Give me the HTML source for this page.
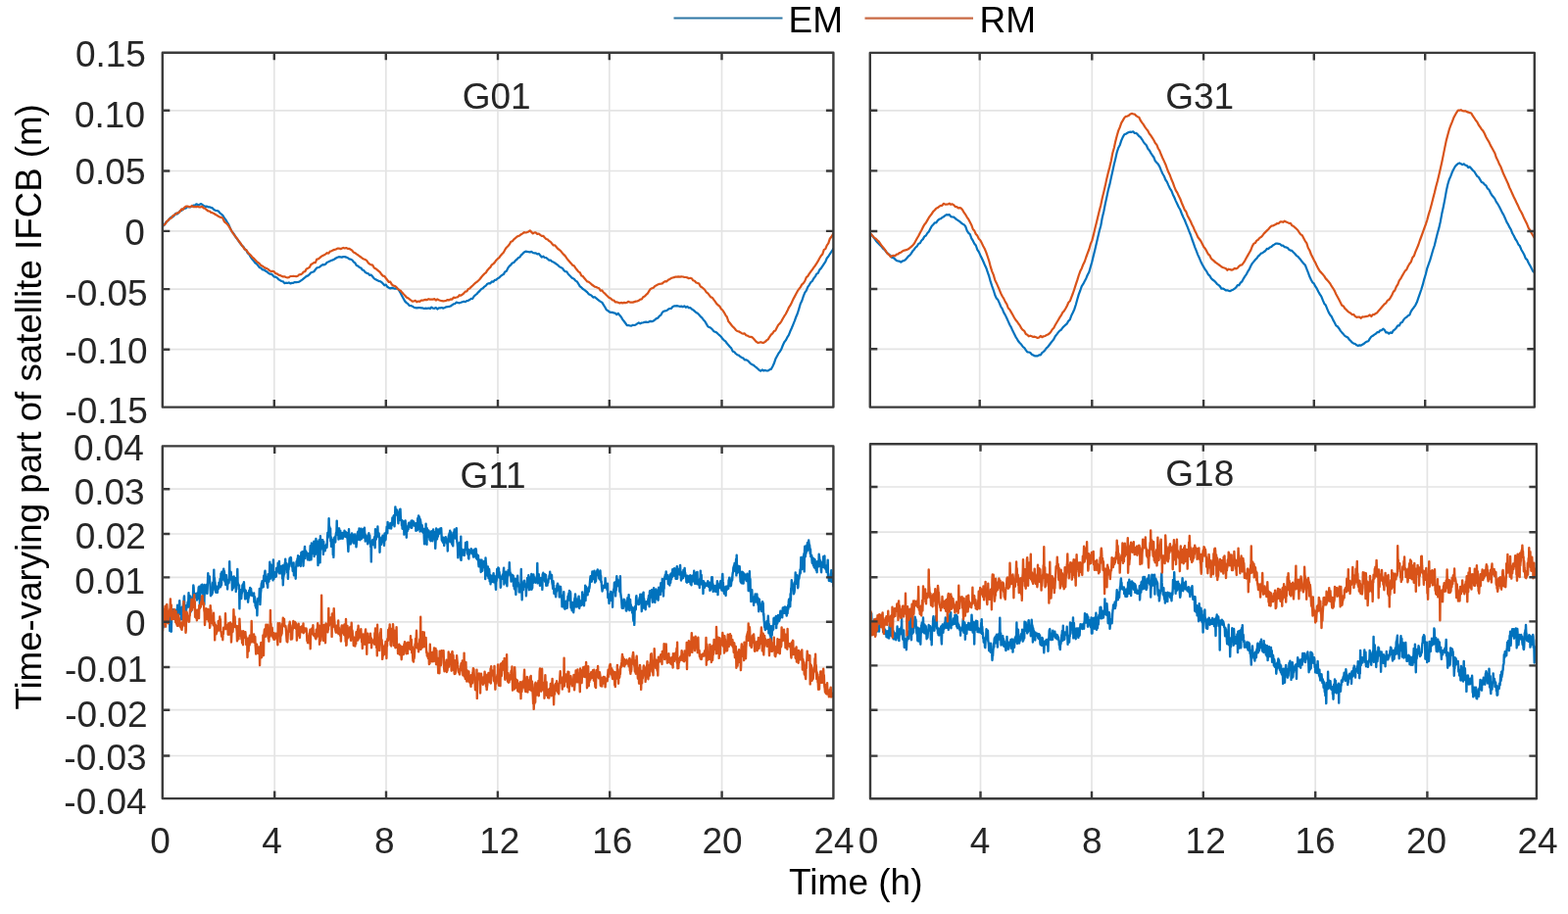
<!DOCTYPE html>
<html><head><meta charset="utf-8"><title>IFCB</title><style>
html,body{margin:0;padding:0;background:#fff;overflow:hidden;}
svg{display:block;}
text{font-family:"Liberation Sans",Arial,Helvetica,sans-serif;}
</style></head><body>
<svg width="1600" height="933" viewBox="0 0 1600 933">
<rect width="1600" height="933" fill="#fff"/>
<g stroke="#e4e4e4" stroke-width="1.7" fill="none">
<line x1="279.8" y1="53.8" x2="279.8" y2="415.6"/>
<line x1="393.8" y1="53.8" x2="393.8" y2="415.6"/>
<line x1="508" y1="53.8" x2="508" y2="415.6"/>
<line x1="621.8" y1="53.8" x2="621.8" y2="415.6"/>
<line x1="736.5" y1="53.8" x2="736.5" y2="415.6"/>
<line x1="165.8" y1="112.8" x2="850.4" y2="112.8"/>
<line x1="165.8" y1="174.5" x2="850.4" y2="174.5"/>
<line x1="165.8" y1="235.9" x2="850.4" y2="235.9"/>
<line x1="165.8" y1="295.1" x2="850.4" y2="295.1"/>
<line x1="165.8" y1="356.7" x2="850.4" y2="356.7"/>
</g>
<clipPath id="c1"><rect x="165.8" y="53.8" width="684.6" height="361.8"/></clipPath>
<g stroke="#e4e4e4" stroke-width="1.7" fill="none">
<line x1="999.7" y1="53.9" x2="999.7" y2="415.6"/>
<line x1="1114.3" y1="53.9" x2="1114.3" y2="415.6"/>
<line x1="1228.1" y1="53.9" x2="1228.1" y2="415.6"/>
<line x1="1340.8" y1="53.9" x2="1340.8" y2="415.6"/>
<line x1="1454.2" y1="53.9" x2="1454.2" y2="415.6"/>
<line x1="887.8" y1="112.8" x2="1565.8" y2="112.8"/>
<line x1="887.8" y1="174.4" x2="1565.8" y2="174.4"/>
<line x1="887.8" y1="236" x2="1565.8" y2="236"/>
<line x1="887.8" y1="295" x2="1565.8" y2="295"/>
<line x1="887.8" y1="356.3" x2="1565.8" y2="356.3"/>
</g>
<clipPath id="c2"><rect x="887.8" y="53.9" width="678" height="361.7"/></clipPath>
<g stroke="#e4e4e4" stroke-width="1.7" fill="none">
<line x1="280.2" y1="455.4" x2="280.2" y2="815.1"/>
<line x1="394" y1="455.4" x2="394" y2="815.1"/>
<line x1="507.9" y1="455.4" x2="507.9" y2="815.1"/>
<line x1="622.2" y1="455.4" x2="622.2" y2="815.1"/>
<line x1="736.6" y1="455.4" x2="736.6" y2="815.1"/>
<line x1="165.8" y1="499.2" x2="850.4" y2="499.2"/>
<line x1="165.8" y1="545" x2="850.4" y2="545"/>
<line x1="165.8" y1="589.4" x2="850.4" y2="589.4"/>
<line x1="165.8" y1="634.8" x2="850.4" y2="634.8"/>
<line x1="165.8" y1="681" x2="850.4" y2="681"/>
<line x1="165.8" y1="724.7" x2="850.4" y2="724.7"/>
<line x1="165.8" y1="771.5" x2="850.4" y2="771.5"/>
</g>
<clipPath id="c3"><rect x="165.8" y="455.4" width="684.6" height="359.7"/></clipPath>
<g stroke="#e4e4e4" stroke-width="1.7" fill="none">
<line x1="1000.5" y1="453.3" x2="1000.5" y2="815.2"/>
<line x1="1114" y1="453.3" x2="1114" y2="815.2"/>
<line x1="1227.8" y1="453.3" x2="1227.8" y2="815.2"/>
<line x1="1342.2" y1="453.3" x2="1342.2" y2="815.2"/>
<line x1="1456.4" y1="453.3" x2="1456.4" y2="815.2"/>
<line x1="888" y1="497" x2="1567.9" y2="497"/>
<line x1="888" y1="543.2" x2="1567.9" y2="543.2"/>
<line x1="888" y1="589.2" x2="1567.9" y2="589.2"/>
<line x1="888" y1="634.4" x2="1567.9" y2="634.4"/>
<line x1="888" y1="679.4" x2="1567.9" y2="679.4"/>
<line x1="888" y1="724.7" x2="1567.9" y2="724.7"/>
<line x1="888" y1="771.6" x2="1567.9" y2="771.6"/>
</g>
<clipPath id="c4"><rect x="888" y="453.3" width="679.9" height="361.9"/></clipPath>
<polyline clip-path="url(#c1)" fill="none" stroke="#0072bd" stroke-width="2.2" stroke-linejoin="round" points="165.8,230.6 167.3,230.1 168.8,227.5 170.3,226.2 171.8,224.8 173.3,223.1 174.8,221.5 176.3,221.3 177.8,220 179.3,217.8 180.8,218.6 182.3,217 183.8,215.2 185.3,215 186.8,213.5 188.3,212.8 189.8,212.5 191.3,211 192.8,211.3 194.3,211.3 195.8,210.8 197.3,209.7 198.8,209.9 200.3,208.4 201.8,208.9 203.3,209 204.8,208.1 206.3,208.8 207.8,209.9 209.3,210.8 210.8,210.6 212.3,211.3 213.8,211.3 215.3,211.9 216.8,212.4 218.3,214 219.8,214.8 221.3,215 222.8,215.6 224.3,217.3 225.8,218.5 227.3,219.8 228.8,222.4 230.3,224.2 231.8,226.9 233.3,229.2 234.8,232.6 236.3,235.9 237.8,237.7 239.3,239.9 240.8,242.3 242.3,244.3 243.8,246.5 245.3,248.5 246.8,250.6 248.3,251.9 249.8,254.4 251.3,255.5 252.8,258.4 254.3,259.8 255.8,262.4 257.3,264.6 258.8,266.2 260.3,268.3 261.8,269.2 263.3,271.1 264.8,273.1 266.3,273.5 267.8,275.4 269.3,275.4 270.8,276.5 272.3,277.3 273.8,278.6 275.3,279.6 276.8,279.7 278.3,280.9 279.8,282.6 281.3,282.7 282.8,283.6 284.3,285.3 285.8,286.1 287.3,287 288.8,287.3 290.3,289.1 291.8,288.7 293.3,289 294.8,288.4 296.3,289.4 297.8,288.9 299.3,288.8 300.8,288.1 302.3,288.1 303.8,287.9 305.3,287.6 306.8,286.6 308.3,285.6 309.8,284.4 311.3,283.2 312.8,281.9 314.3,281.4 315.8,280 317.3,278.2 318.8,277.8 320.3,277.2 321.8,275.3 323.3,273.4 324.8,273 326.3,272.4 327.8,271.2 329.3,270.1 330.8,270.3 332.3,269.5 333.8,267.7 335.3,267.3 336.8,266.4 338.3,265.8 339.8,265.4 341.3,264.5 342.8,263.5 344.3,262.7 345.8,262.2 347.3,262.3 348.8,262.6 350.3,262.1 351.8,262.1 353.3,262.6 354.8,263.2 356.3,264.3 357.8,264.6 359.3,265.4 360.8,267.3 362.3,268.4 363.8,271 365.3,271.6 366.8,272.9 368.3,273.5 369.8,275.5 371.3,276.1 372.8,278 374.3,278.9 375.8,279.3 377.3,280.9 378.8,280.6 380.3,282.5 381.8,284.4 383.3,285.2 384.8,286 386.3,286.8 387.8,287.1 389.3,288 390.8,289.6 392.3,291.3 393.8,290.6 395.3,292.8 396.8,293.7 398.3,294.4 399.8,293.9 401.3,294.2 402.8,294.6 404.3,294.4 405.8,294.8 407.3,296.6 408.8,299.3 410.3,302.3 411.8,305 413.3,307.6 414.8,309.1 416.3,310.2 417.8,311.9 419.3,312.1 420.8,312.7 422.3,313.7 423.8,314.2 425.3,314.4 426.8,314.1 428.3,314 429.8,314.3 431.3,314.4 432.8,315 434.3,314.6 435.8,314.8 437.3,314.5 438.8,315.1 440.3,313.6 441.8,314.7 443.3,314.8 444.8,314 446.3,315.5 447.8,314.4 449.3,314.4 450.8,314 452.3,314.7 453.8,314.1 455.3,313.3 456.8,313.2 458.3,312.8 459.8,312.5 461.3,311.4 462.8,310.3 464.3,310 465.8,308.7 467.3,309 468.8,309.3 470.3,308.8 471.8,308.2 473.3,307.7 474.8,308.1 476.3,307.1 477.8,306.8 479.3,306 480.8,304.8 482.3,304.8 483.8,302.3 485.3,301 486.8,299.8 488.3,298.1 489.8,296.6 491.3,295 492.8,294.3 494.3,292.6 495.8,291.6 497.3,289.8 498.8,289.2 500.3,289.3 501.8,287.4 503.3,287.7 504.8,285.9 506.3,285.6 507.8,284.2 509.3,283.6 510.8,281.9 512.3,280.8 513.8,280.1 515.3,277.4 516.8,276.7 518.3,273.7 519.8,271.6 521.3,270.3 522.8,268.5 524.3,267.9 525.8,266.2 527.3,264.9 528.8,263.2 530.3,262.6 531.8,260.4 533.3,259.1 534.8,257.5 536.3,256.7 537.8,256.8 539.3,257.2 540.8,257.4 542.3,256.8 543.8,258 545.3,258.3 546.8,258.3 548.3,259.5 549.8,258.9 551.3,260.7 552.8,262.5 554.3,261.7 555.8,263 557.3,263 558.8,264.3 560.3,265.7 561.8,265.7 563.3,267 564.8,267.6 566.3,268.5 567.8,269.6 569.3,270.7 570.8,272.1 572.3,273.1 573.8,273.7 575.3,275.9 576.8,277.2 578.3,277.3 579.8,279.8 581.3,281.3 582.8,282.8 584.3,284.1 585.8,284.7 587.3,286.6 588.8,287.4 590.3,289.8 591.8,292.4 593.3,293.4 594.8,295 596.3,295.9 597.8,297.1 599.3,298.4 600.8,300.2 602.3,300.9 603.8,301.9 605.3,303.6 606.8,303.2 608.3,304.3 609.8,305.6 611.3,306.8 612.8,307.9 614.3,308.7 615.8,311.1 617.3,313.5 618.8,316.3 620.3,317.1 621.8,318.4 623.3,318.9 624.8,318.9 626.3,319.4 627.8,319.7 629.3,321.1 630.8,319.8 632.3,321.8 633.8,323.5 635.3,326.1 636.8,328 638.3,330 639.8,332.1 641.3,332 642.8,332.5 644.3,332.6 645.8,331.8 647.3,332 648.8,331.4 650.3,330.3 651.8,329.3 653.3,330.3 654.8,329.5 656.3,329.3 657.8,328.9 659.3,328.7 660.8,329 662.3,328.4 663.8,327.9 665.3,328.2 666.8,327.6 668.3,326.4 669.8,325.1 671.3,324.6 672.8,322.7 674.3,321.7 675.8,319 677.3,317.7 678.8,317.3 680.3,317 681.8,315.8 683.3,315 684.8,315 686.3,313.2 687.8,312.4 689.3,312.3 690.8,312.2 692.3,312.5 693.8,312.8 695.3,312.6 696.8,313.3 698.3,312.4 699.8,313.8 701.3,312.9 702.8,314.3 704.3,314 705.8,315.5 707.3,316.4 708.8,317.7 710.3,319 711.8,319.8 713.3,321.3 714.8,323.1 716.3,324.3 717.8,326.5 719.3,328 720.8,330.6 722.3,333.3 723.8,334.1 725.3,334.8 726.8,336.2 728.3,338.2 729.8,338.7 731.3,339.5 732.8,341 734.3,342.3 735.8,343.7 737.3,345.9 738.8,347.3 740.3,348.3 741.8,350.6 743.3,352.2 744.8,354 746.3,355.6 747.8,358.8 749.3,359.3 750.8,361 752.3,362.2 753.8,362.6 755.3,364 756.8,364.9 758.3,365.6 759.8,367.3 761.3,367.3 762.8,368 764.3,369.4 765.8,371.1 767.3,372 768.8,372.7 770.3,374 771.8,375.2 773.3,376.5 774.8,377.9 776.3,378.7 777.8,377.5 779.3,378.5 780.8,377.9 782.3,378.5 783.8,378.4 785.3,377.3 786.8,376.9 788.3,374.2 789.8,371.1 791.3,366.6 792.8,363.8 794.3,360.9 795.8,358.8 797.3,356.4 798.8,352.5 800.3,349.3 801.8,347.4 803.3,344.4 804.8,342.2 806.3,338.3 807.8,335 809.3,331.3 810.8,327.6 812.3,323.5 813.8,320 815.3,315.2 816.8,310 818.3,307 819.8,302.4 821.3,298.7 822.8,296.6 824.3,292.8 825.8,290.8 827.3,288.2 828.8,287 830.3,284.2 831.8,282.4 833.3,279.6 834.8,278.8 836.3,275.4 837.8,273.9 839.3,271.7 840.8,269.4 842.3,267.2 843.8,263.5 845.3,261.8 846.8,259.3 848.3,257 849.8,254.8 850.4,253.4"/>
<polyline clip-path="url(#c1)" fill="none" stroke="#d95319" stroke-width="2.2" stroke-linejoin="round" points="165.8,230.9 167.3,229.5 168.8,228.6 170.3,225.8 171.8,224.8 173.3,223 174.8,222.7 176.3,220.2 177.8,219.6 179.3,218.4 180.8,217.3 182.3,217.1 183.8,215.6 185.3,213.4 186.8,213.9 188.3,211.6 189.8,210.7 191.3,210.5 192.8,211.1 194.3,211.2 195.8,210 197.3,211.2 198.8,210.9 200.3,211.3 201.8,210.8 203.3,211.4 204.8,211.3 206.3,210.7 207.8,212.4 209.3,212.8 210.8,214.1 212.3,215.4 213.8,215.5 215.3,216.9 216.8,217.3 218.3,217.9 219.8,219 221.3,219.7 222.8,220.8 224.3,221.6 225.8,221.9 227.3,222.7 228.8,226.1 230.3,227.5 231.8,228.7 233.3,230.6 234.8,233.1 236.3,235.7 237.8,238.2 239.3,240.2 240.8,242.1 242.3,244 243.8,246.3 245.3,248.2 246.8,250.5 248.3,252.4 249.8,254.5 251.3,255.2 252.8,257.6 254.3,259.2 255.8,260.5 257.3,262.5 258.8,263.6 260.3,265.2 261.8,266.8 263.3,268 264.8,269.1 266.3,271 267.8,271.6 269.3,272.7 270.8,273.6 272.3,274.1 273.8,274.9 275.3,276.5 276.8,276.8 278.3,276.9 279.8,277.4 281.3,279.2 282.8,279.5 284.3,280.6 285.8,281.1 287.3,281.8 288.8,282.4 290.3,282.3 291.8,283 293.3,283.4 294.8,283.2 296.3,282 297.8,282 299.3,281.8 300.8,282 302.3,282.2 303.8,281.7 305.3,280.3 306.8,280.2 308.3,279.4 309.8,277.5 311.3,277.1 312.8,274.4 314.3,273.7 315.8,272.9 317.3,270 318.8,269.2 320.3,268.2 321.8,268.1 323.3,264.5 324.8,264.4 326.3,263.2 327.8,261.9 329.3,260.9 330.8,260.2 332.3,259.4 333.8,258.2 335.3,258.6 336.8,256.6 338.3,256.2 339.8,255.4 341.3,254.9 342.8,254.5 344.3,253.6 345.8,253.5 347.3,254.1 348.8,253.6 350.3,252.9 351.8,253.5 353.3,253 354.8,253.9 356.3,253.8 357.8,254.7 359.3,255.7 360.8,257.6 362.3,258.2 363.8,259.4 365.3,260.3 366.8,261.5 368.3,262.5 369.8,263.7 371.3,264.4 372.8,265 374.3,266.2 375.8,268.3 377.3,269.6 378.8,270.4 380.3,270.7 381.8,273.5 383.3,274.2 384.8,275.3 386.3,276.6 387.8,277.8 389.3,280.1 390.8,281.6 392.3,281.9 393.8,284 395.3,286 396.8,288 398.3,287.7 399.8,290.4 401.3,291.7 402.8,291.8 404.3,292.9 405.8,294.8 407.3,295.9 408.8,296.8 410.3,298.6 411.8,300.3 413.3,301.7 414.8,303.5 416.3,304.2 417.8,305.3 419.3,306.5 420.8,307.7 422.3,307.5 423.8,306.8 425.3,308.3 426.8,307.5 428.3,307.8 429.8,306.7 431.3,306.7 432.8,306.2 434.3,305.9 435.8,306.2 437.3,305.2 438.8,305.6 440.3,305.7 441.8,305.7 443.3,305.1 444.8,306.5 446.3,305.4 447.8,306.2 449.3,306.8 450.8,307.2 452.3,307.3 453.8,307.1 455.3,306.8 456.8,306.1 458.3,306.4 459.8,305.4 461.3,305.6 462.8,303.7 464.3,303.8 465.8,303.5 467.3,303.1 468.8,301.2 470.3,301.7 471.8,300.7 473.3,299.4 474.8,297.6 476.3,297.3 477.8,295.1 479.3,294.5 480.8,292.8 482.3,291.5 483.8,290 485.3,288.6 486.8,287.6 488.3,286.2 489.8,284.7 491.3,282.8 492.8,281.1 494.3,279.4 495.8,278.4 497.3,275.9 498.8,274.2 500.3,272.9 501.8,270.4 503.3,269.4 504.8,267.9 506.3,265.7 507.8,264.2 509.3,263.1 510.8,260.9 512.3,259.2 513.8,257.7 515.3,254.9 516.8,252.7 518.3,251.2 519.8,249.5 521.3,246.7 522.8,246.2 524.3,244.4 525.8,243.2 527.3,241.8 528.8,241 530.3,240.4 531.8,239.2 533.3,238.4 534.8,237.2 536.3,237.5 537.8,237.1 539.3,236.5 540.8,235.4 542.3,236.9 543.8,238.4 545.3,237.4 546.8,237.4 548.3,239 549.8,238.5 551.3,239.8 552.8,240.8 554.3,240.8 555.8,242.5 557.3,244 558.8,244.4 560.3,246 561.8,246.9 563.3,248.7 564.8,250.4 566.3,250.4 567.8,252.2 569.3,254 570.8,255 572.3,256.4 573.8,258.2 575.3,259.9 576.8,261.4 578.3,263.6 579.8,265.5 581.3,267.2 582.8,268.9 584.3,270.8 585.8,271.3 587.3,273.6 588.8,275.5 590.3,277.4 591.8,278.2 593.3,281.5 594.8,282 596.3,284.1 597.8,285.8 599.3,287.4 600.8,287.8 602.3,289 603.8,290.5 605.3,291.5 606.8,292.6 608.3,293 609.8,293.7 611.3,294.3 612.8,296.7 614.3,296.3 615.8,298.5 617.3,299.7 618.8,301.3 620.3,302.7 621.8,304.1 623.3,304.8 624.8,306.3 626.3,306.5 627.8,308.3 629.3,308.4 630.8,308.8 632.3,309.5 633.8,308.9 635.3,309.4 636.8,308.8 638.3,309.1 639.8,308.7 641.3,307.8 642.8,308.6 644.3,308.6 645.8,308.6 647.3,308.1 648.8,307.6 650.3,307.5 651.8,306.8 653.3,305.7 654.8,305.5 656.3,303.2 657.8,302.5 659.3,300.9 660.8,299.7 662.3,297.1 663.8,294.9 665.3,294.2 666.8,293.8 668.3,292.1 669.8,291.3 671.3,290.4 672.8,289.8 674.3,289.7 675.8,289.4 677.3,288 678.8,287.1 680.3,287.3 681.8,285.8 683.3,285 684.8,284.1 686.3,283.5 687.8,283.2 689.3,282.5 690.8,282.6 692.3,282.3 693.8,282.6 695.3,282.3 696.8,282.5 698.3,282.9 699.8,283 701.3,283.3 702.8,284.2 704.3,283.8 705.8,284.2 707.3,286.3 708.8,286.8 710.3,288.5 711.8,288.9 713.3,289.6 714.8,292.6 716.3,293.3 717.8,294.5 719.3,296 720.8,298.3 722.3,299.4 723.8,301.4 725.3,303.4 726.8,303.8 728.3,305.9 729.8,307.9 731.3,310.1 732.8,311.5 734.3,312.6 735.8,315.3 737.3,316.5 738.8,318.8 740.3,321.6 741.8,323.5 743.3,328.1 744.8,329.8 746.3,331.7 747.8,333.5 749.3,334.9 750.8,336.8 752.3,338 753.8,338.3 755.3,339.2 756.8,340.2 758.3,340.6 759.8,340.4 761.3,342.2 762.8,342.6 764.3,343.6 765.8,343.8 767.3,344.1 768.8,345.5 770.3,347.2 771.8,348.9 773.3,349.9 774.8,349.6 776.3,349.2 777.8,349.8 779.3,349.8 780.8,348.9 782.3,347.4 783.8,346.4 785.3,343.8 786.8,341.6 788.3,340.3 789.8,338.1 791.3,337.4 792.8,334.2 794.3,331.5 795.8,330.2 797.3,328.1 798.8,325.2 800.3,322.7 801.8,320.5 803.3,317.6 804.8,314.2 806.3,311.9 807.8,309 809.3,305.6 810.8,302.9 812.3,300.1 813.8,297.2 815.3,295 816.8,293.1 818.3,290.4 819.8,289.1 821.3,286.9 822.8,283.2 824.3,281.9 825.8,279.4 827.3,277.3 828.8,275.4 830.3,273.1 831.8,271.2 833.3,268.8 834.8,266.4 836.3,263.5 837.8,261.1 839.3,259.4 840.8,254.9 842.3,254.1 843.8,250.3 845.3,248.3 846.8,243.7 848.3,241.8 849.8,239.4 850.4,237.9"/>
<polyline clip-path="url(#c2)" fill="none" stroke="#0072bd" stroke-width="2.2" stroke-linejoin="round" points="887.8,238.7 889.3,239.7 890.8,241.7 892.3,243.4 893.8,245.7 895.3,247.4 896.8,248.9 898.3,250.5 899.8,252.1 901.3,254 902.8,255.2 904.3,257.2 905.8,258.7 907.3,259.9 908.8,261.1 910.3,263 911.8,263.1 913.3,264.6 914.8,266 916.3,266.5 917.8,266.7 919.3,267.6 920.8,266.5 922.3,266.1 923.8,265.2 925.3,263.6 926.8,261.7 928.3,260.6 929.8,258.7 931.3,256.3 932.8,254.7 934.3,252.5 935.8,251.3 937.3,248.7 938.8,248.2 940.3,245.5 941.8,244.1 943.3,241.4 944.8,240.5 946.3,238 947.8,236.4 949.3,233.5 950.8,230.7 952.3,229.2 953.8,227.4 955.3,227.3 956.8,225.1 958.3,223.8 959.8,223.3 961.3,222.1 962.8,221.3 964.3,220.1 965.8,219.1 967.3,219.3 968.8,219.1 970.3,221.1 971.8,221.5 973.3,221.7 974.8,223 976.3,224.1 977.8,225.1 979.3,226.2 980.8,227.5 982.3,228.6 983.8,229.4 985.3,231.3 986.8,235.6 988.3,237.9 989.8,239.2 991.3,243.3 992.8,245.7 994.3,248.7 995.8,250.5 997.3,254.8 998.8,257.1 1000.3,260.4 1001.8,263.5 1003.3,266.8 1004.8,270.3 1006.3,273.4 1007.8,277.8 1009.3,282.2 1010.8,287.7 1012.3,292.2 1013.8,296.3 1015.3,301.3 1016.8,304.5 1018.3,306.1 1019.8,309.4 1021.3,313 1022.8,315.3 1024.3,319.2 1025.8,321.6 1027.3,324.8 1028.8,328.1 1030.3,331.5 1031.8,334.1 1033.3,337.6 1034.8,340.5 1036.3,343.6 1037.8,346 1039.3,348.6 1040.8,350.3 1042.3,351.8 1043.8,354 1045.3,355.2 1046.8,357.4 1048.3,359.4 1049.8,359.5 1051.3,360.1 1052.8,361.8 1054.3,362.5 1055.8,363.3 1057.3,363.3 1058.8,363.4 1060.3,362.3 1061.8,362.4 1063.3,360.2 1064.8,359 1066.3,357.4 1067.8,355.3 1069.3,354 1070.8,352 1072.3,350 1073.8,348.1 1075.3,346.3 1076.8,343.3 1078.3,341.4 1079.8,339.4 1081.3,337.6 1082.8,336.7 1084.3,334.6 1085.8,333 1087.3,331.6 1088.8,330.3 1090.3,327.6 1091.8,326.2 1093.3,322 1094.8,319 1096.3,315.7 1097.8,311 1099.3,305.5 1100.8,300.4 1102.3,296.5 1103.8,292.1 1105.3,289.9 1106.8,287 1108.3,284.2 1109.8,280.5 1111.3,277.7 1112.8,272.5 1114.3,267.2 1115.8,261.1 1117.3,254.9 1118.8,248.5 1120.3,242.1 1121.8,235.7 1123.3,230.3 1124.8,221.9 1126.3,215.7 1127.8,208 1129.3,201.3 1130.8,194 1132.3,188.4 1133.8,181.6 1135.3,174.7 1136.8,167.8 1138.3,161.7 1139.8,155.1 1141.3,150.7 1142.8,147.9 1144.3,143.2 1145.8,139.9 1147.3,137.3 1148.8,136.7 1150.3,135.8 1151.8,135 1153.3,134.7 1154.8,134.8 1156.3,134.3 1157.8,136 1159.3,135.9 1160.8,137.2 1162.3,139 1163.8,140.1 1165.3,142.3 1166.8,144.8 1168.3,146.8 1169.8,148.2 1171.3,151.7 1172.8,153.4 1174.3,156.1 1175.8,158.5 1177.3,160.5 1178.8,164.3 1180.3,165.9 1181.8,167.6 1183.3,170.1 1184.8,173.9 1186.3,177.2 1187.8,179.7 1189.3,183.5 1190.8,185.6 1192.3,189.1 1193.8,192.3 1195.3,194.6 1196.8,198.4 1198.3,201.5 1199.8,205.1 1201.3,208.3 1202.8,211.5 1204.3,214 1205.8,218 1207.3,221.5 1208.8,224.5 1210.3,228.3 1211.8,231.9 1213.3,235.9 1214.8,239.5 1216.3,244 1217.8,248.1 1219.3,252.3 1220.8,256.1 1222.3,260.1 1223.8,263.3 1225.3,266.9 1226.8,270 1228.3,272.6 1229.8,275.2 1231.3,277.2 1232.8,280.1 1234.3,281.4 1235.8,283.9 1237.3,285.5 1238.8,286.5 1240.3,287.9 1241.8,289.8 1243.3,290.8 1244.8,292.1 1246.3,294.6 1247.8,294.5 1249.3,295.3 1250.8,296.3 1252.3,296.3 1253.8,296.8 1255.3,297.1 1256.8,296.2 1258.3,295.7 1259.8,294.6 1261.3,293.4 1262.8,291.1 1264.3,291.1 1265.8,288.7 1267.3,287.4 1268.8,284.6 1270.3,282.1 1271.8,280.1 1273.3,277.2 1274.8,274.9 1276.3,271.5 1277.8,268.9 1279.3,267.1 1280.8,265.3 1282.3,263.8 1283.8,261.7 1285.3,260.4 1286.8,258.6 1288.3,258.2 1289.8,257 1291.3,256 1292.8,253.8 1294.3,254.1 1295.8,252.5 1297.3,251.9 1298.8,250.5 1300.3,249.6 1301.8,248.6 1303.3,248.7 1304.8,248.8 1306.3,249.3 1307.8,250.7 1309.3,250.7 1310.8,252.1 1312.3,252.4 1313.8,253.1 1315.3,254.7 1316.8,255.6 1318.3,255.9 1319.8,257.5 1321.3,259 1322.8,260.8 1324.3,261.8 1325.8,263.6 1327.3,265.3 1328.8,267.3 1330.3,269.1 1331.8,270.5 1333.3,274.4 1334.8,278.2 1336.3,282.3 1337.8,285.5 1339.3,288.3 1340.8,289.4 1342.3,292.4 1343.8,294.7 1345.3,297.7 1346.8,300.4 1348.3,302.6 1349.8,306.4 1351.3,309.9 1352.8,311.6 1354.3,315.3 1355.8,318.9 1357.3,321.5 1358.8,323.3 1360.3,326.6 1361.8,329.2 1363.3,332.4 1364.8,333.3 1366.3,335.2 1367.8,337.6 1369.3,339.4 1370.8,341.1 1372.3,342.9 1373.8,343.7 1375.3,344.5 1376.8,346.6 1378.3,348 1379.8,349.7 1381.3,350.7 1382.8,351 1384.3,352.3 1385.8,352.9 1387.3,352.4 1388.8,352.7 1390.3,351.7 1391.8,350.8 1393.3,349.5 1394.8,348.6 1396.3,348.2 1397.8,345.6 1399.3,343.6 1400.8,342.8 1402.3,341.6 1403.8,340.8 1405.3,339.2 1406.8,339.2 1408.3,337.3 1409.8,337.1 1411.3,335.7 1412.8,336.9 1414.3,339.5 1415.8,339.3 1417.3,340.6 1418.8,339.4 1420.3,339.9 1421.8,337.4 1423.3,336.3 1424.8,334.7 1426.3,332.3 1427.8,332.4 1429.3,329.6 1430.8,329 1432.3,326.4 1433.8,324.6 1435.3,323.8 1436.8,322.2 1438.3,321.6 1439.8,317.9 1441.3,315.6 1442.8,313.7 1444.3,311.6 1445.8,308.6 1447.3,304.1 1448.8,299.9 1450.3,295.5 1451.8,290.7 1453.3,284.8 1454.8,280 1456.3,273.8 1457.8,269.7 1459.3,265.4 1460.8,260.2 1462.3,255 1463.8,250.5 1465.3,244.2 1466.8,238.2 1468.3,232.9 1469.8,226.2 1471.3,218.1 1472.8,211.2 1474.3,203.6 1475.8,195.1 1477.3,188.3 1478.8,183.2 1480.3,179.9 1481.8,175.8 1483.3,172.7 1484.8,170 1486.3,168.3 1487.8,167 1489.3,166.4 1490.8,167.2 1492.3,168.1 1493.8,167.3 1495.3,168.7 1496.8,169 1498.3,171 1499.8,170.3 1501.3,172 1502.8,173.8 1504.3,175 1505.8,177.5 1507.3,179.9 1508.8,180.9 1510.3,183.4 1511.8,185.9 1513.3,186.6 1514.8,188.3 1516.3,189.3 1517.8,192.3 1519.3,193.5 1520.8,196.6 1522.3,199.2 1523.8,201 1525.3,202.9 1526.8,206.1 1528.3,208.2 1529.8,210.7 1531.3,213.7 1532.8,216.9 1534.3,219.4 1535.8,222.7 1537.3,226.4 1538.8,228.8 1540.3,231.9 1541.8,234.3 1543.3,238.3 1544.8,240.8 1546.3,244 1547.8,246.1 1549.3,249.4 1550.8,251 1552.3,254.7 1553.8,257.3 1555.3,260 1556.8,263.9 1558.3,265.2 1559.8,268.5 1561.3,271.1 1562.8,274.1 1564.3,276.9 1565.8,278.3"/>
<polyline clip-path="url(#c2)" fill="none" stroke="#d95319" stroke-width="2.2" stroke-linejoin="round" points="887.8,238 889.3,239.3 890.8,241.3 892.3,242.9 893.8,243.8 895.3,245.3 896.8,246.6 898.3,248.9 899.8,251.1 901.3,252.7 902.8,254.6 904.3,256.9 905.8,259 907.3,260.1 908.8,262.2 910.3,261.3 911.8,260.8 913.3,261.3 914.8,259.7 916.3,259.5 917.8,258.1 919.3,257.7 920.8,256.5 922.3,255.7 923.8,255.4 925.3,254.9 926.8,254.3 928.3,253.1 929.8,251.9 931.3,250.5 932.8,248.8 934.3,246 935.8,243.3 937.3,240.8 938.8,237.8 940.3,235 941.8,231.9 943.3,229.2 944.8,227.5 946.3,224.9 947.8,222.2 949.3,220.1 950.8,218.2 952.3,215.8 953.8,214.5 955.3,212.7 956.8,212.1 958.3,210.9 959.8,209.8 961.3,209.9 962.8,207.8 964.3,208.6 965.8,208.7 967.3,208.5 968.8,207.7 970.3,208.8 971.8,208.3 973.3,209.3 974.8,210.9 976.3,211.1 977.8,212.3 979.3,212.1 980.8,212.6 982.3,214.5 983.8,217.2 985.3,219.2 986.8,221.8 988.3,223.9 989.8,226.8 991.3,229.7 992.8,234 994.3,235.6 995.8,239 997.3,240.6 998.8,243.8 1000.3,245.2 1001.8,248.1 1003.3,251.3 1004.8,254 1006.3,257.6 1007.8,262 1009.3,266.5 1010.8,272.4 1012.3,277.1 1013.8,280.6 1015.3,286 1016.8,288.9 1018.3,292.4 1019.8,295.8 1021.3,299.5 1022.8,302.5 1024.3,304.9 1025.8,308.1 1027.3,310.3 1028.8,314.5 1030.3,316 1031.8,318.6 1033.3,321.2 1034.8,324 1036.3,326.5 1037.8,328.2 1039.3,330.5 1040.8,332.4 1042.3,335.3 1043.8,336.9 1045.3,337.9 1046.8,341 1048.3,341.7 1049.8,343.3 1051.3,342.7 1052.8,343.3 1054.3,343.9 1055.8,343.7 1057.3,344.2 1058.8,344.9 1060.3,344.5 1061.8,342.9 1063.3,344.2 1064.8,343.3 1066.3,343 1067.8,342.1 1069.3,341.5 1070.8,340.4 1072.3,338.8 1073.8,336.2 1075.3,334.7 1076.8,331.8 1078.3,329.3 1079.8,326.7 1081.3,324.1 1082.8,321.9 1084.3,319 1085.8,317.4 1087.3,315 1088.8,312.2 1090.3,308.8 1091.8,307.3 1093.3,303.3 1094.8,299.5 1096.3,295.1 1097.8,290.4 1099.3,285.9 1100.8,281 1102.3,276.8 1103.8,273.9 1105.3,269.9 1106.8,267 1108.3,262.5 1109.8,258.4 1111.3,254.5 1112.8,249.2 1114.3,245.6 1115.8,239.9 1117.3,233.4 1118.8,227.4 1120.3,221.3 1121.8,215 1123.3,209.2 1124.8,202.1 1126.3,196 1127.8,189.6 1129.3,182.4 1130.8,176.3 1132.3,170.6 1133.8,164.2 1135.3,156.3 1136.8,151 1138.3,144.1 1139.8,138.3 1141.3,133.1 1142.8,129.7 1144.3,125.4 1145.8,122.9 1147.3,120.2 1148.8,118.8 1150.3,118.6 1151.8,117.9 1153.3,116.5 1154.8,115.9 1156.3,116.3 1157.8,116.5 1159.3,118.2 1160.8,119.2 1162.3,119.8 1163.8,123 1165.3,125.1 1166.8,127.1 1168.3,129.6 1169.8,131.6 1171.3,133.5 1172.8,136.5 1174.3,138.3 1175.8,140.7 1177.3,143 1178.8,146.1 1180.3,147.7 1181.8,151.5 1183.3,153.8 1184.8,157.8 1186.3,161.2 1187.8,164.4 1189.3,167.7 1190.8,171.9 1192.3,175.8 1193.8,178.8 1195.3,183 1196.8,186.4 1198.3,190.7 1199.8,194.3 1201.3,196.6 1202.8,200.1 1204.3,203 1205.8,207 1207.3,210.5 1208.8,214.2 1210.3,216 1211.8,220.2 1213.3,222.9 1214.8,225.8 1216.3,229.2 1217.8,232.1 1219.3,235.8 1220.8,238.6 1222.3,242 1223.8,244 1225.3,246 1226.8,248.9 1228.3,252 1229.8,253.7 1231.3,256.4 1232.8,259.3 1234.3,260.6 1235.8,263.7 1237.3,265.2 1238.8,266.4 1240.3,267.9 1241.8,268.8 1243.3,269.9 1244.8,271 1246.3,272.2 1247.8,273 1249.3,273.5 1250.8,274 1252.3,275.8 1253.8,274.7 1255.3,275.1 1256.8,275.6 1258.3,275.1 1259.8,273.9 1261.3,274.4 1262.8,273.6 1264.3,271.8 1265.8,270.6 1267.3,270.3 1268.8,268.3 1270.3,266.1 1271.8,263.3 1273.3,260.6 1274.8,258 1276.3,255.4 1277.8,251.4 1279.3,248.7 1280.8,248.1 1282.3,245.6 1283.8,244.7 1285.3,242.9 1286.8,242 1288.3,240.4 1289.8,238.4 1291.3,236.9 1292.8,235.4 1294.3,234 1295.8,232.1 1297.3,230.7 1298.8,230.5 1300.3,229.7 1301.8,229 1303.3,228 1304.8,228.1 1306.3,226.4 1307.8,226.4 1309.3,226.8 1310.8,225.6 1312.3,226.5 1313.8,227.1 1315.3,227.9 1316.8,227.9 1318.3,230.2 1319.8,230.8 1321.3,232.2 1322.8,233.5 1324.3,235 1325.8,237.3 1327.3,239.4 1328.8,240.2 1330.3,243.2 1331.8,246.1 1333.3,248.1 1334.8,253 1336.3,255.5 1337.8,259.5 1339.3,262.6 1340.8,265.6 1342.3,268.3 1343.8,271.6 1345.3,274.4 1346.8,276.9 1348.3,278.4 1349.8,280.1 1351.3,281.9 1352.8,284.4 1354.3,285.9 1355.8,287.6 1357.3,289.5 1358.8,292.2 1360.3,294.3 1361.8,296.9 1363.3,300.3 1364.8,303 1366.3,305.8 1367.8,308.7 1369.3,311.7 1370.8,312.4 1372.3,314.9 1373.8,316.2 1375.3,317.8 1376.8,318.9 1378.3,319.8 1379.8,321.2 1381.3,321 1382.8,322.9 1384.3,323.8 1385.8,323.5 1387.3,323.6 1388.8,324.8 1390.3,323.4 1391.8,323.5 1393.3,323.1 1394.8,322.8 1396.3,322.5 1397.8,321.4 1399.3,323 1400.8,321.1 1402.3,321.1 1403.8,319.9 1405.3,319.2 1406.8,317.2 1408.3,315.6 1409.8,313.8 1411.3,312.1 1412.8,310.3 1414.3,309.3 1415.8,306.7 1417.3,306 1418.8,303.9 1420.3,301.3 1421.8,297.9 1423.3,296.4 1424.8,292.6 1426.3,290.3 1427.8,286.4 1429.3,284.4 1430.8,281.6 1432.3,279 1433.8,276.5 1435.3,275.1 1436.8,271.8 1438.3,269.3 1439.8,267.4 1441.3,263 1442.8,261.3 1444.3,257.2 1445.8,253.6 1447.3,250 1448.8,245.5 1450.3,241.5 1451.8,237.3 1453.3,233.1 1454.8,229.1 1456.3,224.5 1457.8,218.9 1459.3,214 1460.8,208.5 1462.3,202.5 1463.8,196.8 1465.3,190.5 1466.8,185 1468.3,178.7 1469.8,172.3 1471.3,165.4 1472.8,158.1 1474.3,150.6 1475.8,143.4 1477.3,137.8 1478.8,132.2 1480.3,128 1481.8,124.4 1483.3,120.3 1484.8,117.5 1486.3,114.8 1487.8,112.6 1489.3,112.7 1490.8,112.2 1492.3,113.1 1493.8,113.3 1495.3,113.3 1496.8,114.1 1498.3,114.6 1499.8,115.2 1501.3,115.5 1502.8,118.2 1504.3,120.3 1505.8,122.8 1507.3,124.4 1508.8,127.5 1510.3,129.6 1511.8,131.9 1513.3,133.6 1514.8,136.3 1516.3,139.8 1517.8,142.4 1519.3,144.8 1520.8,148.1 1522.3,150.7 1523.8,153.5 1525.3,156.2 1526.8,160.8 1528.3,163.7 1529.8,167.4 1531.3,170 1532.8,174 1534.3,177.8 1535.8,181 1537.3,184.2 1538.8,187.5 1540.3,191.5 1541.8,194.6 1543.3,198 1544.8,201.3 1546.3,204.3 1547.8,207.6 1549.3,210.6 1550.8,214 1552.3,216.5 1553.8,219.6 1555.3,223.1 1556.8,226 1558.3,229.1 1559.8,232.8 1561.3,235 1562.8,238 1564.3,240.5 1565.8,242.9"/>
<polyline clip-path="url(#c3)" fill="none" stroke="#0072bd" stroke-width="2.4" stroke-linejoin="round" points="165.8,635 166.1,631.1 166.4,630.9 166.7,640.5 167,628.8 167.3,630.2 167.6,633.4 167.9,631.5 168.2,628.9 168.5,627.3 168.8,628.7 169.1,627.9 169.4,624.7 169.7,627.3 170,626.8 170.3,632.8 170.6,627.8 170.9,632.5 171.2,635.8 171.5,632.6 171.8,631.1 172.1,634.5 172.4,632.8 172.7,632.7 173,627.1 173.3,644 173.6,628.7 173.9,633.3 174.2,641.3 174.5,629.4 174.8,644.8 175.1,628.5 175.4,628.8 175.7,628 176,626.1 176.3,624.4 176.6,622.2 176.9,627.9 177.2,623.7 177.5,625.3 177.8,625.7 178.1,627.8 178.4,623.8 178.7,630.6 179,624 179.3,628.4 179.6,630.8 179.9,624 180.2,622.4 180.5,625.4 180.8,622.8 181.1,617.8 181.4,618.6 181.7,628 182,627.1 182.3,624.5 182.6,627.2 182.9,624.1 183.2,613.2 183.5,622.2 183.8,621.6 184.1,626.8 184.4,621.1 184.7,623.6 185,632.4 185.3,620.1 185.6,620.9 185.9,619.8 186.2,622.4 186.5,623.7 186.8,621.5 187.1,616.1 187.4,623.8 187.7,610.5 188,608.5 188.3,618.8 188.6,618.4 188.9,617.8 189.2,620.5 189.5,622.9 189.8,631.9 190.1,620.8 190.4,620.9 190.7,619.8 191,618 191.3,617.4 191.6,614.5 191.9,617.1 192.2,614.6 192.5,605.3 192.8,619.6 193.1,613.1 193.4,612.1 193.7,612.3 194,608.5 194.3,610.3 194.6,624.6 194.9,612.8 195.2,616 195.5,623.1 195.8,616.1 196.1,613.1 196.4,611.6 196.7,609.3 197,607.6 197.3,597.5 197.6,599.2 197.9,606.9 198.2,607.2 198.5,607.4 198.8,605.9 199.1,606 199.4,609.2 199.7,607.5 200,608.6 200.3,610.6 200.6,606.1 200.9,612.6 201.2,605.5 201.5,608.5 201.8,605.6 202.1,611.1 202.4,603.9 202.7,599.5 203,602.2 203.3,598.8 203.6,604.1 203.9,616.5 204.2,604.3 204.5,601.5 204.8,601.3 205.1,605.2 205.4,597.2 205.7,602.4 206,598.5 206.3,596.8 206.6,605.7 206.9,598.4 207.2,602.6 207.5,605.2 207.8,604.4 208.1,609.9 208.4,617.1 208.7,596.9 209,606.9 209.3,600 209.6,599.9 209.9,598.2 210.2,598.2 210.5,598.8 210.8,601.5 211.1,596.8 211.4,605.9 211.7,600.2 212,592.9 212.3,585.2 212.6,592.6 212.9,590.4 213.2,588.1 213.5,594.4 213.8,588.4 214.1,593.7 214.4,595.5 214.7,602.2 215,608.3 215.3,604.9 215.6,605.7 215.9,605.8 216.2,606.8 216.5,604.2 216.8,605.4 217.1,594.7 217.4,602.7 217.7,598.8 218,591.8 218.3,581.6 218.6,593.8 218.9,589.9 219.2,593.5 219.5,594.5 219.8,598.1 220.1,604.6 220.4,600.8 220.7,604.7 221,603.7 221.3,598.8 221.6,604.3 221.9,604.8 222.2,600.8 222.5,599.4 222.8,601.1 223.1,599.3 223.4,594.7 223.7,599.5 224,598.7 224.3,595.6 224.6,590.9 224.9,599.3 225.2,594.9 225.5,585.4 225.8,597.5 226.1,594.8 226.4,583.6 226.7,591.2 227,590.6 227.3,591.7 227.6,584.2 227.9,584.1 228.2,580.6 228.5,585.1 228.8,583 229.1,585.3 229.4,593.6 229.7,593.4 230,589.3 230.3,597 230.6,589.9 230.9,587.3 231.2,592.1 231.5,592.3 231.8,592.7 232.1,601.5 232.4,592.9 232.7,594.9 233,591.6 233.3,595.3 233.6,594.3 233.9,590.8 234.2,573.3 234.5,586.7 234.8,583.1 235.1,586 235.4,583.6 235.7,584 236,589.2 236.3,592.7 236.6,588.8 236.9,602.2 237.2,593.9 237.5,595 237.8,593 238.1,600.3 238.4,595.9 238.7,588.5 239,595.5 239.3,591.8 239.6,589.9 239.9,598.4 240.2,593.8 240.5,590.3 240.8,603.9 241.1,595.1 241.4,595 241.7,593.3 242,592.4 242.3,580.9 242.6,595.7 242.9,595.2 243.2,597.6 243.5,596.9 243.8,601.6 244.1,597.7 244.4,621.3 244.7,606 245,603.7 245.3,606.3 245.6,602.3 245.9,606.8 246.2,611.1 246.5,606.8 246.8,605.4 247.1,604 247.4,597.3 247.7,598.2 248,601.4 248.3,595.9 248.6,599.3 248.9,594.1 249.2,599.3 249.5,603.6 249.8,604.9 250.1,611.5 250.4,604.8 250.7,602.7 251,604.9 251.3,606.5 251.6,605.2 251.9,606.2 252.2,609.6 252.5,611.7 252.8,605.5 253.1,614.7 253.4,610.9 253.7,610.3 254,608 254.3,602.8 254.6,608.2 254.9,603.7 255.2,599.9 255.5,601.1 255.8,602.7 256.1,600.9 256.4,604.9 256.7,604.6 257,607.5 257.3,608.1 257.6,607.8 257.9,606.7 258.2,608.2 258.5,607.6 258.8,608.7 259.1,605.5 259.4,614.6 259.7,608.9 260,609.5 260.3,610.9 260.6,618.8 260.9,616.7 261.2,620.6 261.5,616.3 261.8,616.9 262.1,614.9 262.4,628.2 262.7,616 263,612.5 263.3,611 263.6,610.9 263.9,612.1 264.2,610.2 264.5,611.6 264.8,600.9 265.1,606.3 265.4,617.1 265.7,611.3 266,605.4 266.3,603.1 266.6,598.1 266.9,595.4 267.2,597.9 267.5,593.2 267.8,599.5 268.1,597.1 268.4,595.2 268.7,599.2 269,591 269.3,587.7 269.6,587.4 269.9,593.3 270.2,584.5 270.5,582.6 270.8,589.5 271.1,590.6 271.4,588.8 271.7,591.6 272,592.4 272.3,595.9 272.6,593.6 272.9,597 273.2,599.8 273.5,586.3 273.8,587.6 274.1,588.7 274.4,593.8 274.7,586 275,587 275.3,573.8 275.6,590.8 275.9,590.7 276.2,577.2 276.5,576.4 276.8,587.7 277.1,585.7 277.4,583.7 277.7,586.4 278,585.6 278.3,589.4 278.6,592.4 278.9,571.5 279.2,590.5 279.5,590.8 279.8,586.6 280.1,589.1 280.4,586 280.7,584.2 281,585.2 281.3,586.1 281.6,588.7 281.9,588.2 282.2,579.9 282.5,584.7 282.8,582.7 283.1,583.4 283.4,583.1 283.7,574.6 284,579.7 284.3,575.8 284.6,577.7 284.9,572.9 285.2,585.4 285.5,579.8 285.8,580.4 286.1,578.9 286.4,578.5 286.7,578.1 287,579 287.3,581.3 287.6,586.2 287.9,580.5 288.2,590.7 288.5,577.2 288.8,597.2 289.1,589.2 289.4,588.3 289.7,586.6 290,584.2 290.3,585.6 290.6,575.1 290.9,579.3 291.2,570.7 291.5,576.5 291.8,579.9 292.1,579.8 292.4,580.8 292.7,575.5 293,584.2 293.3,580.2 293.6,582.7 293.9,590.9 294.2,581.3 294.5,581.4 294.8,577.8 295.1,578 295.4,571.3 295.7,569.8 296,569.5 296.3,573.5 296.6,568.9 296.9,569.4 297.2,574.4 297.5,574.3 297.8,578.5 298.1,576.7 298.4,577.8 298.7,583 299,581 299.3,579.3 299.6,574.5 299.9,587.2 300.2,580.8 300.5,581.4 300.8,584.9 301.1,587.4 301.4,581.7 301.7,590.7 302,579.8 302.3,577.8 302.6,573.2 302.9,573.6 303.2,573.1 303.5,570.3 303.8,577.4 304.1,567.1 304.4,577.5 304.7,574 305,573.8 305.3,573.2 305.6,571.6 305.9,571.2 306.2,567.9 306.5,572.8 306.8,578 307.1,569.2 307.4,564 307.7,571.5 308,569.9 308.3,570 308.6,563.3 308.9,569.5 309.2,567.9 309.5,577.7 309.8,572.1 310.1,562.6 310.4,567.3 310.7,561.7 311,557.9 311.3,570.1 311.6,561.9 311.9,563.7 312.2,566.2 312.5,563.2 312.8,565.9 313.1,564.3 313.4,564.6 313.7,565.7 314,571.5 314.3,567.4 314.6,565.9 314.9,566.2 315.2,567.6 315.5,564.9 315.8,571.8 316.1,565.3 316.4,564 316.7,557.1 317,564.5 317.3,558.4 317.6,571.4 317.9,554.5 318.2,558.6 318.5,562.7 318.8,561.9 319.1,565 319.4,562.2 319.7,564.9 320,563.7 320.3,552.7 320.6,568.1 320.9,559.2 321.2,562.1 321.5,563.2 321.8,566 322.1,558.6 322.4,550 322.7,552.2 323,558.2 323.3,552.8 323.6,556.8 323.9,557.1 324.2,562.8 324.5,577 324.8,552.8 325.1,557.4 325.4,552.8 325.7,551.2 326,553.2 326.3,553 326.6,574.3 326.9,547.3 327.2,561.2 327.5,558.1 327.8,555.5 328.1,551.4 328.4,551.3 328.7,558.8 329,556.1 329.3,551.2 329.6,557.2 329.9,566 330.2,552.9 330.5,561.1 330.8,562 331.1,557.4 331.4,557.4 331.7,562.4 332,556.9 332.3,559.9 332.6,558.9 332.9,556.3 333.2,555.6 333.5,559 333.8,555.2 334.1,547.9 334.4,543.7 334.7,548.9 335,544.5 335.3,544.1 335.6,529.3 335.9,540.4 336.2,537.4 336.5,546.8 336.8,545.4 337.1,539.4 337.4,552.5 337.7,548.2 338,557.9 338.3,550.9 338.6,554.6 338.9,552.3 339.2,552.2 339.5,551.3 339.8,566.2 340.1,558.1 340.4,568.9 340.7,549.1 341,553.8 341.3,551.5 341.6,548.2 341.9,548.6 342.2,553.5 342.5,547.2 342.8,545.6 343.1,543.5 343.4,545 343.7,531.6 344,543.1 344.3,545.7 344.6,545 344.9,539.5 345.2,542 345.5,550.6 345.8,540 346.1,539.3 346.4,543.5 346.7,543.9 347,546.4 347.3,541.8 347.6,549.8 347.9,548.6 348.2,544.8 348.5,549.6 348.8,549 349.1,545.7 349.4,543.9 349.7,549.8 350,546.3 350.3,543.9 350.6,547.7 350.9,544.7 351.2,545.1 351.5,541.6 351.8,543.5 352.1,543.8 352.4,547.9 352.7,543 353,545.8 353.3,544 353.6,548.5 353.9,544 354.2,548.5 354.5,548.2 354.8,553.1 355.1,557 355.4,563 355.7,555.1 356,540.2 356.3,554.3 356.6,553.2 356.9,553.6 357.2,552.1 357.5,546.5 357.8,555.5 358.1,547.8 358.4,552.4 358.7,545.8 359,544.5 359.3,548.1 359.6,545.2 359.9,548.7 360.2,546.9 360.5,554.3 360.8,552.9 361.1,554.6 361.4,551.6 361.7,549.5 362,545.4 362.3,548.7 362.6,552.9 362.9,553.9 363.2,554.2 363.5,558.3 363.8,555.2 364.1,551.6 364.4,548.2 364.7,544.4 365,545.7 365.3,542.7 365.6,547.5 365.9,550.7 366.2,546.5 366.5,539.5 366.8,548 367.1,544.9 367.4,551.2 367.7,540.2 368,547.2 368.3,548 368.6,539.6 368.9,550.1 369.2,544.5 369.5,548.3 369.8,547.9 370.1,544.3 370.4,543.9 370.7,548.6 371,540 371.3,544.8 371.6,545.4 371.9,538.6 372.2,544.2 372.5,548.1 372.8,552.6 373.1,551.9 373.4,546.3 373.7,548.6 374,547.3 374.3,550.5 374.6,551.1 374.9,549.1 375.2,555.4 375.5,553.1 375.8,547.4 376.1,545.7 376.4,544.2 376.7,552.5 377,550.3 377.3,546.5 377.6,553.4 377.9,554.7 378.2,558.3 378.5,555 378.8,573.4 379.1,553.7 379.4,553.1 379.7,556.3 380,551.5 380.3,551 380.6,554.5 380.9,556 381.2,554.2 381.5,550.8 381.8,553.7 382.1,548.2 382.4,556.1 382.7,559.2 383,540.2 383.3,547.4 383.6,550.8 383.9,550.1 384.2,545.8 384.5,544.9 384.8,547.8 385.1,546.8 385.4,537.5 385.7,547.3 386,546.1 386.3,546.1 386.6,544.4 386.9,549 387.2,547.7 387.5,563.7 387.8,552.3 388.1,554.4 388.4,554.9 388.7,549.5 389,555.7 389.3,553.9 389.6,551 389.9,553.1 390.2,548.3 390.5,546.6 390.8,547.6 391.1,552.3 391.4,551.7 391.7,552.5 392,556.9 392.3,549.1 392.6,544.4 392.9,551.8 393.2,550.7 393.5,550.9 393.8,545.6 394.1,545.4 394.4,541.9 394.7,537.7 395,542.8 395.3,544.1 395.6,532.9 395.9,536.6 396.2,536.8 396.5,537.8 396.8,537.2 397.1,537.5 397.4,538.7 397.7,537.8 398,539.4 398.3,534 398.6,536.7 398.9,536.2 399.2,539.5 399.5,535.4 399.8,534.2 400.1,536 400.4,528.5 400.7,532.4 401,532.4 401.3,531.3 401.6,526.6 401.9,530.6 402.2,525.9 402.5,537.3 402.8,533.6 403.1,525.6 403.4,517.4 403.7,524.3 404,525.7 404.3,520.9 404.6,524.3 404.9,520.4 405.2,522.8 405.5,524.5 405.8,522.6 406.1,527.1 406.4,534.3 406.7,530.3 407,531.3 407.3,530.2 407.6,524.9 407.9,520.2 408.2,524 408.5,519.6 408.8,527.4 409.1,531.4 409.4,531.4 409.7,530.8 410,536.5 410.3,532.9 410.6,539.8 410.9,531.8 411.2,533.1 411.5,533.5 411.8,533.6 412.1,533 412.4,545.6 412.7,532.3 413,541.3 413.3,534.1 413.6,531.4 413.9,535.5 414.2,537.5 414.5,539.9 414.8,548.7 415.1,541 415.4,541.8 415.7,542.1 416,537.3 416.3,538.8 416.6,540.4 416.9,534.5 417.2,533.7 417.5,537.6 417.8,536.6 418.1,534 418.4,535.6 418.7,534.5 419,534.7 419.3,538.7 419.6,531.7 419.9,535.5 420.2,538.8 420.5,537.3 420.8,531.5 421.1,531.9 421.4,532.1 421.7,533.8 422,532.5 422.3,534.7 422.6,533.4 422.9,536.7 423.2,536.5 423.5,536.8 423.8,534.6 424.1,534.4 424.4,541.9 424.7,537.2 425,534 425.3,535.4 425.6,534.9 425.9,541.3 426.2,529.1 426.5,540 426.8,530 427.1,526.4 427.4,538 427.7,527.4 428,528.3 428.3,531.6 428.6,542.5 428.9,530.3 429.2,532.4 429.5,534.4 429.8,540.7 430.1,542 430.4,538.8 430.7,536.3 431,539.4 431.3,543.1 431.6,540.4 431.9,544 432.2,542.7 432.5,540 432.8,549.4 433.1,555.4 433.4,549.5 433.7,547.9 434,550.1 434.3,547.5 434.6,534.7 434.9,550 435.2,549.2 435.5,555.9 435.8,539.3 436.1,543.7 436.4,546.5 436.7,548 437,543.8 437.3,541.4 437.6,541.9 437.9,545.5 438.2,545.3 438.5,551 438.8,545.2 439.1,545.1 439.4,552.2 439.7,547.4 440,542.8 440.3,542.2 440.6,550.9 440.9,549.4 441.2,552.2 441.5,550.7 441.8,547.6 442.1,540.5 442.4,546.4 442.7,549.4 443,548.6 443.3,544.8 443.6,543.2 443.9,550.2 444.2,559.9 444.5,553.6 444.8,550.4 445.1,539.5 445.4,548.1 445.7,544 446,550.4 446.3,544.7 446.6,545.2 446.9,547.7 447.2,540.5 447.5,545.4 447.8,541.9 448.1,544.9 448.4,540.7 448.7,540.5 449,543.6 449.3,539.4 449.6,542 449.9,541.9 450.2,539.2 450.5,545.2 450.8,551.5 451.1,550.7 451.4,552.6 451.7,549.4 452,553.7 452.3,548.8 452.6,554.4 452.9,549.2 453.2,557 453.5,552.5 453.8,551.1 454.1,552.5 454.4,550.5 454.7,548.2 455,551.1 455.3,550.6 455.6,550.4 455.9,554.6 456.2,553.2 456.5,552 456.8,562.5 457.1,551.3 457.4,550.1 457.7,547.9 458,546.3 458.3,546 458.6,544.3 458.9,550.4 459.2,541.6 459.5,553.3 459.8,548.4 460.1,544.5 460.4,543.5 460.7,546.8 461,548.2 461.3,555.7 461.6,550.7 461.9,551 462.2,557.4 462.5,550.5 462.8,549.6 463.1,543.4 463.4,544.5 463.7,540.5 464,542.5 464.3,547.4 464.6,545.2 464.9,549.6 465.2,549.4 465.5,548 465.8,539.1 466.1,550.6 466.4,553.1 466.7,554.7 467,558.4 467.3,569.2 467.6,563.2 467.9,558.6 468.2,559.9 468.5,554.6 468.8,560.4 469.1,553.6 469.4,556.7 469.7,562.9 470,570.9 470.3,547.6 470.6,571.9 470.9,560.3 471.2,567.5 471.5,563.7 471.8,561.3 472.1,563.4 472.4,564.8 472.7,562.7 473,562.4 473.3,561.3 473.6,567 473.9,566.8 474.2,562.5 474.5,561.4 474.8,560.5 475.1,554 475.4,557.6 475.7,560.6 476,560 476.3,558 476.6,553.3 476.9,564.6 477.2,565.5 477.5,564.8 477.8,560.6 478.1,570 478.4,570.5 478.7,561.4 479,566.1 479.3,563.5 479.6,564.5 479.9,563.4 480.2,561.9 480.5,562.2 480.8,560.2 481.1,561.6 481.4,561.4 481.7,565.2 482,563.2 482.3,563.8 482.6,561.8 482.9,567.6 483.2,568.5 483.5,563.7 483.8,564.1 484.1,562.6 484.4,560.8 484.7,561.6 485,562.4 485.3,568.6 485.6,560.3 485.9,561.8 486.2,570.3 486.5,565.7 486.8,570.1 487.1,571.2 487.4,570.1 487.7,567.7 488,567.1 488.3,575.8 488.6,578.4 488.9,571.4 489.2,574.4 489.5,572.7 489.8,573.8 490.1,571.6 490.4,573.9 490.7,584 491,571.8 491.3,575.2 491.6,571.8 491.9,575.8 492.2,582.8 492.5,577 492.8,574.9 493.1,577.6 493.4,576.8 493.7,579 494,573 494.3,573.5 494.6,577.7 494.9,575.2 495.2,591 495.5,569.5 495.8,574.3 496.1,576.3 496.4,582.3 496.7,580.9 497,585.9 497.3,582.7 497.6,588 497.9,578.5 498.2,585.6 498.5,590.2 498.8,583 499.1,581 499.4,583.3 499.7,593.4 500,593.3 500.3,587.8 500.6,596.4 500.9,587.5 501.2,592.1 501.5,592.5 501.8,591 502.1,590.1 502.4,593.8 502.7,591 503,589 503.3,587.1 503.6,585.2 503.9,594.4 504.2,590.4 504.5,587.8 504.8,593.4 505.1,593.4 505.4,594.5 505.7,597.4 506,601.9 506.3,592.5 506.6,588.4 506.9,592.7 507.2,581 507.5,589.9 507.8,587.5 508.1,585.7 508.4,579.5 508.7,584.1 509,580.2 509.3,587.6 509.6,584 509.9,589.9 510.2,587.8 510.5,588.7 510.8,599.7 511.1,598.5 511.4,590 511.7,589.9 512,590.3 512.3,591 512.6,589.2 512.9,586.4 513.2,586.9 513.5,590.2 513.8,583.1 514.1,579.6 514.4,596.5 514.7,589.4 515,589.9 515.3,589.6 515.6,591.1 515.9,592.1 516.2,583.8 516.5,594.5 516.8,590.6 517.1,595.3 517.4,598.2 517.7,589.8 518,586.8 518.3,588.3 518.6,582 518.9,585.5 519.2,583.6 519.5,584.3 519.8,574.3 520.1,580.9 520.4,586.6 520.7,584.4 521,586.8 521.3,587.8 521.6,593.6 521.9,591.6 522.2,589.4 522.5,586.7 522.8,589.7 523.1,588.2 523.4,587.3 523.7,587.8 524,598.2 524.3,595.5 524.6,596.1 524.9,600.8 525.2,601.4 525.5,599.2 525.8,590.8 526.1,599.7 526.4,607 526.7,595.4 527,591.2 527.3,598.6 527.6,591.8 527.9,592.6 528.2,587.8 528.5,596.1 528.8,594.6 529.1,596.4 529.4,597.1 529.7,604.5 530,603.1 530.3,599.3 530.6,599.8 530.9,602.8 531.2,604.4 531.5,597.3 531.8,580.9 532.1,601 532.4,603.8 532.7,612.4 533,598.5 533.3,598.5 533.6,598.3 533.9,602.3 534.2,597.1 534.5,593.7 534.8,592.8 535.1,592.7 535.4,596 535.7,597.4 536,599 536.3,599.3 536.6,598.2 536.9,608.4 537.2,599.1 537.5,598.3 537.8,599.8 538.1,590 538.4,593.1 538.7,591.8 539,598.6 539.3,587.2 539.6,593.4 539.9,602.3 540.2,592.4 540.5,594.5 540.8,601.6 541.1,593.9 541.4,589.3 541.7,590.9 542,594.6 542.3,585.9 542.6,601.7 542.9,597.2 543.2,600.2 543.5,590 543.8,595.3 544.1,590.6 544.4,586.5 544.7,590.2 545,589.2 545.3,591.3 545.6,590.5 545.9,592.1 546.2,594.7 546.5,593.1 546.8,590.5 547.1,592.9 547.4,592.7 547.7,588.3 548,591.7 548.3,574.9 548.6,595.4 548.9,591.3 549.2,589.1 549.5,594.2 549.8,586.3 550.1,592.9 550.4,591.2 550.7,593.4 551,597.9 551.3,590.3 551.6,590.4 551.9,590.1 552.2,591.5 552.5,590 552.8,591.4 553.1,589.7 553.4,601.9 553.7,586.2 554,590.6 554.3,584.7 554.6,590.6 554.9,591.8 555.2,589.7 555.5,589.8 555.8,586.2 556.1,593.7 556.4,592.6 556.7,590.9 557,587 557.3,597.8 557.6,593.4 557.9,597.4 558.2,596.7 558.5,597.6 558.8,592.8 559.1,594.9 559.4,594.7 559.7,590.9 560,590.8 560.3,589.5 560.6,587.3 560.9,589.9 561.2,583.7 561.5,590.2 561.8,588.8 562.1,589.4 562.4,590.6 562.7,588 563,586.8 563.3,593.7 563.6,596 563.9,597.4 564.2,601 564.5,593.1 564.8,596.4 565.1,597.7 565.4,606 565.7,600.9 566,604.9 566.3,606.1 566.6,606.2 566.9,607.2 567.2,609.3 567.5,603.3 567.8,601.2 568.1,603.6 568.4,597.6 568.7,597.3 569,595.6 569.3,596.6 569.6,601.8 569.9,601.6 570.2,600.6 570.5,599.6 570.8,609.5 571.1,598.7 571.4,602.4 571.7,603.3 572,599 572.3,601.6 572.6,609.6 572.9,608.2 573.2,607.8 573.5,619.2 573.8,612 574.1,608.6 574.4,614.5 574.7,616.3 575,611.9 575.3,604.2 575.6,620.6 575.9,620 576.2,620.5 576.5,621.7 576.8,617.3 577.1,621 577.4,616.1 577.7,613.6 578,614.1 578.3,617.9 578.6,620.8 578.9,620 579.2,614 579.5,608.6 579.8,610.8 580.1,608.1 580.4,605.8 580.7,612.6 581,603 581.3,607.9 581.6,606 581.9,604 582.2,605.5 582.5,620.3 582.8,615.6 583.1,615.6 583.4,621.6 583.7,623.2 584,615 584.3,617 584.6,623.6 584.9,622.7 585.2,625.2 585.5,621.8 585.8,619.1 586.1,613.6 586.4,610.7 586.7,611.5 587,606.4 587.3,610.8 587.6,610.3 587.9,619.5 588.2,612 588.5,619.3 588.8,619.4 589.1,617.5 589.4,617.2 589.7,614.4 590,615.7 590.3,610.9 590.6,608.7 590.9,614.8 591.2,621 591.5,616.6 591.8,616.4 592.1,617.8 592.4,618.2 592.7,614 593,613.9 593.3,612.8 593.6,617.7 593.9,613.8 594.2,604.4 594.5,614.2 594.8,611.6 595.1,609.2 595.4,614.7 595.7,607.4 596,618.2 596.3,608.8 596.6,610.7 596.9,608.2 597.2,597.6 597.5,613.1 597.8,604 598.1,599 598.4,601.4 598.7,600.7 599,601.3 599.3,604.2 599.6,607.4 599.9,601.8 600.2,601.4 600.5,600.5 600.8,603.9 601.1,599.3 601.4,600.7 601.7,597.8 602,594.2 602.3,590.6 602.6,588.1 602.9,588.9 603.2,588.2 603.5,589.4 603.8,593.7 604.1,590.1 604.4,583.4 604.7,588.4 605,587.6 605.3,591.1 605.6,586.2 605.9,584.9 606.2,585.5 606.5,582.6 606.8,584.5 607.1,594.6 607.4,591.9 607.7,590.4 608,593.4 608.3,589.3 608.6,586.2 608.9,587.6 609.2,582.8 609.5,585.8 609.8,581.4 610.1,584.3 610.4,585.3 610.7,583.4 611,584.1 611.3,590.6 611.6,584.2 611.9,585.7 612.2,591.8 612.5,582.5 612.8,587.8 613.1,587.6 613.4,594.5 613.7,593.3 614,598.5 614.3,601.2 614.6,603.5 614.9,600.6 615.2,600.7 615.5,598.1 615.8,598.8 616.1,597.6 616.4,599.5 616.7,600.1 617,598.6 617.3,599.5 617.6,590.2 617.9,594.8 618.2,598.8 618.5,597.7 618.8,598.8 619.1,600.6 619.4,601.1 619.7,602.5 620,595.8 620.3,610 620.6,609.3 620.9,606.7 621.2,608.3 621.5,616 621.8,610.6 622.1,610.1 622.4,607.2 622.7,605.9 623,608.1 623.3,603.9 623.6,613 623.9,610.2 624.2,606.9 624.5,607.2 624.8,604.9 625.1,619.8 625.4,604.4 625.7,604.7 626,603.4 626.3,601.3 626.6,601.9 626.9,594.7 627.2,601.7 627.5,594.5 627.8,599.3 628.1,608.5 628.4,600.2 628.7,602.7 629,593.8 629.3,588.2 629.6,596.1 629.9,598.2 630.2,591.5 630.5,592.4 630.8,593.5 631.1,595.2 631.4,595.7 631.7,596.5 632,598.9 632.3,603.7 632.6,604.3 632.9,588.2 633.2,604.6 633.5,607.2 633.8,610 634.1,610.6 634.4,615.9 634.7,620.7 635,618.9 635.3,617.5 635.6,615.2 635.9,620.9 636.2,615.6 636.5,612.7 636.8,611.8 637.1,614.9 637.4,612.4 637.7,616.8 638,618.8 638.3,618.8 638.6,619.3 638.9,623.4 639.2,623.6 639.5,622.7 639.8,614.5 640.1,616.5 640.4,610.3 640.7,611.2 641,613.7 641.3,616.9 641.6,607.1 641.9,622.3 642.2,611.5 642.5,623.1 642.8,617.8 643.1,612 643.4,619.6 643.7,617.1 644,620.9 644.3,619.7 644.6,619.5 644.9,620.1 645.2,625.7 645.5,621.2 645.8,621.2 646.1,630.6 646.4,633.9 646.7,620.6 647,624.1 647.3,637.9 647.6,625.1 647.9,619.3 648.2,622.4 648.5,622.5 648.8,621.9 649.1,610.3 649.4,608.3 649.7,613.2 650,614 650.3,613.3 650.6,616.1 650.9,613.7 651.2,615.2 651.5,617 651.8,614.8 652.1,616.7 652.4,611.2 652.7,610 653,614.3 653.3,606.8 653.6,607.5 653.9,608.6 654.2,611.2 654.5,612.7 654.8,624.1 655.1,606.6 655.4,613.9 655.7,612.1 656,614 656.3,612.9 656.6,604.6 656.9,620.6 657.2,611.2 657.5,614.1 657.8,616.7 658.1,615.9 658.4,616.3 658.7,622.2 659,616.5 659.3,617.9 659.6,614.3 659.9,616.5 660.2,614.1 660.5,616 660.8,616.2 661.1,615.4 661.4,611.4 661.7,611.1 662,607.9 662.3,611.8 662.6,619.2 662.9,604.4 663.2,603.1 663.5,604.7 663.8,608.6 664.1,608.6 664.4,606.5 664.7,609.7 665,602.2 665.3,609.6 665.6,612.5 665.9,614.8 666.2,609.9 666.5,612.8 666.8,602.6 667.1,600.3 667.4,608.1 667.7,610.9 668,610 668.3,615 668.6,609.1 668.9,609.3 669.2,609.1 669.5,601.5 669.8,603 670.1,605.1 670.4,611.4 670.7,607 671,608.6 671.3,606.3 671.6,612.8 671.9,608 672.2,599.6 672.5,605.9 672.8,605 673.1,604.1 673.4,604.8 673.7,606.3 674,607 674.3,595.2 674.6,600.8 674.9,599.8 675.2,600.1 675.5,603.4 675.8,591 676.1,597.6 676.4,601.9 676.7,598.2 677,608.5 677.3,596 677.6,601 677.9,591.5 678.2,589.1 678.5,589.5 678.8,586.8 679.1,591 679.4,587.9 679.7,583.4 680,587.3 680.3,588.1 680.6,589.3 680.9,586.9 681.2,591.3 681.5,589.6 681.8,596 682.1,594.6 682.4,591.4 682.7,588.7 683,594.4 683.3,597.5 683.6,586.7 683.9,590.6 684.2,595 684.5,590.5 684.8,585.5 685.1,591.3 685.4,587.6 685.7,585.2 686,589 686.3,581.2 686.6,587.9 686.9,581.5 687.2,587.7 687.5,582.2 687.8,584.3 688.1,580.1 688.4,586.1 688.7,586.5 689,588.1 689.3,584.4 689.6,590.9 689.9,585.6 690.2,582.5 690.5,580 690.8,578.1 691.1,590.7 691.4,584.8 691.7,584.4 692,580.9 692.3,585.7 692.6,581.9 692.9,584.8 693.2,584.7 693.5,586.5 693.8,579.2 694.1,577 694.4,585.4 694.7,583.4 695,592.5 695.3,590.2 695.6,586.7 695.9,590.9 696.2,587.2 696.5,585.9 696.8,584.3 697.1,590.1 697.4,581.9 697.7,583.5 698,581.7 698.3,582.2 698.6,579.9 698.9,585.1 699.2,584.8 699.5,588.4 699.8,587.5 700.1,587.4 700.4,594.1 700.7,590.7 701,594.7 701.3,591.2 701.6,587.7 701.9,588.3 702.2,590.2 702.5,593.8 702.8,589.3 703.1,588.1 703.4,589 703.7,588.2 704,587.6 704.3,587.2 704.6,596.1 704.9,594.8 705.2,595.9 705.5,597.3 705.8,588.5 706.1,590.1 706.4,587.6 706.7,593.6 707,590.6 707.3,587.8 707.6,588.8 707.9,590.2 708.2,582.7 708.5,589.5 708.8,593.1 709.1,595.8 709.4,593.2 709.7,593.7 710,591.8 710.3,584.6 710.6,592.1 710.9,588.5 711.2,596.3 711.5,583.9 711.8,595.7 712.1,592.4 712.4,593.7 712.7,592.1 713,596.8 713.3,593.4 713.6,597.5 713.9,600 714.2,590.7 714.5,597.1 714.8,582.6 715.1,592.3 715.4,592.6 715.7,586.9 716,594.6 716.3,593.1 716.6,596.6 716.9,595.6 717.2,593.3 717.5,606 717.8,594.3 718.1,593.3 718.4,594.4 718.7,594.9 719,599.7 719.3,598.2 719.6,595.4 719.9,596.7 720.2,596.1 720.5,597.2 720.8,597.1 721.1,597.9 721.4,597.8 721.7,595 722,595 722.3,593.2 722.6,594.5 722.9,597 723.2,599 723.5,598.2 723.8,596.2 724.1,594.7 724.4,602.9 724.7,600.1 725,602 725.3,600.6 725.6,596.6 725.9,597.6 726.2,589.3 726.5,592.1 726.8,589.2 727.1,596.4 727.4,595.9 727.7,604 728,597.6 728.3,598.9 728.6,597.8 728.9,600.3 729.2,601.2 729.5,600.5 729.8,599.8 730.1,603.8 730.4,597.9 730.7,603.9 731,603.8 731.3,598 731.6,597.5 731.9,593.3 732.2,594.6 732.5,607.1 732.8,600.3 733.1,598.7 733.4,596.6 733.7,599.7 734,598.2 734.3,599 734.6,596.3 734.9,597 735.2,593.1 735.5,600.7 735.8,600.6 736.1,600.4 736.4,602.6 736.7,598 737,589.1 737.3,585.9 737.6,593.4 737.9,594.7 738.2,603.5 738.5,598.6 738.8,604.5 739.1,606.1 739.4,605.3 739.7,602 740,601.3 740.3,603.2 740.6,608 740.9,598.8 741.2,600.5 741.5,602.3 741.8,601.7 742.1,599.7 742.4,598.3 742.7,600.4 743,599 743.3,600.8 743.6,592.2 743.9,594 744.2,589.6 744.5,594.4 744.8,597.6 745.1,597.3 745.4,595.9 745.7,598.3 746,597.2 746.3,593.6 746.6,593.5 746.9,589.3 747.2,592.2 747.5,586.8 747.8,584.5 748.1,583.5 748.4,579.1 748.7,580.1 749,577.1 749.3,582.4 749.6,574.9 749.9,579.6 750.2,581.3 750.5,583.2 750.8,580.7 751.1,570.7 751.4,587.4 751.7,566.8 752,582.2 752.3,585 752.6,577.8 752.9,577.7 753.2,583.7 753.5,583.1 753.8,577.9 754.1,579.1 754.4,582.4 754.7,578.2 755,585.5 755.3,588.5 755.6,593.7 755.9,589.4 756.2,594.8 756.5,586 756.8,595.4 757.1,583.6 757.4,592.7 757.7,590.2 758,585.2 758.3,584.3 758.6,595.6 758.9,587 759.2,590.1 759.5,585.8 759.8,590.8 760.1,591.3 760.4,587.1 760.7,590.1 761,590.5 761.3,586.8 761.6,593 761.9,590.2 762.2,591.1 762.5,585.8 762.8,590.7 763.1,590.9 763.4,592.2 763.7,603 764,591.4 764.3,591.7 764.6,593.6 764.9,583.3 765.2,600 765.5,591 765.8,604.7 766.1,604 766.4,614.1 766.7,612.4 767,613.4 767.3,602.1 767.6,610.5 767.9,610.3 768.2,610.3 768.5,613 768.8,611.8 769.1,617.9 769.4,612.8 769.7,611.5 770,608.7 770.3,611.3 770.6,606.5 770.9,614.5 771.2,608.7 771.5,609 771.8,612 772.1,611.9 772.4,606.5 772.7,613.4 773,615.7 773.3,610.2 773.6,617.7 773.9,614.5 774.2,624.3 774.5,614.4 774.8,611.6 775.1,617.9 775.4,621.1 775.7,617.2 776,619.6 776.3,620.6 776.6,622.6 776.9,621.2 777.2,624 777.5,616.2 777.8,614.3 778.1,614.2 778.4,616.1 778.7,615.7 779,627.6 779.3,626.2 779.6,633.4 779.9,635.1 780.2,640.5 780.5,639.3 780.8,643 781.1,641 781.4,638.3 781.7,639.1 782,635.6 782.3,635 782.6,633.9 782.9,634.9 783.2,642.1 783.5,635 783.8,628.8 784.1,634.1 784.4,646.3 784.7,637 785,639.7 785.3,639.1 785.6,641.8 785.9,648.9 786.2,639.2 786.5,650.1 786.8,657.6 787.1,649.6 787.4,646.6 787.7,648.4 788,639.7 788.3,638.7 788.6,643.5 788.9,640.3 789.2,642.2 789.5,631.1 789.8,635.5 790.1,630.6 790.4,636.9 790.7,636.4 791,634.6 791.3,635.2 791.6,637.1 791.9,628.9 792.2,641.1 792.5,629.3 792.8,635.5 793.1,636.7 793.4,635.3 793.7,634.7 794,627.9 794.3,628.6 794.6,632.1 794.9,633 795.2,633.9 795.5,631.9 795.8,631.9 796.1,626.4 796.4,623.6 796.7,628.6 797,629.8 797.3,627 797.6,626.3 797.9,626.2 798.2,630.4 798.5,624.5 798.8,620.5 799.1,626.1 799.4,620.1 799.7,620.8 800,623.5 800.3,625.9 800.6,620.1 800.9,619.4 801.2,626 801.5,619.7 801.8,625 802.1,625.4 802.4,625.7 802.7,628.6 803,625.8 803.3,620 803.6,626.1 803.9,620.5 804.2,618 804.5,621.7 804.8,613.9 805.1,611.7 805.4,615 805.7,612.1 806,612.9 806.3,619.3 806.6,606.1 806.9,613 807.2,601.1 807.5,599.7 807.8,592.2 808.1,596.9 808.4,595 808.7,596.8 809,597.4 809.3,597.7 809.6,602.1 809.9,606.4 810.2,605.4 810.5,604.7 810.8,602.1 811.1,593.9 811.4,595.9 811.7,584.5 812,594.9 812.3,589.2 812.6,595.9 812.9,592.9 813.2,587.1 813.5,593.6 813.8,590.7 814.1,600.2 814.4,599.2 814.7,592.4 815,591.3 815.3,590.9 815.6,588.3 815.9,586 816.2,584.9 816.5,581.4 816.8,585.4 817.1,577.9 817.4,568.9 817.7,579.3 818,576.7 818.3,581.1 818.6,577.2 818.9,575.6 819.2,577.8 819.5,572.4 819.8,567.6 820.1,573.1 820.4,565.2 820.7,583.4 821,562.2 821.3,557.6 821.6,568.4 821.9,567.8 822.2,561.8 822.5,565.2 822.8,557.1 823.1,560.4 823.4,562.8 823.7,556 824,554 824.3,561.6 824.6,560.3 824.9,555 825.2,551.5 825.5,554.5 825.8,557.4 826.1,556.3 826.4,559.5 826.7,565.1 827,560.6 827.3,568.2 827.6,567.2 827.9,567.5 828.2,566.9 828.5,571.8 828.8,574.9 829.1,569.1 829.4,574.7 829.7,573.9 830,577.2 830.3,570.1 830.6,577.8 830.9,579.2 831.2,574.5 831.5,571.3 831.8,574.6 832.1,580.1 832.4,578 832.7,582 833,574.5 833.3,577.2 833.6,584.2 833.9,573.1 834.2,575.1 834.5,577.1 834.8,572.7 835.1,576.6 835.4,578.2 835.7,565.8 836,568.5 836.3,571.2 836.6,573.8 836.9,572.1 837.2,574 837.5,574.2 837.8,582.1 838.1,584.2 838.4,576.1 838.7,578.6 839,574.8 839.3,574.2 839.6,573.3 839.9,574 840.2,568.2 840.5,579 840.8,576.8 841.1,569 841.4,567.4 841.7,579.7 842,580.1 842.3,580.2 842.6,581.3 842.9,581.6 843.2,580.6 843.5,584.1 843.8,577.3 844.1,577.7 844.4,576.8 844.7,571.6 845,588.1 845.3,585.5 845.6,588.9 845.9,592.9 846.2,590.5 846.5,591.1 846.8,592.7 847.1,593.1 847.4,592.4 847.7,589.5 848,590.1 848.3,582.1 848.6,593.7 848.9,590.3 849.2,585.5 849.5,592.4 849.8,590.6 850.1,591.7 850.4,599.2"/>
<polyline clip-path="url(#c3)" fill="none" stroke="#d95319" stroke-width="2.4" stroke-linejoin="round" points="165.8,635.2 166.1,644.1 166.4,627.3 166.7,629.3 167,630.2 167.3,630.6 167.6,637.4 167.9,621.4 168.2,632.9 168.5,618.7 168.8,625.6 169.1,639.8 169.4,622.3 169.7,622.4 170,620.3 170.3,617 170.6,621.8 170.9,630 171.2,623.6 171.5,630.6 171.8,636.4 172.1,631.1 172.4,629.3 172.7,628 173,628.3 173.3,621.8 173.6,620.8 173.9,611.4 174.2,624.6 174.5,619 174.8,617.5 175.1,632.4 175.4,625.8 175.7,627 176,629.5 176.3,625.9 176.6,629.4 176.9,630.1 177.2,632 177.5,622.9 177.8,621.9 178.1,626.4 178.4,625.1 178.7,625.4 179,629.9 179.3,635.4 179.6,624 179.9,633.5 180.2,637 180.5,634.5 180.8,638.5 181.1,638.8 181.4,633.4 181.7,638.9 182,627.4 182.3,636.2 182.6,630.2 182.9,634.6 183.2,631.9 183.5,635.7 183.8,638.7 184.1,640 184.4,635.7 184.7,641.1 185,641.3 185.3,642.5 185.6,642.8 185.9,636.2 186.2,639.7 186.5,634.3 186.8,635.1 187.1,637.8 187.4,613.9 187.7,620.3 188,636.2 188.3,635.7 188.6,635.9 188.9,639.1 189.2,635.6 189.5,645.8 189.8,642.9 190.1,624.4 190.4,625.6 190.7,625.2 191,627 191.3,631.8 191.6,632.3 191.9,632.2 192.2,629.6 192.5,634.7 192.8,628.7 193.1,634.6 193.4,628.8 193.7,628.5 194,621.6 194.3,622.5 194.6,620.2 194.9,623.4 195.2,617 195.5,611.6 195.8,616.9 196.1,622.4 196.4,615.9 196.7,613.6 197,612.5 197.3,615.6 197.6,612.6 197.9,612.5 198.2,607.3 198.5,620.3 198.8,613.9 199.1,629.8 199.4,622.3 199.7,627.5 200,627.2 200.3,631.1 200.6,629.4 200.9,633.3 201.2,623.9 201.5,622.7 201.8,623.3 202.1,623 202.4,623 202.7,622 203,631.1 203.3,617.9 203.6,620.1 203.9,621 204.2,618.8 204.5,618.5 204.8,619.7 205.1,616.3 205.4,613.9 205.7,616.9 206,608.5 206.3,612.1 206.6,608.3 206.9,613 207.2,616.2 207.5,615.2 207.8,615.3 208.1,619.5 208.4,623.4 208.7,625.1 209,638 209.3,633.4 209.6,629.5 209.9,622.9 210.2,632.2 210.5,621.2 210.8,627.7 211.1,625.5 211.4,632.1 211.7,625.3 212,627.4 212.3,621.9 212.6,629.8 212.9,634.3 213.2,629.6 213.5,634.3 213.8,629.6 214.1,640.9 214.4,639.1 214.7,618.1 215,625.2 215.3,622.8 215.6,629.8 215.9,633.9 216.2,635.8 216.5,634.1 216.8,633.7 217.1,636.9 217.4,630.2 217.7,638.4 218,625.8 218.3,636.6 218.6,636.8 218.9,635.4 219.2,653.4 219.5,637.7 219.8,637.6 220.1,639.5 220.4,641.7 220.7,647.2 221,639.4 221.3,645.5 221.6,641.3 221.9,640.4 222.2,638.7 222.5,643.2 222.8,633.9 223.1,643.6 223.4,642.7 223.7,641.6 224,643.3 224.3,629.5 224.6,641.3 224.9,632.1 225.2,643.4 225.5,644.9 225.8,646.2 226.1,649.7 226.4,647.6 226.7,646 227,646 227.3,653.3 227.6,645.1 227.9,647.1 228.2,640.7 228.5,642.2 228.8,642 229.1,642 229.4,641.9 229.7,641.5 230,626.2 230.3,637.6 230.6,642.1 230.9,641.9 231.2,641 231.5,638.6 231.8,641.4 232.1,638 232.4,640.5 232.7,647.8 233,640.5 233.3,636.3 233.6,644.3 233.9,647.7 234.2,646.8 234.5,642.9 234.8,647.4 235.1,635.5 235.4,636.4 235.7,641 236,655.5 236.3,648.7 236.6,637.1 236.9,644.9 237.2,644.3 237.5,644.9 237.8,639.6 238.1,638.6 238.4,622.2 238.7,629.4 239,639.7 239.3,637.4 239.6,629.5 239.9,640.1 240.2,638.8 240.5,640 240.8,638.7 241.1,638.8 241.4,641.9 241.7,644.3 242,654.4 242.3,639.3 242.6,648 242.9,649.6 243.2,642.4 243.5,652.4 243.8,640.3 244.1,646.4 244.4,631.6 244.7,637.7 245,644.2 245.3,648.8 245.6,645.3 245.9,648.8 246.2,649.9 246.5,652.5 246.8,644.5 247.1,656.2 247.4,654.2 247.7,651.5 248,658.3 248.3,644.2 248.6,651.7 248.9,650.8 249.2,646.9 249.5,645.4 249.8,649.5 250.1,647 250.4,645.3 250.7,649.3 251,649.6 251.3,658.1 251.6,655.1 251.9,651.4 252.2,654.3 252.5,671 252.8,656.4 253.1,662.8 253.4,653 253.7,664.7 254,653.2 254.3,650.8 254.6,658.6 254.9,648.7 255.2,653 255.5,656.4 255.8,654.4 256.1,652.1 256.4,650.9 256.7,634 257,652.3 257.3,651.9 257.6,650.2 257.9,655.4 258.2,653.1 258.5,651 258.8,650.5 259.1,647.5 259.4,655.7 259.7,652.6 260,650.9 260.3,649.8 260.6,658.5 260.9,662 261.2,667.6 261.5,658.6 261.8,660.6 262.1,657.6 262.4,660.2 262.7,664.9 263,662.6 263.3,664 263.6,667.1 263.9,665.5 264.2,667.2 264.5,660.4 264.8,666.1 265.1,679.1 265.4,665.8 265.7,661.7 266,662.6 266.3,656 266.6,660.2 266.9,671.3 267.2,661.5 267.5,661.7 267.8,659.8 268.1,669.4 268.4,648.4 268.7,663.5 269,669 269.3,648.9 269.6,645.7 269.9,642.5 270.2,647.9 270.5,650 270.8,648.8 271.1,649.7 271.4,637.7 271.7,644 272,643.8 272.3,647.3 272.6,645.3 272.9,644.6 273.2,637.7 273.5,646.7 273.8,651.9 274.1,646.6 274.4,654.8 274.7,648.7 275,644.6 275.3,650 275.6,649.5 275.9,622.9 276.2,646.3 276.5,636.6 276.8,646.4 277.1,648.4 277.4,645.9 277.7,640.7 278,647.6 278.3,649.9 278.6,650.9 278.9,645.9 279.2,650.1 279.5,652.9 279.8,648.5 280.1,651.5 280.4,652.6 280.7,646.8 281,650.1 281.3,647.7 281.6,646.7 281.9,648.3 282.2,647.9 282.5,651.3 282.8,647.5 283.1,654.1 283.4,658.3 283.7,636.3 284,641.9 284.3,641.2 284.6,639.3 284.9,638.4 285.2,646.4 285.5,636.3 285.8,644.9 286.1,655.3 286.4,645.5 286.7,645.3 287,648.6 287.3,643.2 287.6,646.9 287.9,639.7 288.2,636.6 288.5,638.2 288.8,630.7 289.1,633.9 289.4,636.6 289.7,634.3 290,631.9 290.3,639.5 290.6,638.5 290.9,638.8 291.2,638.7 291.5,639.1 291.8,642.3 292.1,646.1 292.4,651.1 292.7,654.8 293,645.9 293.3,655.5 293.6,651 293.9,645 294.2,645.3 294.5,641.8 294.8,638.1 295.1,644.4 295.4,637.7 295.7,634.8 296,639 296.3,638.1 296.6,643 296.9,652.7 297.2,648.2 297.5,651.4 297.8,648.1 298.1,652.4 298.4,643.9 298.7,642.6 299,637.4 299.3,634 299.6,639 299.9,638.1 300.2,640.8 300.5,636.2 300.8,636.8 301.1,635 301.4,639.8 301.7,641.3 302,636.3 302.3,642.4 302.6,641.1 302.9,653.6 303.2,639.8 303.5,638.8 303.8,641.8 304.1,642.4 304.4,644 304.7,636.6 305,648.6 305.3,641 305.6,640.1 305.9,651 306.2,644.8 306.5,645.6 306.8,640.4 307.1,640.2 307.4,639.6 307.7,639.5 308,644.6 308.3,645.2 308.6,643.5 308.9,641.8 309.2,640.4 309.5,636.5 309.8,646.2 310.1,643.2 310.4,643.8 310.7,641.3 311,643.9 311.3,642.6 311.6,644.1 311.9,644.5 312.2,641.6 312.5,641.4 312.8,643.1 313.1,648.8 313.4,654.4 313.7,649.3 314,656.3 314.3,649.4 314.6,651.3 314.9,652.3 315.2,656.2 315.5,650.1 315.8,646.4 316.1,648.6 316.4,642.8 316.7,662.3 317,648.5 317.3,647.2 317.6,645.6 317.9,644.9 318.2,641.7 318.5,646 318.8,641 319.1,647.1 319.4,638.3 319.7,646.7 320,648.5 320.3,648.5 320.6,648 320.9,649.2 321.2,649.6 321.5,647.3 321.8,651.3 322.1,650.2 322.4,652.2 322.7,642.8 323,650.7 323.3,647 323.6,645.4 323.9,641.8 324.2,636.3 324.5,649.2 324.8,642.2 325.1,639.7 325.4,647.2 325.7,638.8 326,657.7 326.3,644.2 326.6,652.9 326.9,654.4 327.2,653.3 327.5,643 327.8,643.2 328.1,607.6 328.4,636.7 328.7,644.7 329,640.1 329.3,641.3 329.6,647.8 329.9,654 330.2,648.1 330.5,637.9 330.8,647.1 331.1,644.3 331.4,641.2 331.7,644.1 332,656.2 332.3,644.2 332.6,636.4 332.9,640.4 333.2,644.5 333.5,637.5 333.8,641.4 334.1,642.8 334.4,645.3 334.7,641.1 335,642.8 335.3,620.9 335.6,638.8 335.9,638.3 336.2,634.4 336.5,636.8 336.8,632.5 337.1,635.2 337.4,630.4 337.7,636.7 338,632 338.3,633.8 338.6,649.9 338.9,626.5 339.2,629.3 339.5,640.3 339.8,635.2 340.1,630.9 340.4,632.9 340.7,621.1 341,629.3 341.3,634.2 341.6,637.9 341.9,641.3 342.2,643.1 342.5,644.4 342.8,645.6 343.1,639 343.4,641.7 343.7,638.7 344,645.4 344.3,644.2 344.6,645.7 344.9,640.7 345.2,633.5 345.5,647.1 345.8,640.6 346.1,643.3 346.4,645.4 346.7,646.5 347,647.3 347.3,649 347.6,645.2 347.9,654.6 348.2,644.3 348.5,639.9 348.8,638.4 349.1,640.5 349.4,643.6 349.7,640.3 350,641.1 350.3,646.5 350.6,638.4 350.9,645.9 351.2,648 351.5,637.4 351.8,648.5 352.1,647.6 352.4,647.4 352.7,654.9 353,631.9 353.3,658.9 353.6,658.5 353.9,648.2 354.2,651.3 354.5,638.9 354.8,644.7 355.1,651.4 355.4,641.2 355.7,642.2 356,649.5 356.3,648.4 356.6,645.1 356.9,644.4 357.2,640.3 357.5,646.7 357.8,651.4 358.1,653.9 358.4,644.2 358.7,635.8 359,648.4 359.3,643.1 359.6,644.3 359.9,648.2 360.2,652.5 360.5,652.4 360.8,659 361.1,650.5 361.4,657.5 361.7,654.6 362,652.7 362.3,659.6 362.6,655.6 362.9,654 363.2,657.3 363.5,645.2 363.8,650.4 364.1,652 364.4,650.9 364.7,648.9 365,642.5 365.3,653.5 365.6,638.8 365.9,646.2 366.2,651.6 366.5,644.8 366.8,644.1 367.1,648.7 367.4,650.4 367.7,650 368,649.7 368.3,642.2 368.6,646.8 368.9,651.8 369.2,655.6 369.5,650.7 369.8,662 370.1,653.9 370.4,654.9 370.7,647.5 371,657.2 371.3,654.5 371.6,650.6 371.9,656 372.2,657.7 372.5,650.3 372.8,644.4 373.1,642.4 373.4,648.3 373.7,654.8 374,646.7 374.3,667.7 374.6,650.4 374.9,649.6 375.2,646.7 375.5,653.5 375.8,654.1 376.1,656 376.4,655.4 376.7,650 377,652.3 377.3,654.5 377.6,655.8 377.9,646.6 378.2,651.2 378.5,651.7 378.8,651.2 379.1,661.3 379.4,653.5 379.7,654.2 380,656 380.3,655.1 380.6,654.2 380.9,654.3 381.2,656.1 381.5,653 381.8,652.2 382.1,657.8 382.4,646.2 382.7,657.5 383,641.5 383.3,655.6 383.6,656.3 383.9,655 384.2,661.1 384.5,653.5 384.8,669.3 385.1,637.7 385.4,659.9 385.7,656.4 386,655.4 386.3,656 386.6,655.1 386.9,655.1 387.2,664.1 387.5,655.4 387.8,647.2 388.1,645.7 388.4,646.6 388.7,642.1 389,654.1 389.3,656.9 389.6,653.2 389.9,660.1 390.2,672.9 390.5,670.1 390.8,669.4 391.1,663.3 391.4,661.8 391.7,668.4 392,660 392.3,667.5 392.6,658.5 392.9,659.2 393.2,661.4 393.5,655 393.8,656.5 394.1,655.6 394.4,672 394.7,656.6 395,659.8 395.3,652.2 395.6,652.2 395.9,654 396.2,642.9 396.5,645.1 396.8,646.5 397.1,641.2 397.4,645.7 397.7,637.5 398,652.3 398.3,648.1 398.6,658.4 398.9,656.2 399.2,659.5 399.5,650.5 399.8,641.8 400.1,653.1 400.4,652.1 400.7,653 401,637.1 401.3,641.6 401.6,651.9 401.9,659 402.2,651.6 402.5,643.6 402.8,655.8 403.1,651.9 403.4,661.2 403.7,660.6 404,657.9 404.3,660.7 404.6,640.3 404.9,658.6 405.2,659.2 405.5,661.2 405.8,658.9 406.1,667.2 406.4,661.6 406.7,660.7 407,664.2 407.3,657.8 407.6,662.1 407.9,668.2 408.2,666.1 408.5,664.1 408.8,659.5 409.1,668 409.4,667.9 409.7,673.2 410,668.9 410.3,668.4 410.6,660.8 410.9,667.7 411.2,659.9 411.5,666.8 411.8,668 412.1,662.5 412.4,657.5 412.7,662.5 413,655.1 413.3,661.8 413.6,660.7 413.9,663.9 414.2,661.8 414.5,667.2 414.8,666 415.1,665.6 415.4,656.3 415.7,660.5 416,667.1 416.3,655.7 416.6,660.1 416.9,659.2 417.2,659.6 417.5,656.2 417.8,659.2 418.1,660.1 418.4,662.7 418.7,658.7 419,649.3 419.3,659.8 419.6,658 419.9,653 420.2,666.1 420.5,661.7 420.8,660.2 421.1,669.8 421.4,674.8 421.7,669.4 422,675.6 422.3,669.3 422.6,672 422.9,669.5 423.2,663.3 423.5,657.5 423.8,657.6 424.1,651.9 424.4,654.7 424.7,651.9 425,643.7 425.3,655.4 425.6,661.4 425.9,660 426.2,660.7 426.5,662.1 426.8,660.5 427.1,665.4 427.4,661.3 427.7,657 428,657.4 428.3,652.5 428.6,652.7 428.9,652.3 429.2,629.7 429.5,662.9 429.8,655 430.1,658.9 430.4,651.9 430.7,661.2 431,648.6 431.3,645.2 431.6,659.1 431.9,657.8 432.2,660.3 432.5,652.9 432.8,645.5 433.1,660.1 433.4,658.1 433.7,652.4 434,652.7 434.3,654.9 434.6,650.9 434.9,661.3 435.2,666.3 435.5,665.2 435.8,669.3 436.1,668.5 436.4,670.5 436.7,667.9 437,672.1 437.3,669.2 437.6,667.3 437.9,678 438.2,676.6 438.5,677.2 438.8,657.7 439.1,667.7 439.4,669.9 439.7,671.5 440,667.2 440.3,675.2 440.6,667.4 440.9,667.3 441.2,665.9 441.5,670.6 441.8,675.4 442.1,666.4 442.4,666.6 442.7,667.1 443,661.5 443.3,668.1 443.6,672.3 443.9,674.9 444.2,670.4 444.5,661.9 444.8,674.1 445.1,678.2 445.4,664 445.7,674.4 446,674.7 446.3,674.7 446.6,671.6 446.9,676.6 447.2,687 447.5,676.1 447.8,677.4 448.1,681.6 448.4,687.2 448.7,664.8 449,674.7 449.3,675.2 449.6,677 449.9,679.2 450.2,676.5 450.5,664.1 450.8,664.3 451.1,668.4 451.4,664.8 451.7,665.1 452,669.3 452.3,668.7 452.6,664.2 452.9,675.2 453.2,682.6 453.5,685.4 453.8,678.8 454.1,684.1 454.4,682.3 454.7,676.2 455,679.6 455.3,678.8 455.6,673.7 455.9,686 456.2,678.1 456.5,684.6 456.8,681.7 457.1,679.8 457.4,681.3 457.7,665.4 458,680.6 458.3,669.8 458.6,675.1 458.9,667.7 459.2,677.5 459.5,674.9 459.8,678.5 460.1,677.1 460.4,674.7 460.7,684.7 461,679 461.3,665.7 461.6,665 461.9,674.4 462.2,678.8 462.5,668.9 462.8,680.8 463.1,684.3 463.4,682.6 463.7,688 464,674.2 464.3,683.6 464.6,687.7 464.9,685.5 465.2,676.9 465.5,675.9 465.8,678 466.1,669.3 466.4,673 466.7,675.9 467,678.4 467.3,679.9 467.6,684.3 467.9,686 468.2,685.4 468.5,686.9 468.8,687.8 469.1,688.5 469.4,685.7 469.7,682.9 470,684.5 470.3,679.6 470.6,677.1 470.9,678.9 471.2,679.1 471.5,681.5 471.8,674.5 472.1,681.5 472.4,689.4 472.7,687.7 473,678.7 473.3,688 473.6,666.6 473.9,690.5 474.2,686.6 474.5,685.5 474.8,693 475.1,684.7 475.4,675.9 475.7,686.8 476,689.8 476.3,695.6 476.6,684.2 476.9,687.1 477.2,685.5 477.5,693.1 477.8,687.5 478.1,690.5 478.4,685.5 478.7,696.1 479,692 479.3,694 479.6,697.2 479.9,692.7 480.2,698.7 480.5,700.9 480.8,689.2 481.1,698.3 481.4,692.5 481.7,697.5 482,697.1 482.3,686.9 482.6,685.8 482.9,682.1 483.2,683.5 483.5,683 483.8,689.3 484.1,692.6 484.4,692.2 484.7,698.4 485,704.3 485.3,700.7 485.6,702.7 485.9,703.3 486.2,702.5 486.5,683.8 486.8,712.9 487.1,696.5 487.4,687.7 487.7,689.9 488,691.5 488.3,691 488.6,693 488.9,687.5 489.2,690.3 489.5,693 489.8,695.7 490.1,707.5 490.4,688.1 490.7,690.5 491,687.7 491.3,692.4 491.6,692.5 491.9,691.7 492.2,691.5 492.5,695.8 492.8,698.8 493.1,696.5 493.4,697.8 493.7,691.1 494,695.3 494.3,691.8 494.6,685.8 494.9,690.1 495.2,692.2 495.5,688.5 495.8,698.4 496.1,700.8 496.4,699.3 496.7,704.1 497,700.8 497.3,699.1 497.6,689.4 497.9,688.5 498.2,694.3 498.5,686.9 498.8,692.7 499.1,694.7 499.4,696.3 499.7,692.4 500,692 500.3,694.3 500.6,682.5 500.9,697.6 501.2,680.3 501.5,689.9 501.8,687.6 502.1,687.4 502.4,688 502.7,684.6 503,688 503.3,688.5 503.6,689.9 503.9,695 504.2,691.3 504.5,680 504.8,696.4 505.1,691.6 505.4,703.8 505.7,692.2 506,696.3 506.3,697.7 506.6,691.5 506.9,693.3 507.2,690.7 507.5,688.8 507.8,688.9 508.1,678.4 508.4,685.9 508.7,693.2 509,699.8 509.3,686 509.6,688.8 509.9,686.4 510.2,699.9 510.5,700 510.8,677.7 511.1,689.3 511.4,689.2 511.7,690.2 512,687.6 512.3,676.6 512.6,684.3 512.9,681.2 513.2,675.2 513.5,682.1 513.8,679.3 514.1,681.3 514.4,679.6 514.7,672 515,683.9 515.3,693.8 515.6,690 515.9,682.1 516.2,681.9 516.5,689.1 516.8,690.5 517.1,668.2 517.4,690.6 517.7,690 518,695.7 518.3,693.6 518.6,687.2 518.9,696.8 519.2,689.8 519.5,696.5 519.8,689.8 520.1,692 520.4,693.8 520.7,692 521,690 521.3,687.9 521.6,684.8 521.9,684.6 522.2,687.3 522.5,680.5 522.8,691.6 523.1,704.6 523.4,694.2 523.7,690.6 524,700.2 524.3,695.2 524.6,698.4 524.9,703.5 525.2,681.1 525.5,686 525.8,698.2 526.1,693.2 526.4,699.8 526.7,701.9 527,700.9 527.3,694 527.6,702.9 527.9,694.6 528.2,705.3 528.5,702 528.8,703.1 529.1,701.9 529.4,706.2 529.7,704.9 530,701.6 530.3,697.5 530.6,699.2 530.9,696.1 531.2,699.5 531.5,713.1 531.8,702 532.1,701 532.4,706.3 532.7,701.4 533,698.8 533.3,695.7 533.6,696.6 533.9,697.2 534.2,701.6 534.5,701.6 534.8,689.1 535.1,683.8 535.4,694.4 535.7,703.3 536,704.3 536.3,706.1 536.6,697.7 536.9,702.7 537.2,693.3 537.5,700.9 537.8,690.9 538.1,697.6 538.4,706.6 538.7,697.1 539,698.7 539.3,694.7 539.6,703.9 539.9,694.7 540.2,699.2 540.5,700.2 540.8,691.3 541.1,704.1 541.4,699.9 541.7,689.9 542,702.3 542.3,705.1 542.6,703.6 542.9,695.4 543.2,699.5 543.5,705.6 543.8,710.6 544.1,718.2 544.4,704.5 544.7,723.9 545,712 545.3,718.6 545.6,705.9 545.9,698.2 546.2,716.8 546.5,696.8 546.8,700.6 547.1,698.3 547.4,702.7 547.7,709.6 548,705.3 548.3,708 548.6,704.6 548.9,697.2 549.2,697.9 549.5,694.9 549.8,710.2 550.1,699.2 550.4,696.8 550.7,685.6 551,682.4 551.3,695.7 551.6,698 551.9,700 552.2,705.8 552.5,694.5 552.8,696.8 553.1,682.8 553.4,698.7 553.7,699.5 554,704.2 554.3,702.1 554.6,704 554.9,700.6 555.2,696.7 555.5,712.7 555.8,704 556.1,698.9 556.4,689.1 556.7,701.4 557,703.7 557.3,707.1 557.6,696.3 557.9,709.7 558.2,707.5 558.5,704.7 558.8,704.6 559.1,712.2 559.4,705.2 559.7,703.6 560,706.1 560.3,712.5 560.6,705 560.9,709.3 561.2,702.8 561.5,707.3 561.8,698 562.1,704.6 562.4,706.7 562.7,710.2 563,702.3 563.3,698.3 563.6,692.9 563.9,705.2 564.2,703.1 564.5,704.1 564.8,705.6 565.1,719.3 565.4,705.5 565.7,700.4 566,708.8 566.3,699 566.6,704.7 566.9,697.8 567.2,704.9 567.5,704.1 567.8,702.4 568.1,695.2 568.4,697.1 568.7,704.6 569,706.5 569.3,706.2 569.6,705.7 569.9,704.4 570.2,708.4 570.5,698.6 570.8,697.6 571.1,696.9 571.4,690.4 571.7,685.2 572,693.4 572.3,694.4 572.6,693.3 572.9,693 573.2,697.6 573.5,698 573.8,703.6 574.1,694.1 574.4,691.2 574.7,694.9 575,693.6 575.3,693.3 575.6,671.7 575.9,700.5 576.2,691.9 576.5,694.4 576.8,691.4 577.1,689.5 577.4,688.5 577.7,695.4 578,688.6 578.3,696 578.6,691.6 578.9,696.1 579.2,701.5 579.5,685.6 579.8,697.7 580.1,695 580.4,685.9 580.7,706.1 581,690.8 581.3,698.6 581.6,697.3 581.9,691.9 582.2,695.6 582.5,690.3 582.8,693.2 583.1,697.4 583.4,697.8 583.7,700.3 584,699.6 584.3,699.9 584.6,699.3 584.9,699.2 585.2,693.2 585.5,689 585.8,698.3 586.1,704.4 586.4,699.6 586.7,697 587,690.5 587.3,693.6 587.6,684.5 587.9,691.4 588.2,691.1 588.5,687.2 588.8,687.1 589.1,696.5 589.4,683.5 589.7,689.5 590,687.5 590.3,687.2 590.6,695.1 590.9,692.6 591.2,696.4 591.5,698 591.8,706.2 592.1,682.5 592.4,697.6 592.7,684.2 593,696.1 593.3,691.5 593.6,697.1 593.9,690.9 594.2,684.5 594.5,683.9 594.8,690.9 595.1,681.2 595.4,683.3 595.7,680.9 596,689 596.3,690.2 596.6,688.5 596.9,691 597.2,688.7 597.5,680 597.8,690.8 598.1,676 598.4,689.7 598.7,682.2 599,702.2 599.3,687.1 599.6,697.6 599.9,692.6 600.2,680.2 600.5,694.1 600.8,700.3 601.1,691.8 601.4,696.1 601.7,688.5 602,692.1 602.3,694 602.6,693 602.9,689.8 603.2,686.2 603.5,689.1 603.8,686.1 604.1,689.5 604.4,691.8 604.7,688.8 605,684.2 605.3,690.3 605.6,688.9 605.9,694.7 606.2,683.7 606.5,693.3 606.8,694 607.1,696.8 607.4,701.1 607.7,691.9 608,702.1 608.3,690.4 608.6,687.3 608.9,683.9 609.2,685.2 609.5,691.1 609.8,687.1 610.1,680 610.4,688.7 610.7,688.3 611,692.3 611.3,691.2 611.6,686.2 611.9,686.2 612.2,688.5 612.5,690.6 612.8,699.7 613.1,700.3 613.4,694.6 613.7,692 614,695.6 614.3,700.6 614.6,692 614.9,693.2 615.2,697.8 615.5,694.2 615.8,691 616.1,691.7 616.4,691.2 616.7,691 617,691.7 617.3,693.6 617.6,701.4 617.9,695.9 618.2,693.9 618.5,694.5 618.8,695.3 619.1,692.7 619.4,692.3 619.7,695.4 620,689.7 620.3,688.1 620.6,683.6 620.9,690.9 621.2,685.3 621.5,685.9 621.8,683.2 622.1,679.1 622.4,686.1 622.7,677.9 623,680.1 623.3,687.2 623.6,688.4 623.9,682.9 624.2,682.4 624.5,689.5 624.8,691.6 625.1,693 625.4,684.5 625.7,687.5 626,687.3 626.3,692.3 626.6,693.4 626.9,686.3 627.2,699.2 627.5,686.2 627.8,701.1 628.1,693.3 628.4,691.2 628.7,688 629,686.3 629.3,689.7 629.6,692.6 629.9,678.9 630.2,688.4 630.5,690.2 630.8,685.9 631.1,697.7 631.4,689.2 631.7,692.3 632,691.3 632.3,691.1 632.6,683.3 632.9,688.3 633.2,681.1 633.5,680.1 633.8,681.2 634.1,677.2 634.4,675.9 634.7,672.5 635,668 635.3,679.6 635.6,670.4 635.9,673.4 636.2,674.2 636.5,679.3 636.8,672.8 637.1,680.3 637.4,678.2 637.7,674.2 638,673.9 638.3,678.3 638.6,674.2 638.9,677 639.2,675.5 639.5,673.5 639.8,675.7 640.1,676 640.4,675.3 640.7,677.7 641,675.7 641.3,674.9 641.6,680.3 641.9,678.3 642.2,672.4 642.5,672 642.8,684.4 643.1,683.6 643.4,687.9 643.7,682.1 644,685.6 644.3,683.3 644.6,673.4 644.9,677.7 645.2,677.6 645.5,669.8 645.8,668.6 646.1,665.9 646.4,669.3 646.7,673.7 647,674.2 647.3,679.7 647.6,680.8 647.9,685.7 648.2,677.8 648.5,681 648.8,687.8 649.1,674.5 649.4,672.5 649.7,669.8 650,676.4 650.3,683.7 650.6,688 650.9,692.8 651.2,681.6 651.5,687.3 651.8,689.3 652.1,697.8 652.4,687.5 652.7,684 653,678.9 653.3,682.7 653.6,690.7 653.9,690.1 654.2,703.9 654.5,688.1 654.8,689.3 655.1,697.5 655.4,684.8 655.7,692.9 656,690.9 656.3,689 656.6,681.3 656.9,679.5 657.2,684.4 657.5,682.1 657.8,682.5 658.1,682.2 658.4,681.7 658.7,695.9 659,686 659.3,683.7 659.6,691.3 659.9,679.8 660.2,680.6 660.5,675.3 660.8,690.6 661.1,686.7 661.4,693.3 661.7,689.8 662,687.2 662.3,684.1 662.6,678.9 662.9,689.6 663.2,680.3 663.5,676.3 663.8,679.3 664.1,668 664.4,679.6 664.7,667.2 665,675.9 665.3,680.5 665.6,685.8 665.9,683.4 666.2,684.9 666.5,689.4 666.8,677.7 667.1,674.2 667.4,674.2 667.7,662.3 668,669 668.3,678.3 668.6,675.4 668.9,677.6 669.2,682 669.5,673.8 669.8,676.5 670.1,677.8 670.4,681.6 670.7,684.9 671,674.2 671.3,689.5 671.6,676 671.9,670.6 672.2,673.9 672.5,672.1 672.8,675.5 673.1,672.6 673.4,675.4 673.7,674.4 674,669.8 674.3,668.1 674.6,669.5 674.9,671.6 675.2,669.4 675.5,678 675.8,665 676.1,668.4 676.4,669.8 676.7,665.1 677,667.9 677.3,668.1 677.6,657.3 677.9,668.9 678.2,673.1 678.5,670.7 678.8,669.7 679.1,663.4 679.4,667.6 679.7,657.5 680,667.1 680.3,671.7 680.6,672.4 680.9,676.7 681.2,672.9 681.5,673.8 681.8,676 682.1,670.3 682.4,667.2 682.7,675 683,675.2 683.3,676.2 683.6,671.3 683.9,674 684.2,671.9 684.5,677.6 684.8,673.5 685.1,676.7 685.4,678.3 685.7,673.6 686,670.7 686.3,670.5 686.6,681.5 686.9,667.3 687.2,675.3 687.5,668.5 687.8,670.9 688.1,674.8 688.4,672.3 688.7,667.3 689,670 689.3,672.9 689.6,666.1 689.9,671.3 690.2,667 690.5,661.7 690.8,676.8 691.1,655.8 691.4,682.2 691.7,674 692,674.4 692.3,682.1 692.6,675.1 692.9,676.3 693.2,675.5 693.5,671.9 693.8,672.8 694.1,670.6 694.4,673.9 694.7,669.8 695,673.6 695.3,671.2 695.6,664.2 695.9,666.3 696.2,670.3 696.5,668.3 696.8,674.4 697.1,672.8 697.4,671.1 697.7,669.5 698,675.3 698.3,670.6 698.6,664.5 698.9,667.5 699.2,667.6 699.5,670.8 699.8,667.4 700.1,674.4 700.4,673.8 700.7,655.9 701,683 701.3,663 701.6,664.6 701.9,665.7 702.2,666.9 702.5,657.1 702.8,654.3 703.1,656.3 703.4,654.9 703.7,669.2 704,665.6 704.3,666.2 704.6,662.5 704.9,655.6 705.2,660.7 705.5,653.3 705.8,646.1 706.1,656.4 706.4,665.9 706.7,658.6 707,654.5 707.3,658 707.6,650.7 707.9,660.4 708.2,657 708.5,657.3 708.8,659.5 709.1,664.2 709.4,656.2 709.7,649.6 710,654.5 710.3,651.6 710.6,653.5 710.9,652.8 711.2,661.4 711.5,652.1 711.8,666.1 712.1,655.1 712.4,650.8 712.7,663.6 713,666.5 713.3,665 713.6,664 713.9,670.3 714.2,669.8 714.5,670.9 714.8,672.5 715.1,669.7 715.4,668.4 715.7,673 716,671.1 716.3,670.8 716.6,669.4 716.9,667.8 717.2,669.5 717.5,668 717.8,668.3 718.1,669.6 718.4,666.8 718.7,669.3 719,664.7 719.3,666.5 719.6,663.7 719.9,665.8 720.2,664.7 720.5,651 720.8,678.8 721.1,668 721.4,657.8 721.7,660.4 722,673.9 722.3,665.6 722.6,668.8 722.9,666.2 723.2,670.5 723.5,666.1 723.8,669.5 724.1,673 724.4,658 724.7,664 725,667.6 725.3,672.3 725.6,660.4 725.9,676 726.2,667.1 726.5,666.1 726.8,659.5 727.1,674 727.4,668.8 727.7,668.8 728,658.6 728.3,660.4 728.6,653 728.9,654.1 729.2,660.6 729.5,662.8 729.8,659.5 730.1,653.7 730.4,661.8 730.7,667.3 731,639.9 731.3,650.2 731.6,652 731.9,666.8 732.2,653.2 732.5,655 732.8,650.8 733.1,656.8 733.4,651.5 733.7,671.9 734,666.7 734.3,652.5 734.6,651.3 734.9,667.8 735.2,654.7 735.5,654.3 735.8,658 736.1,658.4 736.4,658.2 736.7,654.8 737,656.6 737.3,646 737.6,648.3 737.9,655.2 738.2,659.9 738.5,659.7 738.8,654.7 739.1,666.6 739.4,649.2 739.7,653 740,652.6 740.3,662.1 740.6,654.6 740.9,657.5 741.2,664.5 741.5,659 741.8,655.5 742.1,664.2 742.4,659.4 742.7,647.8 743,653.8 743.3,653.6 743.6,655.2 743.9,659.9 744.2,647.8 744.5,648.3 744.8,658.4 745.1,647.2 745.4,653.4 745.7,652 746,648.9 746.3,656 746.6,653 746.9,653.9 747.2,659.1 747.5,653.3 747.8,660.7 748.1,656.2 748.4,656.7 748.7,666 749,656.2 749.3,656.7 749.6,662.8 749.9,671.3 750.2,669.5 750.5,669.6 750.8,659.9 751.1,665.1 751.4,681.7 751.7,667.8 752,667.1 752.3,667.8 752.6,679.8 752.9,668.2 753.2,676.5 753.5,665.3 753.8,669.5 754.1,663.2 754.4,674.9 754.7,673.1 755,675.9 755.3,673.3 755.6,670.9 755.9,684.1 756.2,679 756.5,661.9 756.8,657.5 757.1,662.5 757.4,665.7 757.7,667.6 758,663.1 758.3,669.9 758.6,665.3 758.9,660 759.2,674.1 759.5,655.8 759.8,663.7 760.1,657.9 760.4,660.4 760.7,667 761,672.2 761.3,661.2 761.6,657.7 761.9,649.4 762.2,649.7 762.5,647.1 762.8,646.8 763.1,644.9 763.4,653.9 763.7,636.5 764,650.2 764.3,648.7 764.6,645.5 764.9,640.1 765.2,644.5 765.5,659.1 765.8,650.4 766.1,654.1 766.4,656.6 766.7,661 767,659.7 767.3,654.3 767.6,656.4 767.9,648.6 768.2,649.4 768.5,650.8 768.8,653.1 769.1,647.4 769.4,652 769.7,654 770,664.6 770.3,664.8 770.6,659.7 770.9,661 771.2,659.6 771.5,659.6 771.8,659.3 772.1,655.1 772.4,658.9 772.7,664.2 773,661.1 773.3,662.1 773.6,654 773.9,651 774.2,655.9 774.5,662 774.8,658.3 775.1,651.5 775.4,652.4 775.7,657.2 776,654 776.3,648.5 776.6,646.6 776.9,640.5 777.2,645.1 777.5,651.2 777.8,664.4 778.1,656.4 778.4,653.7 778.7,646.6 779,662.9 779.3,668.5 779.6,660.2 779.9,660 780.2,649 780.5,657.1 780.8,652 781.1,653.3 781.4,653.1 781.7,655.1 782,655.4 782.3,657.7 782.6,659.8 782.9,657.4 783.2,656.6 783.5,655.4 783.8,653 784.1,654.8 784.4,658 784.7,660.1 785,669.3 785.3,659.5 785.6,654.1 785.9,652.1 786.2,655.9 786.5,653.7 786.8,657 787.1,664.8 787.4,656.3 787.7,658.5 788,664.7 788.3,663.5 788.6,660.2 788.9,660.7 789.2,660.4 789.5,656.4 789.8,650.8 790.1,660 790.4,662.3 790.7,669.5 791,662.2 791.3,670.2 791.6,668 791.9,666.9 792.2,665.9 792.5,659.6 792.8,666.1 793.1,663.7 793.4,652.3 793.7,658.9 794,662.3 794.3,666.3 794.6,663.4 794.9,660.6 795.2,657.9 795.5,653 795.8,667.2 796.1,659.2 796.4,659.7 796.7,658.3 797,660.4 797.3,658.4 797.6,640.4 797.9,652.8 798.2,653.1 798.5,651.3 798.8,654.1 799.1,652.1 799.4,652.8 799.7,648.7 800,642.7 800.3,650.4 800.6,653.3 800.9,652.3 801.2,652.6 801.5,661.2 801.8,647.6 802.1,649.4 802.4,654.6 802.7,658.3 803,655.8 803.3,662.7 803.6,641.9 803.9,659.7 804.2,657.8 804.5,659.4 804.8,658.3 805.1,658.7 805.4,657.5 805.7,657.1 806,660.4 806.3,657.6 806.6,659.4 806.9,661 807.2,669.6 807.5,671.5 807.8,655.8 808.1,655.5 808.4,655.2 808.7,666.9 809,653.8 809.3,654.1 809.6,668 809.9,666.7 810.2,663.7 810.5,667.4 810.8,666.6 811.1,666.5 811.4,662.2 811.7,671.6 812,672 812.3,662.5 812.6,660.4 812.9,675.6 813.2,670.2 813.5,670.6 813.8,667.5 814.1,674.5 814.4,664.1 814.7,676.8 815,664 815.3,668.4 815.6,666.6 815.9,665.9 816.2,667.5 816.5,669.8 816.8,673.4 817.1,670.8 817.4,668.5 817.7,664.7 818,668.6 818.3,663.4 818.6,672.8 818.9,683.6 819.2,672.6 819.5,673.9 819.8,681.1 820.1,675.7 820.4,676.7 820.7,687.9 821,685.6 821.3,689.2 821.6,680.8 821.9,691 822.2,693.1 822.5,679.1 822.8,682.1 823.1,676 823.4,672.3 823.7,664.6 824,673.7 824.3,671.3 824.6,673.8 824.9,673.3 825.2,668.8 825.5,672.3 825.8,670.5 826.1,674.6 826.4,669.2 826.7,698.4 827,677.9 827.3,679.8 827.6,683.9 827.9,679.2 828.2,688.9 828.5,694.9 828.8,693.9 829.1,692.1 829.4,688.1 829.7,693 830,688.1 830.3,684.9 830.6,681.5 830.9,685.1 831.2,682.3 831.5,672.3 831.8,685.2 832.1,667.8 832.4,682.9 832.7,678.9 833,684.5 833.3,693.1 833.6,686.3 833.9,689.8 834.2,688.4 834.5,696.5 834.8,697.2 835.1,703.9 835.4,701.6 835.7,699.2 836,703.6 836.3,692.3 836.6,691.9 836.9,689.7 837.2,685.5 837.5,687.9 837.8,696.8 838.1,685.5 838.4,688.1 838.7,687.6 839,697 839.3,687.2 839.6,691.9 839.9,693.9 840.2,682.7 840.5,692.9 840.8,689.1 841.1,697.3 841.4,701.3 841.7,702.8 842,706.6 842.3,703 842.6,699.1 842.9,708 843.2,704 843.5,708.5 843.8,700.5 844.1,697.3 844.4,707.9 844.7,706.3 845,706.5 845.3,708.8 845.6,709.3 845.9,711.4 846.2,708.7 846.5,706.9 846.8,703.8 847.1,706.4 847.4,708.6 847.7,701.6 848,711.5 848.3,710.7 848.6,710.3 848.9,707.9 849.2,710.6 849.5,707.7 849.8,708.9 850.1,711.1 850.4,706.9"/>
<polyline clip-path="url(#c4)" fill="none" stroke="#0072bd" stroke-width="2.4" stroke-linejoin="round" points="888,637 888.3,634.3 888.6,633.2 888.9,633.5 889.2,626.1 889.5,634.7 889.8,638.5 890.1,642.4 890.4,640.5 890.7,646.7 891,646.3 891.3,641.8 891.6,642.4 891.9,642.1 892.2,641.5 892.5,633.7 892.8,634.6 893.1,648.6 893.4,641.8 893.7,637.4 894,638.6 894.3,639.2 894.6,637.1 894.9,644.6 895.2,642.5 895.5,641.5 895.8,642 896.1,642 896.4,644.1 896.7,641 897,644.6 897.3,637.9 897.6,638.6 897.9,640 898.2,628.8 898.5,638.5 898.8,634.1 899.1,632.3 899.4,629.4 899.7,629.5 900,635.1 900.3,636.3 900.6,640.3 900.9,638 901.2,645.1 901.5,643 901.8,645.2 902.1,645.9 902.4,641.7 902.7,647 903,645.7 903.3,643.2 903.6,643.3 903.9,646.7 904.2,644.4 904.5,650.2 904.8,646.7 905.1,649.4 905.4,646.4 905.7,648.4 906,644.3 906.3,651.2 906.6,646.9 906.9,647.1 907.2,651.5 907.5,640.2 907.8,638.2 908.1,636.9 908.4,639.5 908.7,640.6 909,640.9 909.3,641.9 909.6,649.3 909.9,644.4 910.2,645.9 910.5,642.7 910.8,639.1 911.1,647.6 911.4,643.9 911.7,652.4 912,645.1 912.3,652.4 912.6,651.1 912.9,646.2 913.2,648.4 913.5,648.6 913.8,651.4 914.1,649.5 914.4,653.3 914.7,647.5 915,651.5 915.3,646.2 915.6,639.5 915.9,643.6 916.2,646.5 916.5,644.9 916.8,645.1 917.1,646.7 917.4,654.1 917.7,645.5 918,642.2 918.3,644.9 918.6,647.2 918.9,643 919.2,645.5 919.5,640.1 919.8,647.3 920.1,631 920.4,646.2 920.7,647.5 921,649.7 921.3,652.7 921.6,652.1 921.9,652.2 922.2,643.4 922.5,654.6 922.8,660.9 923.1,651.9 923.4,658.3 923.7,656.5 924,656.5 924.3,653.7 924.6,652.4 924.9,663.3 925.2,655.3 925.5,654 925.8,649.2 926.1,650.9 926.4,651.7 926.7,649.3 927,644.8 927.3,652.1 927.6,645.3 927.9,642.9 928.2,636.6 928.5,629.2 928.8,630 929.1,623.7 929.4,644.4 929.7,641.2 930,653.3 930.3,641.5 930.6,638.3 930.9,641.7 931.2,646.7 931.5,643.8 931.8,644.9 932.1,645.4 932.4,636.5 932.7,638.7 933,636.5 933.3,633.3 933.6,629.6 933.9,630.7 934.2,637.5 934.5,632.5 934.8,641.5 935.1,640.2 935.4,646.7 935.7,643.6 936,647.7 936.3,654 936.6,640.8 936.9,645 937.2,654.6 937.5,649.4 937.8,643.3 938.1,642.6 938.4,648.1 938.7,641.8 939,648 939.3,657.7 939.6,647.6 939.9,645 940.2,638.4 940.5,638 940.8,635.4 941.1,645.1 941.4,637.9 941.7,638 942,630.5 942.3,640.8 942.6,641.3 942.9,641.8 943.2,646.3 943.5,637.6 943.8,645.9 944.1,646.1 944.4,646.5 944.7,639.1 945,643.7 945.3,646 945.6,652.2 945.9,648.5 946.2,647.8 946.5,650.8 946.8,646.5 947.1,643.3 947.4,642.5 947.7,638 948,641.1 948.3,642.5 948.6,641.9 948.9,643.6 949.2,639.2 949.5,641.4 949.8,652.7 950.1,647 950.4,647.4 950.7,658.3 951,644.4 951.3,644.6 951.6,641.7 951.9,638.8 952.2,631.3 952.5,629.2 952.8,639.6 953.1,640.2 953.4,643.7 953.7,638.6 954,636.7 954.3,638.8 954.6,633.4 954.9,636.1 955.2,628.8 955.5,637.6 955.8,631.2 956.1,641.2 956.4,642 956.7,640.7 957,646.4 957.3,641.7 957.6,648.2 957.9,644.1 958.2,648.5 958.5,642.4 958.8,648.1 959.1,641.4 959.4,644.2 959.7,645.3 960,641.7 960.3,639.4 960.6,653.4 960.9,657.5 961.2,645 961.5,639.6 961.8,637.4 962.1,640.4 962.4,645.9 962.7,641.2 963,638.8 963.3,637.6 963.6,641.8 963.9,635.8 964.2,637.1 964.5,636.6 964.8,630.5 965.1,636.9 965.4,634.6 965.7,640.9 966,634.7 966.3,635.4 966.6,638.4 966.9,635.1 967.2,636.6 967.5,637 967.8,643 968.1,639.8 968.4,635.1 968.7,630.9 969,632.1 969.3,627.7 969.6,626.2 969.9,629.2 970.2,625.3 970.5,641.2 970.8,634.9 971.1,638.1 971.4,635.8 971.7,637.8 972,636 972.3,636 972.6,636.3 972.9,631.5 973.2,637 973.5,635.7 973.8,634.3 974.1,636.5 974.4,628 974.7,631.6 975,637 975.3,634.9 975.6,633.7 975.9,627.6 976.2,639.5 976.5,637.4 976.8,629.3 977.1,641.2 977.4,635.9 977.7,641.1 978,638.1 978.3,637.5 978.6,640 978.9,639.7 979.2,642.9 979.5,641.2 979.8,641.3 980.1,648.7 980.4,641.5 980.7,641.3 981,641.9 981.3,643.5 981.6,640.6 981.9,639.6 982.2,639.2 982.5,635.8 982.8,631.9 983.1,636.9 983.4,645.7 983.7,636.2 984,639.2 984.3,635.5 984.6,638 984.9,652.7 985.2,641.4 985.5,642.8 985.8,641.8 986.1,643.7 986.4,646.9 986.7,638.1 987,640.6 987.3,638.4 987.6,641.8 987.9,642.3 988.2,635.9 988.5,639.3 988.8,636.5 989.1,642.8 989.4,636.5 989.7,637.1 990,640.1 990.3,641.2 990.6,643 990.9,640.8 991.2,636.4 991.5,627.6 991.8,632.8 992.1,640.5 992.4,641 992.7,645.6 993,638.9 993.3,641 993.6,634.9 993.9,644.2 994.2,657.5 994.5,639.6 994.8,642.2 995.1,643.1 995.4,639.9 995.7,640.4 996,633.7 996.3,637.5 996.6,639.4 996.9,634.1 997.2,634.2 997.5,645.1 997.8,640.7 998.1,642.4 998.4,642.2 998.7,645.2 999,641.6 999.3,645.2 999.6,643.6 999.9,641.7 1000.2,644.1 1000.5,643.8 1000.8,645.9 1001.1,637 1001.4,634.9 1001.7,632.1 1002,646.9 1002.3,639.8 1002.6,646.2 1002.9,645.7 1003.2,651.7 1003.5,650.8 1003.8,655.8 1004.1,655.8 1004.4,654.2 1004.7,654.4 1005,660.4 1005.3,661.2 1005.6,653.5 1005.9,650.3 1006.2,651.7 1006.5,642.2 1006.8,650.9 1007.1,647.9 1007.4,649.1 1007.7,652.6 1008,643.8 1008.3,654.4 1008.6,655.4 1008.9,658 1009.2,664.3 1009.5,661.1 1009.8,663.5 1010.1,660.4 1010.4,662 1010.7,665.7 1011,656.8 1011.3,662 1011.6,663.3 1011.9,666.4 1012.2,666.2 1012.5,674 1012.8,669.6 1013.1,669.5 1013.4,663.7 1013.7,661.4 1014,656.8 1014.3,660.6 1014.6,653 1014.9,651.2 1015.2,656.2 1015.5,655.1 1015.8,649.7 1016.1,656.3 1016.4,652.9 1016.7,655.1 1017,647.8 1017.3,651.1 1017.6,653 1017.9,660.6 1018.2,654.4 1018.5,650.7 1018.8,653.3 1019.1,647.1 1019.4,652.1 1019.7,652.5 1020,644.4 1020.3,630.8 1020.6,648.3 1020.9,650.6 1021.2,646.4 1021.5,658.5 1021.8,654.9 1022.1,655.7 1022.4,654.7 1022.7,657 1023,654.7 1023.3,649.2 1023.6,658.7 1023.9,652 1024.2,653.6 1024.5,659.9 1024.8,654.7 1025.1,660.2 1025.4,657.7 1025.7,657.3 1026,658.1 1026.3,664 1026.6,664 1026.9,660.1 1027.2,659.5 1027.5,649.9 1027.8,656.9 1028.1,661.2 1028.4,657.6 1028.7,656.9 1029,662.7 1029.3,655.6 1029.6,657.6 1029.9,657 1030.2,656.7 1030.5,658.9 1030.8,657.9 1031.1,655.9 1031.4,652.9 1031.7,661.7 1032,656.3 1032.3,655.3 1032.6,661.5 1032.9,652.5 1033.2,652.8 1033.5,665.6 1033.8,658.3 1034.1,656.3 1034.4,657.3 1034.7,657.1 1035,660.8 1035.3,656.3 1035.6,651.8 1035.9,651 1036.2,652.7 1036.5,649.5 1036.8,654.7 1037.1,652.6 1037.4,635.5 1037.7,652 1038,657 1038.3,656.3 1038.6,653.4 1038.9,642.6 1039.2,648.6 1039.5,651.5 1039.8,653.7 1040.1,656.5 1040.4,654.4 1040.7,653.3 1041,654 1041.3,651 1041.6,650.3 1041.9,647.7 1042.2,647 1042.5,649.8 1042.8,649.5 1043.1,642.6 1043.4,649.1 1043.7,654.8 1044,648.2 1044.3,653.5 1044.6,650.7 1044.9,651 1045.2,651.5 1045.5,634.6 1045.8,644.3 1046.1,639.1 1046.4,635.1 1046.7,635.4 1047,641.7 1047.3,639.3 1047.6,644.3 1047.9,638 1048.2,646.5 1048.5,642.4 1048.8,645.3 1049.1,640.7 1049.4,634.6 1049.7,633.1 1050,640.1 1050.3,639.1 1050.6,642.4 1050.9,639.6 1051.2,644.5 1051.5,641.9 1051.8,649.3 1052.1,639.2 1052.4,637.7 1052.7,632.7 1053,637.7 1053.3,638 1053.6,639.4 1053.9,655.5 1054.2,641.1 1054.5,643.3 1054.8,644.9 1055.1,644.6 1055.4,648.1 1055.7,649.7 1056,647.7 1056.3,653.5 1056.6,645.7 1056.9,648.4 1057.2,647.2 1057.5,648.7 1057.8,647.7 1058.1,648.3 1058.4,646.6 1058.7,647.2 1059,649.3 1059.3,651.4 1059.6,648.4 1059.9,652.1 1060.2,647.3 1060.5,649 1060.8,651.6 1061.1,648.5 1061.4,656.6 1061.7,658.1 1062,653.1 1062.3,652.3 1062.6,654.7 1062.9,658.8 1063.2,655.1 1063.5,651 1063.8,651.5 1064.1,654.4 1064.4,654.8 1064.7,657.3 1065,660.5 1065.3,666.4 1065.6,659.5 1065.9,657.9 1066.2,655.7 1066.5,654.5 1066.8,656.4 1067.1,657.6 1067.4,653.9 1067.7,653.1 1068,654.2 1068.3,657.1 1068.6,653 1068.9,659.3 1069.2,654.5 1069.5,664.8 1069.8,653.3 1070.1,652.2 1070.4,650.7 1070.7,643.7 1071,642.5 1071.3,642.1 1071.6,645.7 1071.9,646.3 1072.2,653.3 1072.5,647.7 1072.8,651.6 1073.1,649.5 1073.4,651 1073.7,648.1 1074,653 1074.3,643.7 1074.6,649.5 1074.9,648.6 1075.2,645.1 1075.5,645.4 1075.8,645.7 1076.1,646.5 1076.4,644.7 1076.7,650.2 1077,651 1077.3,650.3 1077.6,648.5 1077.9,648.5 1078.2,647.8 1078.5,652.4 1078.8,648.1 1079.1,648.9 1079.4,649.7 1079.7,651.2 1080,650.3 1080.3,653.3 1080.6,654.4 1080.9,658.6 1081.2,657.5 1081.5,662 1081.8,663 1082.1,656.3 1082.4,657.7 1082.7,655.1 1083,653.9 1083.3,648.2 1083.6,648.5 1083.9,644 1084.2,646.2 1084.5,654.1 1084.8,638.8 1085.1,650.6 1085.4,652 1085.7,645.1 1086,652.1 1086.3,652.7 1086.6,645.5 1086.9,648.1 1087.2,646.6 1087.5,647.5 1087.8,645.8 1088.1,645.1 1088.4,648.2 1088.7,639.7 1089,647.6 1089.3,650.1 1089.6,657.9 1089.9,650.3 1090.2,651.9 1090.5,649.7 1090.8,650.5 1091.1,655.6 1091.4,648.4 1091.7,649.7 1092,635.5 1092.3,647.2 1092.6,646 1092.9,636.1 1093.2,642.1 1093.5,636.2 1093.8,642.5 1094.1,637.3 1094.4,640.1 1094.7,641.8 1095,630.4 1095.3,651.4 1095.6,641.9 1095.9,636 1096.2,645.6 1096.5,649.7 1096.8,646 1097.1,643.5 1097.4,649.7 1097.7,652.2 1098,641.8 1098.3,648.2 1098.6,647 1098.9,647.1 1099.2,641.4 1099.5,642.8 1099.8,645.1 1100.1,649.6 1100.4,650.9 1100.7,641.5 1101,648.5 1101.3,645.1 1101.6,648.8 1101.9,642.7 1102.2,640.9 1102.5,637.3 1102.8,638.9 1103.1,638 1103.4,637.5 1103.7,639 1104,637.4 1104.3,642 1104.6,641.4 1104.9,637.5 1105.2,640.7 1105.5,641.3 1105.8,638.5 1106.1,641.8 1106.4,635 1106.7,634.8 1107,626.1 1107.3,629.8 1107.6,629.5 1107.9,630 1108.2,635.6 1108.5,631.9 1108.8,629.7 1109.1,627.3 1109.4,628.2 1109.7,631.6 1110,639.8 1110.3,629.7 1110.6,636.1 1110.9,633.1 1111.2,633 1111.5,635.1 1111.8,637 1112.1,637.6 1112.4,635.1 1112.7,640 1113,632.8 1113.3,640.7 1113.6,630.4 1113.9,646.5 1114.2,639.9 1114.5,646.6 1114.8,636.9 1115.1,636 1115.4,639.7 1115.7,630.9 1116,638.8 1116.3,636.4 1116.6,636.5 1116.9,641.9 1117.2,637.6 1117.5,630.1 1117.8,641.6 1118.1,632.8 1118.4,625.7 1118.7,633.7 1119,642.9 1119.3,638.5 1119.6,640 1119.9,641.1 1120.2,636.6 1120.5,630.1 1120.8,637.5 1121.1,631.3 1121.4,627.8 1121.7,631.6 1122,629.3 1122.3,624.8 1122.6,619.9 1122.9,623.7 1123.2,619.6 1123.5,620.1 1123.8,630.4 1124.1,631.3 1124.4,625.2 1124.7,627.8 1125,630.8 1125.3,623.7 1125.6,624.5 1125.9,630.5 1126.2,628 1126.5,624.8 1126.8,627.3 1127.1,624.9 1127.4,611.4 1127.7,623.6 1128,625.2 1128.3,622.2 1128.6,621.7 1128.9,617.3 1129.2,627.9 1129.5,616.2 1129.8,621.1 1130.1,623.8 1130.4,627.3 1130.7,636.3 1131,625 1131.3,632.8 1131.6,633.9 1131.9,625.2 1132.2,626.9 1132.5,641.8 1132.8,638.6 1133.1,633.9 1133.4,635.7 1133.7,636.1 1134,631.9 1134.3,636.3 1134.6,636.3 1134.9,632.2 1135.2,626.3 1135.5,622.7 1135.8,621.5 1136.1,617.4 1136.4,620.8 1136.7,620.7 1137,618.8 1137.3,620.5 1137.6,614.6 1137.9,621.1 1138.2,618.8 1138.5,618.7 1138.8,613.1 1139.1,612.4 1139.4,608.6 1139.7,602.3 1140,610.5 1140.3,612.4 1140.6,605.4 1140.9,612.2 1141.2,605.3 1141.5,609.1 1141.8,606.5 1142.1,609.9 1142.4,603.8 1142.7,602.4 1143,599.2 1143.3,598 1143.6,593.2 1143.9,590.5 1144.2,595.8 1144.5,594.7 1144.8,601 1145.1,600.1 1145.4,601.6 1145.7,601 1146,601.6 1146.3,600.1 1146.6,599.4 1146.9,599.5 1147.2,606.2 1147.5,605.4 1147.8,601.8 1148.1,603.3 1148.4,608.9 1148.7,601.6 1149,605.3 1149.3,604.8 1149.6,609 1149.9,606.1 1150.2,608.8 1150.5,600.5 1150.8,604.6 1151.1,594.5 1151.4,600.6 1151.7,597.1 1152,605.9 1152.3,591.8 1152.6,594.1 1152.9,597 1153.2,604.6 1153.5,605 1153.8,602.5 1154.1,608.1 1154.4,599.4 1154.7,594 1155,593.4 1155.3,599.5 1155.6,595 1155.9,599 1156.2,599.2 1156.5,595 1156.8,601.8 1157.1,596.2 1157.4,601.7 1157.7,600.4 1158,596.3 1158.3,604.9 1158.6,597.2 1158.9,599.3 1159.2,601.8 1159.5,601 1159.8,605.5 1160.1,604.5 1160.4,605.7 1160.7,603.1 1161,603.8 1161.3,605.8 1161.6,604 1161.9,602.7 1162.2,603 1162.5,604.8 1162.8,598.2 1163.1,612.4 1163.4,605.6 1163.7,603.1 1164,597.3 1164.3,604.8 1164.6,594.3 1164.9,601.5 1165.2,593.7 1165.5,600 1165.8,592.9 1166.1,601.4 1166.4,589.3 1166.7,588.9 1167,591.4 1167.3,600.7 1167.6,590.7 1167.9,588.9 1168.2,595.4 1168.5,592.5 1168.8,598.4 1169.1,597.9 1169.4,601.3 1169.7,602 1170,596.3 1170.3,600.5 1170.6,590.6 1170.9,595.5 1171.2,591.3 1171.5,593.2 1171.8,590.7 1172.1,594 1172.4,587.1 1172.7,592.1 1173,594.1 1173.3,596.9 1173.6,596.4 1173.9,593.4 1174.2,609.6 1174.5,601 1174.8,598.5 1175.1,593.6 1175.4,586.7 1175.7,587.7 1176,587 1176.3,587 1176.6,588.4 1176.9,589.6 1177.2,597.9 1177.5,590 1177.8,597.3 1178.1,586.6 1178.4,606.5 1178.7,590.6 1179,594.5 1179.3,590.6 1179.6,591.6 1179.9,594 1180.2,594 1180.5,593.4 1180.8,596.6 1181.1,595.1 1181.4,602.7 1181.7,607.2 1182,605.7 1182.3,608.4 1182.6,602.6 1182.9,613.4 1183.2,611.2 1183.5,606.8 1183.8,605.7 1184.1,603.4 1184.4,602.6 1184.7,602.8 1185,590.1 1185.3,585.5 1185.6,594.9 1185.9,598.4 1186.2,599.8 1186.5,602.4 1186.8,606.9 1187.1,603.2 1187.4,600.3 1187.7,609 1188,607.1 1188.3,612 1188.6,605.5 1188.9,615.6 1189.2,609.7 1189.5,605.3 1189.8,612.1 1190.1,611.1 1190.4,607.8 1190.7,606.5 1191,606.7 1191.3,614.1 1191.6,604.8 1191.9,605 1192.2,607.9 1192.5,607.3 1192.8,608.3 1193.1,608.3 1193.4,606.9 1193.7,605.5 1194,607 1194.3,610.1 1194.6,608.3 1194.9,610.2 1195.2,611 1195.5,613.3 1195.8,607.4 1196.1,605.2 1196.4,606.9 1196.7,601.6 1197,591.9 1197.3,595 1197.6,594.8 1197.9,597.1 1198.2,584.1 1198.5,593.6 1198.8,593 1199.1,601.3 1199.4,600.8 1199.7,605.9 1200,593.9 1200.3,600.7 1200.6,595.1 1200.9,598.3 1201.2,602.6 1201.5,594.6 1201.8,596.9 1202.1,593.8 1202.4,598.4 1202.7,596.8 1203,595.8 1203.3,600.9 1203.6,597.8 1203.9,606.4 1204.2,609.9 1204.5,608.3 1204.8,603.8 1205.1,603.1 1205.4,602 1205.7,596.5 1206,600 1206.3,595.9 1206.6,590.1 1206.9,598.5 1207.2,603.3 1207.5,594.6 1207.8,597.4 1208.1,595.6 1208.4,596.8 1208.7,596.9 1209,600.3 1209.3,601.2 1209.6,599.9 1209.9,593.8 1210.2,601.1 1210.5,601.6 1210.8,599.9 1211.1,600.3 1211.4,601.1 1211.7,603.4 1212,599.7 1212.3,601.4 1212.6,603.3 1212.9,599.2 1213.2,604.1 1213.5,604.2 1213.8,605.6 1214.1,605.3 1214.4,609.1 1214.7,604.4 1215,603.7 1215.3,604.9 1215.6,599.6 1215.9,601.7 1216.2,606.5 1216.5,598.2 1216.8,607 1217.1,607.7 1217.4,611.8 1217.7,611.1 1218,611.9 1218.3,609.5 1218.6,609.2 1218.9,614.2 1219.2,623.8 1219.5,609.3 1219.8,614.3 1220.1,622.2 1220.4,623.3 1220.7,625.1 1221,621.8 1221.3,618.1 1221.6,628.4 1221.9,627.6 1222.2,625.5 1222.5,621.7 1222.8,625.3 1223.1,634.3 1223.4,629 1223.7,616.1 1224,632.2 1224.3,628.8 1224.6,620.9 1224.9,628.3 1225.2,633.2 1225.5,620.8 1225.8,627.6 1226.1,625.5 1226.4,623.5 1226.7,635.2 1227,628.5 1227.3,632.5 1227.6,645.5 1227.9,630.5 1228.2,629 1228.5,627.8 1228.8,631.8 1229.1,630.9 1229.4,622.5 1229.7,634 1230,630.8 1230.3,632.9 1230.6,638.1 1230.9,641.3 1231.2,636.5 1231.5,641.6 1231.8,638.6 1232.1,641.9 1232.4,637.6 1232.7,631.9 1233,632.7 1233.3,634.7 1233.6,630.7 1233.9,631.2 1234.2,634.1 1234.5,637.7 1234.8,635.7 1235.1,637.2 1235.4,635.9 1235.7,635.6 1236,633 1236.3,633.9 1236.6,635.7 1236.9,636.9 1237.2,630.9 1237.5,634.2 1237.8,634.6 1238.1,635.5 1238.4,635.3 1238.7,633.8 1239,639.3 1239.3,632.1 1239.6,635.5 1239.9,634.6 1240.2,635.9 1240.5,649 1240.8,630.4 1241.1,639.4 1241.4,633.1 1241.7,627.5 1242,633.4 1242.3,630.6 1242.6,631.1 1242.9,633.4 1243.2,629.4 1243.5,633 1243.8,639.2 1244.1,634 1244.4,637.4 1244.7,663.6 1245,633.7 1245.3,635.5 1245.6,634.9 1245.9,635.3 1246.2,633.4 1246.5,636 1246.8,632.6 1247.1,637.6 1247.4,636.5 1247.7,633.7 1248,638 1248.3,634.6 1248.6,636.2 1248.9,637.9 1249.2,640.4 1249.5,640.1 1249.8,642.7 1250.1,649.4 1250.4,641 1250.7,645.5 1251,642.4 1251.3,649.1 1251.6,645.5 1251.9,654.1 1252.2,657.4 1252.5,652.7 1252.8,647.6 1253.1,646.2 1253.4,651.3 1253.7,637.8 1254,658.2 1254.3,657.2 1254.6,651.8 1254.9,651.3 1255.2,670.2 1255.5,658.5 1255.8,658.7 1256.1,660.2 1256.4,653.5 1256.7,654.5 1257,651 1257.3,641.3 1257.6,650.2 1257.9,647.4 1258.2,643.8 1258.5,645.5 1258.8,658.7 1259.1,642 1259.4,648.6 1259.7,650.4 1260,653.1 1260.3,656.7 1260.6,656.2 1260.9,650.3 1261.2,653 1261.5,651.2 1261.8,657 1262.1,654.4 1262.4,647.4 1262.7,647.7 1263,666 1263.3,644.8 1263.6,654.8 1263.9,650.1 1264.2,661.7 1264.5,644.1 1264.8,647.1 1265.1,646.5 1265.4,645.2 1265.7,643.4 1266,648.3 1266.3,661.4 1266.6,644.1 1266.9,642.8 1267.2,640.9 1267.5,652.9 1267.8,638.1 1268.1,648.8 1268.4,647.8 1268.7,647.9 1269,652.9 1269.3,655.6 1269.6,654.1 1269.9,660.8 1270.2,658.6 1270.5,659.7 1270.8,659.8 1271.1,658.3 1271.4,658.9 1271.7,658.5 1272,660.8 1272.3,655.4 1272.6,657.2 1272.9,657.2 1273.2,661.9 1273.5,663.6 1273.8,655.6 1274.1,661.2 1274.4,656.3 1274.7,662.8 1275,657.3 1275.3,664.7 1275.6,667 1275.9,664 1276.2,669.2 1276.5,672 1276.8,678.6 1277.1,666.1 1277.4,665.2 1277.7,666.2 1278,659.5 1278.3,665.3 1278.6,666.5 1278.9,670.4 1279.2,668.9 1279.5,671.4 1279.8,672.3 1280.1,667.5 1280.4,674.6 1280.7,670.6 1281,665.8 1281.3,667.9 1281.6,667 1281.9,671.2 1282.2,664.7 1282.5,662.7 1282.8,664 1283.1,658.3 1283.4,656.7 1283.7,666.4 1284,663.9 1284.3,660.8 1284.6,660.7 1284.9,664.4 1285.2,661.2 1285.5,657.4 1285.8,658.2 1286.1,655 1286.4,656.8 1286.7,656.9 1287,652.6 1287.3,661.5 1287.6,659.5 1287.9,660.2 1288.2,664.7 1288.5,661.2 1288.8,657.8 1289.1,658.7 1289.4,666 1289.7,654.3 1290,663.2 1290.3,660.2 1290.6,665.1 1290.9,658.3 1291.2,662.9 1291.5,665.2 1291.8,668.3 1292.1,659.3 1292.4,666.5 1292.7,669.9 1293,659.2 1293.3,665 1293.6,674.1 1293.9,669.1 1294.2,667.2 1294.5,663.7 1294.8,667.3 1295.1,660.2 1295.4,669.2 1295.7,663.4 1296,670.2 1296.3,662.6 1296.6,663 1296.9,660.9 1297.2,666.5 1297.5,664.1 1297.8,664.3 1298.1,675.8 1298.4,668.9 1298.7,675 1299,668.6 1299.3,670.8 1299.6,673.7 1299.9,679.4 1300.2,672.9 1300.5,674.5 1300.8,680.7 1301.1,678.2 1301.4,679.7 1301.7,678 1302,679.8 1302.3,687.7 1302.6,683.6 1302.9,682.6 1303.2,677 1303.5,682 1303.8,675.8 1304.1,675.3 1304.4,672.5 1304.7,678.6 1305,673.8 1305.3,675.3 1305.6,679.6 1305.9,683.8 1306.2,678.5 1306.5,678.5 1306.8,686 1307.1,679.8 1307.4,685.7 1307.7,687.7 1308,688.2 1308.3,685.3 1308.6,689.6 1308.9,686.4 1309.2,697.9 1309.5,682.7 1309.8,688.7 1310.1,696.9 1310.4,683.3 1310.7,692.5 1311,696.8 1311.3,687 1311.6,682.1 1311.9,681.8 1312.2,678.9 1312.5,681.5 1312.8,687.5 1313.1,682.9 1313.4,684.1 1313.7,691.4 1314,691.7 1314.3,688.1 1314.6,689.9 1314.9,685.4 1315.2,683.6 1315.5,676.8 1315.8,677.1 1316.1,678.5 1316.4,674.6 1316.7,677.1 1317,679.8 1317.3,681.3 1317.6,693.9 1317.9,679.2 1318.2,682.6 1318.5,685.2 1318.8,676.2 1319.1,691.5 1319.4,690.8 1319.7,683.4 1320,686.6 1320.3,682.4 1320.6,683.6 1320.9,680.5 1321.2,681.7 1321.5,684.1 1321.8,678.7 1322.1,680.9 1322.4,679.9 1322.7,683.7 1323,693 1323.3,677.8 1323.6,678.3 1323.9,678.2 1324.2,671.2 1324.5,673.2 1324.8,673.1 1325.1,676.3 1325.4,680.2 1325.7,677.2 1326,676.7 1326.3,676.9 1326.6,673.7 1326.9,675.1 1327.2,681.8 1327.5,674 1327.8,679.1 1328.1,673 1328.4,674.1 1328.7,678.6 1329,671.7 1329.3,666.9 1329.6,668.1 1329.9,667.4 1330.2,670.9 1330.5,668.1 1330.8,668.9 1331.1,666.9 1331.4,675.6 1331.7,671.1 1332,676.1 1332.3,672.1 1332.6,669.6 1332.9,671.2 1333.2,672.4 1333.5,669.7 1333.8,667.1 1334.1,666.7 1334.4,665.5 1334.7,669.7 1335,673.3 1335.3,677.6 1335.6,686.3 1335.9,681.1 1336.2,679.9 1336.5,673.2 1336.8,680.9 1337.1,683.4 1337.4,665.7 1337.7,682.1 1338,671.9 1338.3,673 1338.6,666.4 1338.9,676.5 1339.2,667.6 1339.5,676.5 1339.8,673.6 1340.1,671 1340.4,676.9 1340.7,674 1341,671.3 1341.3,673.1 1341.6,681.1 1341.9,679.6 1342.2,686.5 1342.5,678.6 1342.8,681.9 1343.1,682.2 1343.4,680.3 1343.7,681.6 1344,687 1344.3,683.4 1344.6,675 1344.9,680.8 1345.2,685.7 1345.5,684.4 1345.8,687.3 1346.1,689.9 1346.4,683.6 1346.7,690.9 1347,692 1347.3,694.5 1347.6,691.6 1347.9,688.5 1348.2,688.6 1348.5,688.2 1348.8,691.8 1349.1,693.2 1349.4,697.1 1349.7,693.3 1350,694.3 1350.3,696.1 1350.6,701.9 1350.9,696.9 1351.2,696.3 1351.5,702.5 1351.8,706.5 1352.1,703.2 1352.4,710.1 1352.7,705.6 1353,706.6 1353.3,718.1 1353.6,700.1 1353.9,697 1354.2,703.5 1354.5,698.2 1354.8,703.4 1355.1,685.7 1355.4,701.5 1355.7,694 1356,698.8 1356.3,702.3 1356.6,697.6 1356.9,697.8 1357.2,699.9 1357.5,695.2 1357.8,699 1358.1,701.3 1358.4,703.7 1358.7,703.4 1359,703.4 1359.3,701.2 1359.6,701.5 1359.9,708.6 1360.2,706.3 1360.5,713.7 1360.8,704.6 1361.1,698.6 1361.4,702.5 1361.7,706.8 1362,693.4 1362.3,695.9 1362.6,700 1362.9,694.9 1363.2,705 1363.5,698.9 1363.8,707.5 1364.1,703 1364.4,703.8 1364.7,702.1 1365,703.3 1365.3,702.5 1365.6,704.5 1365.9,697.6 1366.2,717.6 1366.5,699.1 1366.8,698.7 1367.1,700.9 1367.4,702 1367.7,702.5 1368,705.7 1368.3,699.5 1368.6,699.8 1368.9,694.4 1369.2,695.5 1369.5,694.1 1369.8,696.1 1370.1,694.1 1370.4,692.3 1370.7,691 1371,690.4 1371.3,691.2 1371.6,686.8 1371.9,689.3 1372.2,691.3 1372.5,693.4 1372.8,695 1373.1,691.5 1373.4,683.3 1373.7,686.6 1374,688.6 1374.3,691.3 1374.6,689.8 1374.9,690.5 1375.2,699 1375.5,696.5 1375.8,696.6 1376.1,690.3 1376.4,689.5 1376.7,688.7 1377,687.8 1377.3,690.1 1377.6,692.1 1377.9,690.3 1378.2,691.5 1378.5,693.2 1378.8,687.1 1379.1,697.9 1379.4,685.5 1379.7,691.2 1380,687.7 1380.3,690.3 1380.6,684.8 1380.9,689.6 1381.2,682 1381.5,685.1 1381.8,679.6 1382.1,685 1382.4,686.8 1382.7,686.9 1383,691.6 1383.3,685.3 1383.6,684.5 1383.9,685.4 1384.2,682.8 1384.5,685.1 1384.8,680.1 1385.1,685.2 1385.4,684.9 1385.7,675.1 1386,686.9 1386.3,685 1386.6,685.8 1386.9,683.7 1387.2,692.2 1387.5,676 1387.8,687.5 1388.1,663.9 1388.4,673.5 1388.7,679.3 1389,671.3 1389.3,673.2 1389.6,675.8 1389.9,671.3 1390.2,672 1390.5,676.5 1390.8,673.1 1391.1,672.4 1391.4,673.8 1391.7,672.8 1392,669.3 1392.3,663.5 1392.6,669.6 1392.9,673.5 1393.2,676 1393.5,665.7 1393.8,678.5 1394.1,680.2 1394.4,675 1394.7,678 1395,676.7 1395.3,679.4 1395.6,677.4 1395.9,680.9 1396.2,678.7 1396.5,674.9 1396.8,674.8 1397.1,673.5 1397.4,673.1 1397.7,664 1398,675.3 1398.3,666 1398.6,668.4 1398.9,670.2 1399.2,678.8 1399.5,674.4 1399.8,670.3 1400.1,668.5 1400.4,674 1400.7,672.1 1401,664.6 1401.3,669.2 1401.6,650 1401.9,675.8 1402.2,657.9 1402.5,666 1402.8,658.5 1403.1,663.2 1403.4,667.7 1403.7,664.9 1404,671.1 1404.3,681 1404.6,669.6 1404.9,675.1 1405.2,669.2 1405.5,675.2 1405.8,671.9 1406.1,668.2 1406.4,660.8 1406.7,666.2 1407,661.5 1407.3,668.9 1407.6,664.7 1407.9,666.5 1408.2,669.4 1408.5,670.1 1408.8,670.8 1409.1,685.8 1409.4,673.1 1409.7,665.4 1410,674.2 1410.3,673.3 1410.6,671.7 1410.9,672.3 1411.2,669.6 1411.5,676.9 1411.8,668.1 1412.1,674.5 1412.4,676.1 1412.7,676.1 1413,676.6 1413.3,675 1413.6,680.3 1413.9,670 1414.2,669.2 1414.5,673.6 1414.8,665 1415.1,672.5 1415.4,670.7 1415.7,672.1 1416,668.7 1416.3,673.3 1416.6,670.2 1416.9,672 1417.2,670.8 1417.5,670.1 1417.8,669.3 1418.1,668 1418.4,664.1 1418.7,667.5 1419,660.7 1419.3,661 1419.6,661.5 1419.9,667.6 1420.2,668.2 1420.5,668.1 1420.8,672.1 1421.1,674.5 1421.4,669.1 1421.7,671.2 1422,663.9 1422.3,665.7 1422.6,672.7 1422.9,668 1423.2,664.7 1423.5,667.1 1423.8,661.5 1424.1,664.2 1424.4,667.8 1424.7,655.9 1425,654.3 1425.3,654 1425.6,651.1 1425.9,648.8 1426.2,660.1 1426.5,657.7 1426.8,667.8 1427.1,661.4 1427.4,665.9 1427.7,672.2 1428,661.4 1428.3,663.3 1428.6,660 1428.9,660.6 1429.2,655.7 1429.5,649.3 1429.8,655.4 1430.1,664.6 1430.4,652 1430.7,670.5 1431,665.7 1431.3,665.4 1431.6,667.1 1431.9,656.3 1432.2,662.8 1432.5,671.6 1432.8,666.3 1433.1,663.6 1433.4,665.4 1433.7,668.1 1434,667.8 1434.3,655.9 1434.6,662.6 1434.9,671.3 1435.2,669.5 1435.5,674.9 1435.8,670.3 1436.1,674.9 1436.4,671.7 1436.7,669.5 1437,673.1 1437.3,668.7 1437.6,669.4 1437.9,673.8 1438.2,669.7 1438.5,678.2 1438.8,677.4 1439.1,673.2 1439.4,671 1439.7,677 1440,678.8 1440.3,676.8 1440.6,676.9 1440.9,671.5 1441.2,671 1441.5,678.7 1441.8,670.1 1442.1,673.7 1442.4,668.8 1442.7,661.9 1443,676.1 1443.3,661.9 1443.6,672.7 1443.9,657.8 1444.2,666.8 1444.5,675.7 1444.8,686.3 1445.1,673.3 1445.4,672.7 1445.7,671.9 1446,663 1446.3,663.5 1446.6,667 1446.9,665.5 1447.2,666 1447.5,659.3 1447.8,660.5 1448.1,661.9 1448.4,666.5 1448.7,668.8 1449,670 1449.3,667 1449.6,669.2 1449.9,668.6 1450.2,667 1450.5,666.7 1450.8,665.9 1451.1,660.4 1451.4,656.6 1451.7,655.7 1452,650.2 1452.3,652.8 1452.6,655.9 1452.9,648.2 1453.2,652.2 1453.5,649.2 1453.8,653.9 1454.1,655.7 1454.4,672.6 1454.7,664.4 1455,658 1455.3,661 1455.6,673 1455.9,655.7 1456.2,676.1 1456.5,669.1 1456.8,665.4 1457.1,665.6 1457.4,669.2 1457.7,667.4 1458,674.9 1458.3,669.3 1458.6,655 1458.9,665.1 1459.2,663.6 1459.5,663.2 1459.8,665 1460.1,658.8 1460.4,658.1 1460.7,659.3 1461,651.7 1461.3,655.1 1461.6,658.2 1461.9,657.6 1462.2,654 1462.5,655.4 1462.8,657.6 1463.1,657.5 1463.4,641.5 1463.7,642.8 1464,650.9 1464.3,656.3 1464.6,651.8 1464.9,654.1 1465.2,651.1 1465.5,660.9 1465.8,664.8 1466.1,664.2 1466.4,660.5 1466.7,665.3 1467,662.5 1467.3,652.8 1467.6,658.1 1467.9,654.8 1468.2,660.3 1468.5,655.2 1468.8,655.4 1469.1,659.5 1469.4,665.5 1469.7,663.3 1470,663.5 1470.3,661 1470.6,668 1470.9,673 1471.2,665.2 1471.5,668.3 1471.8,667.2 1472.1,668.3 1472.4,666.7 1472.7,664 1473,665.5 1473.3,665.7 1473.6,664.1 1473.9,664.8 1474.2,662.3 1474.5,661.6 1474.8,663.4 1475.1,666.4 1475.4,658.3 1475.7,652.9 1476,669.3 1476.3,669 1476.6,669.6 1476.9,673.8 1477.2,681.7 1477.5,666.1 1477.8,668.3 1478.1,667.1 1478.4,675.9 1478.7,674 1479,679.4 1479.3,669.6 1479.6,678.6 1479.9,671.8 1480.2,661.4 1480.5,667 1480.8,662.1 1481.1,664.2 1481.4,662.1 1481.7,663.4 1482,662.8 1482.3,669.3 1482.6,665.1 1482.9,672.5 1483.2,680.3 1483.5,675.3 1483.8,689.8 1484.1,681.5 1484.4,682.2 1484.7,671.3 1485,679 1485.3,672.6 1485.6,672.2 1485.9,674.1 1486.2,676.9 1486.5,678 1486.8,677.6 1487.1,675.5 1487.4,675.2 1487.7,674.9 1488,678.5 1488.3,685.7 1488.6,683.7 1488.9,683.7 1489.2,689.6 1489.5,689.3 1489.8,690 1490.1,686.2 1490.4,694.5 1490.7,688.2 1491,679.9 1491.3,694.3 1491.6,690.4 1491.9,689.4 1492.2,692.3 1492.5,681.6 1492.8,687.9 1493.1,695.6 1493.4,687.7 1493.7,675 1494,689.7 1494.3,685.6 1494.6,693.7 1494.9,682.3 1495.2,691.6 1495.5,689.3 1495.8,693.7 1496.1,689.7 1496.4,705.9 1496.7,692.7 1497,691.7 1497.3,693.8 1497.6,693.7 1497.9,689.4 1498.2,691.9 1498.5,696.6 1498.8,698.5 1499.1,696.7 1499.4,694.9 1499.7,693.8 1500,698.4 1500.3,695.4 1500.6,692.7 1500.9,694.9 1501.2,697.5 1501.5,696.3 1501.8,697.2 1502.1,689.8 1502.4,696.9 1502.7,707 1503,702 1503.3,711.4 1503.6,707.4 1503.9,706 1504.2,701.6 1504.5,708.5 1504.8,710.1 1505.1,708.8 1505.4,709.4 1505.7,705.5 1506,701.6 1506.3,708.3 1506.6,712.8 1506.9,707.7 1507.2,713.4 1507.5,706.2 1507.8,708.8 1508.1,710.7 1508.4,706.8 1508.7,703.4 1509,710.9 1509.3,704.3 1509.6,704.3 1509.9,701.8 1510.2,700 1510.5,694 1510.8,694.6 1511.1,695.6 1511.4,696.4 1511.7,695.4 1512,704.8 1512.3,694.7 1512.6,697.3 1512.9,698.9 1513.2,695.3 1513.5,697.9 1513.8,691.7 1514.1,698.3 1514.4,696.4 1514.7,696.5 1515,695.3 1515.3,698.7 1515.6,694.1 1515.9,687.6 1516.2,688 1516.5,685.3 1516.8,686.3 1517.1,688.9 1517.4,690.4 1517.7,688.1 1518,697.5 1518.3,695.7 1518.6,695.9 1518.9,693.6 1519.2,695.4 1519.5,682.6 1519.8,689.7 1520.1,701.5 1520.4,696.2 1520.7,690.3 1521,704.9 1521.3,708.1 1521.6,701.3 1521.9,702.3 1522.2,699 1522.5,703.8 1522.8,697.4 1523.1,695.9 1523.4,696.7 1523.7,687.4 1524,694.4 1524.3,694.7 1524.6,693.8 1524.9,692.8 1525.2,695.3 1525.5,701.1 1525.8,699.4 1526.1,696.5 1526.4,698.7 1526.7,699.8 1527,705.7 1527.3,702.1 1527.6,709.8 1527.9,700.7 1528.2,709.5 1528.5,701.3 1528.8,702.8 1529.1,701.4 1529.4,700.2 1529.7,703 1530,697.7 1530.3,698.8 1530.6,699.4 1530.9,694.2 1531.2,689 1531.5,690.8 1531.8,694.7 1532.1,685.7 1532.4,691.1 1532.7,688.5 1533,688.1 1533.3,684.5 1533.6,684.1 1533.9,679 1534.2,678.6 1534.5,676.9 1534.8,668.2 1535.1,671.3 1535.4,670.8 1535.7,665.3 1536,667.1 1536.3,669.4 1536.6,668.9 1536.9,666.4 1537.2,669.3 1537.5,662.9 1537.8,662.2 1538.1,655.8 1538.4,659.8 1538.7,657.4 1539,654.3 1539.3,660.2 1539.6,659.1 1539.9,664.3 1540.2,658 1540.5,649 1540.8,652.9 1541.1,644.6 1541.4,650.4 1541.7,658.9 1542,644.4 1542.3,649.2 1542.6,645.1 1542.9,648.3 1543.2,642.1 1543.5,647.4 1543.8,646.3 1544.1,649.4 1544.4,649.2 1544.7,642.3 1545,651.7 1545.3,649.6 1545.6,649.1 1545.9,643.6 1546.2,647.9 1546.5,647.1 1546.8,641.5 1547.1,649.4 1547.4,648.8 1547.7,661.4 1548,644.1 1548.3,642 1548.6,646.2 1548.9,647.9 1549.2,647.5 1549.5,658.3 1549.8,654.2 1550.1,648 1550.4,652.9 1550.7,652.1 1551,652.1 1551.3,651.5 1551.6,651.7 1551.9,651.9 1552.2,648 1552.5,652.7 1552.8,651.9 1553.1,649.6 1553.4,656 1553.7,658.2 1554,653.7 1554.3,657.9 1554.6,662.3 1554.9,663 1555.2,660.5 1555.5,653 1555.8,646.3 1556.1,648.1 1556.4,643.2 1556.7,646 1557,638 1557.3,645.6 1557.6,646.9 1557.9,653 1558.2,654 1558.5,649.9 1558.8,652.2 1559.1,650.6 1559.4,653.5 1559.7,654.8 1560,650.1 1560.3,648.2 1560.6,648.6 1560.9,648.5 1561.2,648.8 1561.5,660.6 1561.8,654.9 1562.1,654.8 1562.4,658.4 1562.7,654.2 1563,655.9 1563.3,655.8 1563.6,649.4 1563.9,654.5 1564.2,648 1564.5,650.2 1564.8,660.9 1565.1,659.4 1565.4,660.9 1565.7,676.5 1566,669.9 1566.3,666.6 1566.6,668.3 1566.9,663.8 1567.2,670.4 1567.5,667.4 1567.8,653.3 1567.9,669.5"/>
<polyline clip-path="url(#c4)" fill="none" stroke="#d95319" stroke-width="2.4" stroke-linejoin="round" points="888,631.6 888.3,635.7 888.6,624.4 888.9,640.8 889.2,640.4 889.5,640.4 889.8,648.4 890.1,636 890.4,641.7 890.7,639.7 891,647.8 891.3,645.7 891.6,635.8 891.9,642.8 892.2,632.3 892.5,637.1 892.8,637.8 893.1,649.8 893.4,648.6 893.7,640.9 894,643.3 894.3,631.4 894.6,643.9 894.9,643.1 895.2,635.8 895.5,628.1 895.8,636.6 896.1,632.3 896.4,627.6 896.7,629.5 897,635.1 897.3,627.1 897.6,636.8 897.9,635.8 898.2,634.9 898.5,637 898.8,632 899.1,640.2 899.4,627.6 899.7,630 900,629.7 900.3,628.1 900.6,625.4 900.9,635.1 901.2,643.6 901.5,636.1 901.8,646.8 902.1,637.5 902.4,633.5 902.7,638.5 903,632.8 903.3,635.5 903.6,630.9 903.9,633.2 904.2,633.2 904.5,629.1 904.8,629.4 905.1,637.9 905.4,637.8 905.7,632.5 906,634 906.3,623.8 906.6,632.8 906.9,634 907.2,633.4 907.5,633.6 907.8,630.3 908.1,631.8 908.4,639.3 908.7,639 909,628.6 909.3,636.4 909.6,638 909.9,638.3 910.2,636.7 910.5,619.8 910.8,650.8 911.1,641.1 911.4,623.1 911.7,630.4 912,624.2 912.3,627.9 912.6,627.2 912.9,621.1 913.2,625.6 913.5,629 913.8,621.8 914.1,621.2 914.4,624 914.7,620.4 915,622.9 915.3,616.5 915.6,620.8 915.9,620.3 916.2,619.4 916.5,632.9 916.8,617.1 917.1,613.4 917.4,627.4 917.7,618 918,619.4 918.3,626.1 918.6,621.7 918.9,628.8 919.2,630.7 919.5,630.9 919.8,629.3 920.1,624.5 920.4,625.9 920.7,626 921,618.8 921.3,624.4 921.6,623.5 921.9,618.8 922.2,629.5 922.5,621.8 922.8,626.8 923.1,624.7 923.4,623.6 923.7,623.1 924,605.7 924.3,624 924.6,621.8 924.9,627.2 925.2,626.8 925.5,648.4 925.8,632.4 926.1,619.3 926.4,629.6 926.7,632.7 927,632.8 927.3,631.4 927.6,632.2 927.9,627.9 928.2,625.3 928.5,621.8 928.8,625.8 929.1,622.7 929.4,629.2 929.7,627.6 930,624.1 930.3,622.5 930.6,616.6 930.9,622.2 931.2,640.1 931.5,626.4 931.8,623.1 932.1,613.4 932.4,626.9 932.7,621 933,618.1 933.3,614.1 933.6,613.6 933.9,613.9 934.2,615.4 934.5,616.8 934.8,616.8 935.1,618.2 935.4,614.6 935.7,613.8 936,613.7 936.3,619.7 936.6,612.1 936.9,612.3 937.2,598.9 937.5,616.5 937.8,622.6 938.1,621.8 938.4,619.2 938.7,626.7 939,626.9 939.3,621.3 939.6,621.6 939.9,618.5 940.2,628.5 940.5,619.9 940.8,623.6 941.1,612.9 941.4,623.5 941.7,612.8 942,598.4 942.3,609.8 942.6,607.4 942.9,608 943.2,606 943.5,611 943.8,605 944.1,601.4 944.4,614.3 944.7,611.6 945,616.4 945.3,605.7 945.6,610.6 945.9,606 946.2,609.1 946.5,610 946.8,608.2 947.1,607.9 947.4,605.2 947.7,581.4 948,597 948.3,599.8 948.6,605.4 948.9,605.1 949.2,610.2 949.5,605.9 949.8,613.4 950.1,617.9 950.4,617.6 950.7,616 951,613.2 951.3,614.4 951.6,619.2 951.9,607.9 952.2,607.4 952.5,606.5 952.8,606.7 953.1,611.2 953.4,613.2 953.7,608.5 954,613 954.3,601.1 954.6,618.5 954.9,614 955.2,617.7 955.5,627.1 955.8,633.5 956.1,615.3 956.4,609.9 956.7,605.2 957,597.9 957.3,600.5 957.6,606.5 957.9,605 958.2,609 958.5,615 958.8,617.2 959.1,617.4 959.4,620.2 959.7,617.2 960,623.2 960.3,618 960.6,619.9 960.9,620.5 961.2,616.2 961.5,609 961.8,615.4 962.1,613.6 962.4,618 962.7,617.9 963,619.5 963.3,618.8 963.6,620.8 963.9,615.6 964.2,613.5 964.5,616 964.8,616.3 965.1,623.8 965.4,612.4 965.7,623 966,612 966.3,615.2 966.6,619.9 966.9,634.2 967.2,611.8 967.5,607.3 967.8,605.9 968.1,608.5 968.4,610.1 968.7,609 969,624.5 969.3,611.2 969.6,614.4 969.9,622.1 970.2,606.4 970.5,619.7 970.8,608.7 971.1,621.6 971.4,618.7 971.7,612.2 972,614.9 972.3,610.9 972.6,612 972.9,619.1 973.2,616.5 973.5,619.6 973.8,620.9 974.1,617.6 974.4,625.5 974.7,622.7 975,619.4 975.3,620 975.6,620 975.9,614.5 976.2,622 976.5,621.4 976.8,624.1 977.1,621.5 977.4,623.3 977.7,625.8 978,617 978.3,597.8 978.6,615.8 978.9,615.9 979.2,621 979.5,613 979.8,609.8 980.1,609.9 980.4,611.4 980.7,609.7 981,610.4 981.3,613.4 981.6,609.2 981.9,613.7 982.2,620.8 982.5,619.1 982.8,622.6 983.1,632.3 983.4,625.8 983.7,610.7 984,625.7 984.3,628.2 984.6,624 984.9,628.6 985.2,620.7 985.5,623.6 985.8,618.9 986.1,617.4 986.4,608.6 986.7,623.8 987,624.5 987.3,620.4 987.6,624.3 987.9,619.7 988.2,607.6 988.5,615.3 988.8,613.7 989.1,619.5 989.4,615.2 989.7,618.3 990,616.9 990.3,616.2 990.6,615.9 990.9,615.9 991.2,620.2 991.5,616.4 991.8,615.8 992.1,616.5 992.4,599.8 992.7,615.9 993,611.2 993.3,607.9 993.6,608.6 993.9,609.1 994.2,608.1 994.5,613.1 994.8,614 995.1,618.1 995.4,612.1 995.7,621.2 996,618.5 996.3,617.9 996.6,621.6 996.9,619.7 997.2,622.1 997.5,618 997.8,617.2 998.1,613.1 998.4,615.6 998.7,603.7 999,609.9 999.3,618.5 999.6,621.2 999.9,608.2 1000.2,600 1000.5,606.2 1000.8,603.8 1001.1,601.2 1001.4,601.4 1001.7,604.3 1002,604.8 1002.3,604.7 1002.6,607.7 1002.9,606.9 1003.2,609.3 1003.5,598.4 1003.8,605 1004.1,612.4 1004.4,607.4 1004.7,602 1005,604.5 1005.3,603.2 1005.6,593.9 1005.9,605.8 1006.2,605.4 1006.5,609 1006.8,608.6 1007.1,615.1 1007.4,617.1 1007.7,602.7 1008,612 1008.3,595.6 1008.6,606.8 1008.9,608.9 1009.2,611.1 1009.5,610.4 1009.8,611.8 1010.1,607.1 1010.4,609.5 1010.7,606.2 1011,601.6 1011.3,607 1011.6,602.6 1011.9,622.2 1012.2,606.5 1012.5,591.6 1012.8,586.4 1013.1,588.9 1013.4,591.8 1013.7,586.8 1014,596.4 1014.3,601.7 1014.6,606.5 1014.9,613.7 1015.2,610.9 1015.5,606.4 1015.8,607.9 1016.1,590.6 1016.4,596.3 1016.7,603.7 1017,594.7 1017.3,598.2 1017.6,598.8 1017.9,594.8 1018.2,601.9 1018.5,596.4 1018.8,600.2 1019.1,598.2 1019.4,590.4 1019.7,600.1 1020,598.5 1020.3,596.5 1020.6,592.6 1020.9,600.7 1021.2,610.5 1021.5,597.8 1021.8,599.7 1022.1,602.4 1022.4,601.9 1022.7,600.3 1023,594.5 1023.3,602.1 1023.6,600 1023.9,595.3 1024.2,604.3 1024.5,604 1024.8,608.9 1025.1,609.8 1025.4,603.6 1025.7,611.8 1026,607.4 1026.3,601.2 1026.6,600.3 1026.9,598.7 1027.2,596 1027.5,590.1 1027.8,594.7 1028.1,589.5 1028.4,592.3 1028.7,600.8 1029,596.8 1029.3,600.3 1029.6,596.6 1029.9,597.2 1030.2,598.9 1030.5,574.7 1030.8,582.8 1031.1,591.9 1031.4,591.4 1031.7,594.9 1032,596.1 1032.3,587.7 1032.6,588.2 1032.9,591.3 1033.2,589.2 1033.5,586.5 1033.8,589.5 1034.1,592.6 1034.4,610.3 1034.7,596.1 1035,594.9 1035.3,591.8 1035.6,595.4 1035.9,598.7 1036.2,592.9 1036.5,587.1 1036.8,585 1037.1,573.5 1037.4,588.3 1037.7,580.2 1038,588.7 1038.3,594 1038.6,586.6 1038.9,590.7 1039.2,597.8 1039.5,597.1 1039.8,605.1 1040.1,603.8 1040.4,599 1040.7,599.7 1041,600.5 1041.3,590.2 1041.6,601.5 1041.9,604.1 1042.2,607 1042.5,598.8 1042.8,612.9 1043.1,593 1043.4,589.6 1043.7,585 1044,571.2 1044.3,583.4 1044.6,581.3 1044.9,580.8 1045.2,592.9 1045.5,586.1 1045.8,597.9 1046.1,581.2 1046.4,598.1 1046.7,600.7 1047,590.2 1047.3,589.1 1047.6,586 1047.9,571.2 1048.2,569.3 1048.5,578 1048.8,575.5 1049.1,597.7 1049.4,581.3 1049.7,586.5 1050,585.3 1050.3,586.9 1050.6,574.2 1050.9,589.7 1051.2,582.3 1051.5,577.4 1051.8,565.8 1052.1,591.4 1052.4,586.5 1052.7,585.3 1053,584.4 1053.3,593.8 1053.6,589.6 1053.9,594.8 1054.2,595.8 1054.5,592.6 1054.8,590.7 1055.1,591.5 1055.4,586.6 1055.7,580.6 1056,589.7 1056.3,586.1 1056.6,588.6 1056.9,596 1057.2,591.2 1057.5,593 1057.8,590.7 1058.1,593.1 1058.4,599.2 1058.7,595.9 1059,576.8 1059.3,593.4 1059.6,590.4 1059.9,591.1 1060.2,589.8 1060.5,580.3 1060.8,584 1061.1,594.1 1061.4,581.3 1061.7,590.1 1062,591 1062.3,592.2 1062.6,602.6 1062.9,588.9 1063.2,598.2 1063.5,593.6 1063.8,590 1064.1,586.6 1064.4,585.7 1064.7,577.1 1065,585.6 1065.3,558.3 1065.6,589.9 1065.9,583.4 1066.2,579.2 1066.5,599.3 1066.8,587.9 1067.1,588.9 1067.4,597.9 1067.7,588.4 1068,586.4 1068.3,594.1 1068.6,591.9 1068.9,591 1069.2,586.8 1069.5,590.3 1069.8,590.7 1070.1,590.8 1070.4,615.5 1070.7,589.3 1071,603.8 1071.3,573.8 1071.6,589.8 1071.9,596.1 1072.2,593.4 1072.5,610.6 1072.8,603.6 1073.1,596.1 1073.4,597.3 1073.7,588.2 1074,598.5 1074.3,600.1 1074.6,596.4 1074.9,594.1 1075.2,590.7 1075.5,592.5 1075.8,605.1 1076.1,599.5 1076.4,600.7 1076.7,593.8 1077,589.7 1077.3,585 1077.6,578.2 1077.9,580.6 1078.2,579.8 1078.5,577.2 1078.8,568.7 1079.1,577.8 1079.4,575.5 1079.7,575.8 1080,582.3 1080.3,592 1080.6,579.6 1080.9,589.2 1081.2,587.7 1081.5,590.9 1081.8,600.5 1082.1,583.4 1082.4,596.1 1082.7,581.8 1083,590.2 1083.3,586.6 1083.6,590.2 1083.9,585.2 1084.2,587.7 1084.5,598.6 1084.8,596.4 1085.1,594 1085.4,592.9 1085.7,601.3 1086,594.7 1086.3,593 1086.6,579.2 1086.9,596.4 1087.2,599.3 1087.5,591.4 1087.8,587.5 1088.1,585.2 1088.4,581.9 1088.7,577.1 1089,574.3 1089.3,565.5 1089.6,577.5 1089.9,581 1090.2,582.9 1090.5,581.8 1090.8,590.4 1091.1,580.9 1091.4,583.5 1091.7,576.7 1092,583.6 1092.3,574.3 1092.6,577.6 1092.9,580.2 1093.2,580.8 1093.5,578.9 1093.8,591.6 1094.1,585.8 1094.4,574.4 1094.7,579.9 1095,578 1095.3,575.1 1095.6,571.3 1095.9,578.9 1096.2,587.2 1096.5,580.3 1096.8,589.7 1097.1,571.8 1097.4,589 1097.7,597.8 1098,579.1 1098.3,583.8 1098.6,566.3 1098.9,576.2 1099.2,576.8 1099.5,580.7 1099.8,575.1 1100.1,577.9 1100.4,579.7 1100.7,574.5 1101,587.7 1101.3,578.4 1101.6,578.6 1101.9,578.6 1102.2,574.1 1102.5,583.5 1102.8,582.7 1103.1,584 1103.4,581.6 1103.7,582.9 1104,579.1 1104.3,587 1104.6,575.9 1104.9,567.7 1105.2,572.2 1105.5,574.4 1105.8,565.7 1106.1,557.7 1106.4,572.3 1106.7,573.3 1107,569.8 1107.3,570.8 1107.6,566.8 1107.9,565.2 1108.2,559.5 1108.5,564.3 1108.8,565 1109.1,553.3 1109.4,567.3 1109.7,569.6 1110,570.5 1110.3,582.5 1110.6,580.7 1110.9,565.1 1111.2,572 1111.5,570.5 1111.8,569.9 1112.1,575.5 1112.4,566.9 1112.7,569.6 1113,574 1113.3,574.8 1113.6,568.6 1113.9,564 1114.2,567.7 1114.5,566.8 1114.8,566.1 1115.1,564.3 1115.4,563.8 1115.7,562.9 1116,575.9 1116.3,572 1116.6,576.4 1116.9,581.9 1117.2,577.2 1117.5,575.4 1117.8,574 1118.1,574.1 1118.4,572.9 1118.7,581.7 1119,578.8 1119.3,571.7 1119.6,580.5 1119.9,575.7 1120.2,578 1120.5,582.7 1120.8,577 1121.1,585.4 1121.4,583.8 1121.7,582.8 1122,583.9 1122.3,580.9 1122.6,569.1 1122.9,573.6 1123.2,574.5 1123.5,561.8 1123.8,559.7 1124.1,562.1 1124.4,568.4 1124.7,569.9 1125,569.7 1125.3,572.7 1125.6,582 1125.9,573.3 1126.2,580.1 1126.5,581.2 1126.8,584.8 1127.1,606.1 1127.4,582.3 1127.7,580.7 1128,590.1 1128.3,589.5 1128.6,584.7 1128.9,586 1129.2,591.6 1129.5,599.4 1129.8,580.5 1130.1,576.8 1130.4,580.7 1130.7,578.9 1131,586.4 1131.3,581.5 1131.6,583.7 1131.9,585.7 1132.2,585.5 1132.5,588.2 1132.8,591.1 1133.1,586.7 1133.4,583.3 1133.7,582 1134,582.5 1134.3,576.9 1134.6,569.1 1134.9,575.8 1135.2,577 1135.5,574.4 1135.8,579 1136.1,577.6 1136.4,571.7 1136.7,570.2 1137,571.6 1137.3,575.7 1137.6,569.8 1137.9,574.1 1138.2,571.4 1138.5,568.7 1138.8,569.4 1139.1,563.7 1139.4,570.2 1139.7,551.8 1140,557.8 1140.3,568.8 1140.6,557.3 1140.9,565.7 1141.2,574.9 1141.5,565.2 1141.8,569.8 1142.1,575.2 1142.4,571 1142.7,584.6 1143,576.1 1143.3,572.1 1143.6,572.4 1143.9,569.6 1144.2,568.4 1144.5,566.4 1144.8,567.8 1145.1,569.4 1145.4,554.5 1145.7,564.9 1146,574.9 1146.3,563.1 1146.6,566.3 1146.9,573.1 1147.2,560.3 1147.5,567.5 1147.8,554.8 1148.1,567.8 1148.4,561.6 1148.7,561.5 1149,558.9 1149.3,560.9 1149.6,565.9 1149.9,559.7 1150.2,559.3 1150.5,556.1 1150.8,549.2 1151.1,584.7 1151.4,575.3 1151.7,569.3 1152,568.3 1152.3,576.3 1152.6,571.2 1152.9,570.8 1153.2,557.2 1153.5,563.9 1153.8,555.9 1154.1,553.7 1154.4,558.8 1154.7,556.8 1155,554.8 1155.3,558.5 1155.6,563.7 1155.9,561.3 1156.2,559.2 1156.5,560.3 1156.8,553.1 1157.1,562.1 1157.4,559.8 1157.7,566.1 1158,564.3 1158.3,559.4 1158.6,560.4 1158.9,560.1 1159.2,565.5 1159.5,564.5 1159.8,558.2 1160.1,557.6 1160.4,566.8 1160.7,563.6 1161,563.4 1161.3,564.7 1161.6,563.7 1161.9,558.7 1162.2,556.6 1162.5,556.9 1162.8,563.4 1163.1,558.7 1163.4,576.1 1163.7,560.4 1164,565.5 1164.3,571.9 1164.6,571.1 1164.9,568.7 1165.2,575.4 1165.5,564.8 1165.8,561.4 1166.1,550.7 1166.4,552.9 1166.7,552.3 1167,552.7 1167.3,551.1 1167.6,559.4 1167.9,554.4 1168.2,557.6 1168.5,555.5 1168.8,548.5 1169.1,557.5 1169.4,558.9 1169.7,560.2 1170,566.3 1170.3,567.8 1170.6,563.2 1170.9,568.9 1171.2,561.8 1171.5,566 1171.8,575.3 1172.1,579.5 1172.4,569.8 1172.7,566.6 1173,567.1 1173.3,560 1173.6,554 1173.9,558.1 1174.2,541.4 1174.5,556.8 1174.8,558.9 1175.1,553 1175.4,551.5 1175.7,561.3 1176,560.3 1176.3,561.2 1176.6,567.3 1176.9,568 1177.2,553.3 1177.5,566.9 1177.8,572.3 1178.1,565.4 1178.4,564 1178.7,574.2 1179,569.8 1179.3,572.9 1179.6,568.1 1179.9,563.2 1180.2,561.1 1180.5,577.4 1180.8,572.4 1181.1,561.5 1181.4,548.6 1181.7,558.5 1182,559.8 1182.3,568.5 1182.6,571.8 1182.9,560.5 1183.2,560.8 1183.5,556.8 1183.8,557.1 1184.1,556.3 1184.4,552.4 1184.7,550.8 1185,566.9 1185.3,570.2 1185.6,566.8 1185.9,584.5 1186.2,570.2 1186.5,571 1186.8,574.1 1187.1,569.3 1187.4,568.7 1187.7,567.6 1188,572.8 1188.3,571.7 1188.6,575.1 1188.9,568.6 1189.2,546.5 1189.5,552.6 1189.8,559.5 1190.1,562.8 1190.4,557.9 1190.7,559.9 1191,567.8 1191.3,572.8 1191.6,568.9 1191.9,573.4 1192.2,562.8 1192.5,570.8 1192.8,561.8 1193.1,558.4 1193.4,564.3 1193.7,556 1194,555.2 1194.3,560.3 1194.6,561.7 1194.9,561.7 1195.2,560.8 1195.5,559.6 1195.8,562.7 1196.1,563 1196.4,558.4 1196.7,581.1 1197,559.9 1197.3,557 1197.6,560.1 1197.9,551.3 1198.2,556.5 1198.5,571.2 1198.8,567.2 1199.1,563.6 1199.4,561.9 1199.7,564.4 1200,576.1 1200.3,556.1 1200.6,562.2 1200.9,550.6 1201.2,560.9 1201.5,561.6 1201.8,562.3 1202.1,567.6 1202.4,568 1202.7,569.5 1203,569.4 1203.3,567.8 1203.6,569.4 1203.9,583.1 1204.2,563.2 1204.5,562.8 1204.8,557.5 1205.1,569.4 1205.4,565.8 1205.7,564.1 1206,574.2 1206.3,565.1 1206.6,561.1 1206.9,562.4 1207.2,565.6 1207.5,564 1207.8,575.3 1208.1,559.2 1208.4,566.3 1208.7,561.9 1209,557.1 1209.3,573.2 1209.6,567.2 1209.9,565.3 1210.2,566.8 1210.5,568.1 1210.8,560.9 1211.1,561.9 1211.4,567.1 1211.7,580.6 1212,570.5 1212.3,562.7 1212.6,566.8 1212.9,562.5 1213.2,553.6 1213.5,563.3 1213.8,547 1214.1,554.1 1214.4,567.9 1214.7,558.8 1215,561.7 1215.3,571.5 1215.6,562.4 1215.9,564.8 1216.2,574 1216.5,564.5 1216.8,566 1217.1,572.7 1217.4,559.7 1217.7,570.5 1218,566.7 1218.3,569.2 1218.6,563.2 1218.9,565.7 1219.2,556.6 1219.5,562.6 1219.8,558.8 1220.1,562.1 1220.4,559.5 1220.7,561.4 1221,563.7 1221.3,561.7 1221.6,570.9 1221.9,564.5 1222.2,560.2 1222.5,561.3 1222.8,567.2 1223.1,565.9 1223.4,559.4 1223.7,569.1 1224,570.9 1224.3,569.6 1224.6,565.8 1224.9,574.5 1225.2,575.3 1225.5,582.2 1225.8,585.7 1226.1,568.9 1226.4,565.6 1226.7,573.1 1227,569 1227.3,567 1227.6,562.4 1227.9,561.5 1228.2,567.3 1228.5,558.2 1228.8,567.2 1229.1,558.9 1229.4,564.9 1229.7,565.4 1230,561 1230.3,565 1230.6,568.6 1230.9,568.6 1231.2,578.7 1231.5,570.8 1231.8,573.7 1232.1,576.1 1232.4,585.3 1232.7,579.3 1233,577.7 1233.3,571.8 1233.6,566 1233.9,570.6 1234.2,577.6 1234.5,579.2 1234.8,571.9 1235.1,573.5 1235.4,580.1 1235.7,588.9 1236,580.8 1236.3,580.9 1236.6,580.3 1236.9,579.5 1237.2,577 1237.5,571.9 1237.8,583 1238.1,586.2 1238.4,565.3 1238.7,567.4 1239,565.6 1239.3,560.1 1239.6,576.6 1239.9,559.7 1240.2,562.5 1240.5,570 1240.8,569 1241.1,566.5 1241.4,588.1 1241.7,577.6 1242,569.5 1242.3,592 1242.6,587.2 1242.9,588.8 1243.2,587.3 1243.5,574.6 1243.8,576.7 1244.1,581.6 1244.4,574 1244.7,571.1 1245,570.8 1245.3,580.4 1245.6,572.2 1245.9,571.9 1246.2,583.4 1246.5,574.9 1246.8,572.1 1247.1,574.5 1247.4,574.1 1247.7,572.5 1248,574.3 1248.3,585.5 1248.6,568.7 1248.9,573.3 1249.2,574.5 1249.5,567.4 1249.8,576.4 1250.1,577.7 1250.4,575.4 1250.7,578.7 1251,590 1251.3,580.1 1251.6,576.1 1251.9,582.4 1252.2,577.4 1252.5,579 1252.8,571.5 1253.1,571 1253.4,573.6 1253.7,563.8 1254,567.9 1254.3,565.2 1254.6,570.8 1254.9,577.4 1255.2,567.4 1255.5,568.3 1255.8,566.9 1256.1,568.8 1256.4,572 1256.7,566.4 1257,582.1 1257.3,580.6 1257.6,581.1 1257.9,582.1 1258.2,580.9 1258.5,578 1258.8,577.5 1259.1,576.9 1259.4,563 1259.7,569.4 1260,573.8 1260.3,572.1 1260.6,575.9 1260.9,571.7 1261.2,580.3 1261.5,582.4 1261.8,587 1262.1,573.6 1262.4,575.7 1262.7,573.5 1263,577.3 1263.3,571 1263.6,559.7 1263.9,570 1264.2,577.7 1264.5,571.3 1264.8,570.4 1265.1,577.6 1265.4,585.3 1265.7,580 1266,575.7 1266.3,574.6 1266.6,567.5 1266.9,579.4 1267.2,574.8 1267.5,574 1267.8,583.5 1268.1,578 1268.4,570 1268.7,572.1 1269,578 1269.3,574.9 1269.6,580.9 1269.9,589.9 1270.2,584.9 1270.5,585.6 1270.8,587 1271.1,586.6 1271.4,586.4 1271.7,590.5 1272,586.2 1272.3,587 1272.6,585.7 1272.9,580.8 1273.2,587.7 1273.5,580.8 1273.8,604.2 1274.1,593.4 1274.4,588.2 1274.7,594.3 1275,586.5 1275.3,582.6 1275.6,582 1275.9,585.3 1276.2,576.8 1276.5,578.1 1276.8,557.5 1277.1,579 1277.4,584.6 1277.7,574.1 1278,582.3 1278.3,573.7 1278.6,579.5 1278.9,583.2 1279.2,576.1 1279.5,575.5 1279.8,589.4 1280.1,578.3 1280.4,581.6 1280.7,581.3 1281,579.3 1281.3,584.7 1281.6,583.2 1281.9,585.4 1282.2,592.5 1282.5,584.5 1282.8,592.1 1283.1,595.1 1283.4,596.9 1283.7,598.3 1284,601.9 1284.3,602.1 1284.6,599.9 1284.9,596.4 1285.2,598 1285.5,596.7 1285.8,601.6 1286.1,609.6 1286.4,603.1 1286.7,599 1287,602.3 1287.3,595.7 1287.6,603.2 1287.9,595.7 1288.2,585 1288.5,597.3 1288.8,598.8 1289.1,606.8 1289.4,601.6 1289.7,600.8 1290,603 1290.3,603.9 1290.6,598.5 1290.9,603 1291.2,606.4 1291.5,606.3 1291.8,600.5 1292.1,605.8 1292.4,609.1 1292.7,606.9 1293,607.9 1293.3,594.3 1293.6,603 1293.9,604.6 1294.2,603.1 1294.5,614.5 1294.8,604.4 1295.1,618 1295.4,605.3 1295.7,604.6 1296,604.9 1296.3,605.3 1296.6,618.5 1296.9,606 1297.2,605.6 1297.5,609.6 1297.8,610.3 1298.1,608.6 1298.4,614.1 1298.7,612 1299,614 1299.3,612 1299.6,611.1 1299.9,608 1300.2,605.6 1300.5,611.8 1300.8,608.1 1301.1,602.6 1301.4,606.9 1301.7,621 1302,620.4 1302.3,619.7 1302.6,612.8 1302.9,610.9 1303.2,611.4 1303.5,610.2 1303.8,602.9 1304.1,600.9 1304.4,602.5 1304.7,601.3 1305,610.7 1305.3,604 1305.6,606.3 1305.9,601.6 1306.2,603.8 1306.5,613.8 1306.8,608.1 1307.1,608.4 1307.4,612.7 1307.7,603.8 1308,607.2 1308.3,618.7 1308.6,600.4 1308.9,612 1309.2,599.7 1309.5,603.6 1309.8,606.3 1310.1,596.3 1310.4,609.6 1310.7,604.8 1311,598.8 1311.3,608 1311.6,610.3 1311.9,607.6 1312.2,614.6 1312.5,604 1312.8,608.5 1313.1,599.6 1313.4,599.7 1313.7,589 1314,602.1 1314.3,592.6 1314.6,585.1 1314.9,592 1315.2,600.7 1315.5,592.7 1315.8,595.8 1316.1,606.7 1316.4,602.4 1316.7,602.2 1317,595.9 1317.3,608.4 1317.6,596.3 1317.9,596.1 1318.2,601.5 1318.5,598.5 1318.8,599.6 1319.1,594.7 1319.4,600.3 1319.7,606.8 1320,611.5 1320.3,605.6 1320.6,599.3 1320.9,595.9 1321.2,596.7 1321.5,598.8 1321.8,592 1322.1,589.7 1322.4,577.6 1322.7,601.4 1323,595 1323.3,592.5 1323.6,592.7 1323.9,596.1 1324.2,596.8 1324.5,598.7 1324.8,591.7 1325.1,599.8 1325.4,611.3 1325.7,597.6 1326,597.7 1326.3,603.4 1326.6,602.4 1326.9,591.3 1327.2,599.8 1327.5,588.5 1327.8,590.3 1328.1,593.5 1328.4,596.3 1328.7,600.1 1329,600.2 1329.3,601.2 1329.6,603.6 1329.9,604.4 1330.2,601.7 1330.5,601.9 1330.8,595.1 1331.1,578.8 1331.4,587.2 1331.7,591.2 1332,589.2 1332.3,598.3 1332.6,596.8 1332.9,594.8 1333.2,611.8 1333.5,603.1 1333.8,596.3 1334.1,597.8 1334.4,591.4 1334.7,595 1335,590 1335.3,593.3 1335.6,594.6 1335.9,594.8 1336.2,608.4 1336.5,604.4 1336.8,597 1337.1,599.8 1337.4,604.2 1337.7,610.4 1338,616.3 1338.3,618.8 1338.6,618.1 1338.9,618.7 1339.2,622.5 1339.5,628.6 1339.8,609.4 1340.1,619.8 1340.4,621.4 1340.7,623 1341,627.3 1341.3,626.8 1341.6,623.4 1341.9,629 1342.2,635.5 1342.5,628 1342.8,626.4 1343.1,634.1 1343.4,627.8 1343.7,624.9 1344,618.7 1344.3,623.4 1344.6,621.7 1344.9,617.8 1345.2,620.9 1345.5,623.6 1345.8,610 1346.1,610.7 1346.4,616.7 1346.7,619.5 1347,616.5 1347.3,613.6 1347.6,620.3 1347.9,626.4 1348.2,627.1 1348.5,641 1348.8,629.7 1349.1,627.1 1349.4,633.7 1349.7,625.5 1350,621.6 1350.3,617.9 1350.6,610.3 1350.9,614.7 1351.2,610 1351.5,612.1 1351.8,617 1352.1,617.2 1352.4,613.4 1352.7,610.9 1353,612.4 1353.3,617.4 1353.6,603.7 1353.9,615.8 1354.2,608.9 1354.5,612.5 1354.8,605.5 1355.1,611.4 1355.4,613.3 1355.7,608.7 1356,609.1 1356.3,600.3 1356.6,604.7 1356.9,613 1357.2,613.8 1357.5,603.1 1357.8,609.5 1358.1,608.5 1358.4,612.6 1358.7,613.8 1359,617.6 1359.3,620.5 1359.6,612.7 1359.9,610.2 1360.2,620.6 1360.5,617.1 1360.8,619.5 1361.1,613.6 1361.4,613.8 1361.7,611.5 1362,599 1362.3,605.2 1362.6,606.8 1362.9,603.5 1363.2,601.5 1363.5,603.4 1363.8,600.9 1364.1,600.1 1364.4,608.9 1364.7,600.5 1365,604.1 1365.3,605.2 1365.6,608.1 1365.9,607.9 1366.2,607.6 1366.5,607.4 1366.8,598.8 1367.1,607.6 1367.4,610.7 1367.7,619.4 1368,601.3 1368.3,599 1368.6,607 1368.9,613.7 1369.2,613.3 1369.5,617.7 1369.8,615 1370.1,610.3 1370.4,612.8 1370.7,608.5 1371,608.2 1371.3,608.5 1371.6,610.4 1371.9,602.1 1372.2,603.3 1372.5,604 1372.8,600.4 1373.1,603.4 1373.4,599.7 1373.7,602.3 1374,604.2 1374.3,590.7 1374.6,601.8 1374.9,599.5 1375.2,590.2 1375.5,598.6 1375.8,581.3 1376.1,602.6 1376.4,603.1 1376.7,603 1377,597.9 1377.3,593 1377.6,606 1377.9,601.3 1378.2,593.7 1378.5,594.1 1378.8,597 1379.1,595.7 1379.4,594.2 1379.7,593.2 1380,589.3 1380.3,578.9 1380.6,590 1380.9,593.4 1381.2,587.2 1381.5,600 1381.8,589.2 1382.1,591.6 1382.4,596.4 1382.7,594.8 1383,592.4 1383.3,592 1383.6,580.6 1383.9,585.2 1384.2,585.1 1384.5,580.3 1384.8,572.9 1385.1,594.8 1385.4,585.5 1385.7,597.3 1386,597.5 1386.3,599.3 1386.6,592.4 1386.9,603.5 1387.2,596.2 1387.5,593 1387.8,600.1 1388.1,596 1388.4,605.9 1388.7,598.3 1389,603.5 1389.3,605.6 1389.6,605.9 1389.9,606.4 1390.2,603 1390.5,599.8 1390.8,584.2 1391.1,593.1 1391.4,590.7 1391.7,585 1392,592 1392.3,584.8 1392.6,595.6 1392.9,593.5 1393.2,595 1393.5,611.1 1393.8,585.1 1394.1,592.2 1394.4,597.7 1394.7,593.2 1395,601.4 1395.3,597.6 1395.6,618.1 1395.9,612.4 1396.2,602.6 1396.5,603 1396.8,594.2 1397.1,598.2 1397.4,598 1397.7,603.5 1398,588 1398.3,594.5 1398.6,599.5 1398.9,594.1 1399.2,593.5 1399.5,597 1399.8,596.9 1400.1,604.7 1400.4,601.1 1400.7,613.9 1401,591.8 1401.3,594.8 1401.6,586.8 1401.9,587.8 1402.2,589.9 1402.5,590.5 1402.8,580.8 1403.1,588.6 1403.4,578.7 1403.7,582.4 1404,582.9 1404.3,581.1 1404.6,571.9 1404.9,580.8 1405.2,588.6 1405.5,581.1 1405.8,587.1 1406.1,588.5 1406.4,587.4 1406.7,610.2 1407,581.5 1407.3,593.5 1407.6,599.1 1407.9,593.8 1408.2,590.3 1408.5,588.6 1408.8,588.8 1409.1,592.5 1409.4,586.9 1409.7,584.9 1410,581.9 1410.3,588 1410.6,588.3 1410.9,593.3 1411.2,590.9 1411.5,596.7 1411.8,596.9 1412.1,595.5 1412.4,602.2 1412.7,589.7 1413,590.8 1413.3,589.5 1413.6,584.9 1413.9,592.4 1414.2,590.4 1414.5,594.1 1414.8,588.1 1415.1,597.3 1415.4,598.5 1415.7,594.3 1416,598.1 1416.3,606.4 1416.6,586.9 1416.9,607.7 1417.2,599.4 1417.5,601.2 1417.8,619.4 1418.1,597.7 1418.4,607.3 1418.7,601.5 1419,595.7 1419.3,592.1 1419.6,592.7 1419.9,601 1420.2,582.3 1420.5,590 1420.8,584.9 1421.1,585.1 1421.4,588.1 1421.7,585.5 1422,599.4 1422.3,590.9 1422.6,587.2 1422.9,605 1423.2,588.4 1423.5,585.8 1423.8,590.1 1424.1,590.5 1424.4,591.3 1424.7,587 1425,586.9 1425.3,587.1 1425.6,587.6 1425.9,584.9 1426.2,557.3 1426.5,574 1426.8,571.5 1427.1,576.6 1427.4,579.7 1427.7,575.5 1428,579.9 1428.3,575.1 1428.6,583.5 1428.9,583.5 1429.2,589.8 1429.5,586.4 1429.8,594 1430.1,587.5 1430.4,587.5 1430.7,591.9 1431,583.7 1431.3,578.4 1431.6,582 1431.9,577.9 1432.2,581.1 1432.5,573 1432.8,575.5 1433.1,568.5 1433.4,579.1 1433.7,579.9 1434,581.7 1434.3,580.4 1434.6,589.1 1434.9,584.3 1435.2,587.6 1435.5,584.6 1435.8,581.7 1436.1,581.5 1436.4,594.2 1436.7,592.8 1437,582.8 1437.3,582.8 1437.6,579.5 1437.9,578.9 1438.2,575.1 1438.5,589.9 1438.8,577.1 1439.1,571.5 1439.4,573.7 1439.7,577.2 1440,572.8 1440.3,581.6 1440.6,591.3 1440.9,585.4 1441.2,584.8 1441.5,577.5 1441.8,583.6 1442.1,586.7 1442.4,585.6 1442.7,594.8 1443,590.8 1443.3,575 1443.6,587.9 1443.9,587.2 1444.2,587.3 1444.5,580.5 1444.8,603.8 1445.1,584.5 1445.4,584.3 1445.7,583.4 1446,581.6 1446.3,586.1 1446.6,576.9 1446.9,582.1 1447.2,585.4 1447.5,585.6 1447.8,584.7 1448.1,597.6 1448.4,579.5 1448.7,588 1449,585.7 1449.3,584.8 1449.6,580.9 1449.9,584 1450.2,568 1450.5,578.2 1450.8,567.8 1451.1,577.2 1451.4,580.9 1451.7,582.3 1452,585.7 1452.3,584 1452.6,590.5 1452.9,596.9 1453.2,583.9 1453.5,589.3 1453.8,583.4 1454.1,582.7 1454.4,585 1454.7,591.9 1455,587.7 1455.3,580 1455.6,591.3 1455.9,586.4 1456.2,596 1456.5,605.7 1456.8,597.8 1457.1,611.8 1457.4,595.8 1457.7,595.3 1458,584.1 1458.3,573.1 1458.6,592.9 1458.9,598.8 1459.2,584.3 1459.5,591.7 1459.8,583.3 1460.1,594.8 1460.4,588.3 1460.7,592.1 1461,583.5 1461.3,582.2 1461.6,586.6 1461.9,597.4 1462.2,582.6 1462.5,588.1 1462.8,589 1463.1,594.5 1463.4,596.9 1463.7,595.8 1464,581.2 1464.3,594.1 1464.6,603 1464.9,597.5 1465.2,606.2 1465.5,606.5 1465.8,606.8 1466.1,605.6 1466.4,600.2 1466.7,606.6 1467,591.2 1467.3,609.4 1467.6,608.5 1467.9,605.3 1468.2,604 1468.5,603.1 1468.8,598.8 1469.1,602.8 1469.4,633.2 1469.7,607.7 1470,609.1 1470.3,609.8 1470.6,606.4 1470.9,613.8 1471.2,613.2 1471.5,602.4 1471.8,610.6 1472.1,614.3 1472.4,601.7 1472.7,604.6 1473,598.3 1473.3,600.5 1473.6,595.3 1473.9,598.2 1474.2,596.9 1474.5,597.5 1474.8,603.7 1475.1,595.5 1475.4,598.2 1475.7,592.4 1476,592.2 1476.3,595.9 1476.6,581.5 1476.9,595.7 1477.2,600.8 1477.5,596.2 1477.8,604.2 1478.1,604.9 1478.4,600.2 1478.7,592 1479,603.2 1479.3,595.3 1479.6,605.1 1479.9,601.4 1480.2,604 1480.5,603.2 1480.8,593.2 1481.1,597.4 1481.4,599.2 1481.7,590 1482,593.7 1482.3,596.3 1482.6,589.6 1482.9,587.3 1483.2,589.8 1483.5,588.1 1483.8,589.4 1484.1,580.5 1484.4,590.6 1484.7,593 1485,590.1 1485.3,592 1485.6,594 1485.9,603.9 1486.2,610.1 1486.5,602.7 1486.8,596.5 1487.1,604.1 1487.4,602.1 1487.7,608.7 1488,613.6 1488.3,606.1 1488.6,609.9 1488.9,605.3 1489.2,607.3 1489.5,613.5 1489.8,604.4 1490.1,598.9 1490.4,600 1490.7,605.9 1491,606.2 1491.3,602.2 1491.6,600.6 1491.9,601.5 1492.2,592.4 1492.5,601 1492.8,603.6 1493.1,601.1 1493.4,600 1493.7,599.3 1494,600.4 1494.3,606.4 1494.6,600.2 1494.9,596.8 1495.2,604.1 1495.5,597.1 1495.8,593.6 1496.1,595.2 1496.4,593.6 1496.7,588.1 1497,597 1497.3,614.2 1497.6,599.5 1497.9,592.7 1498.2,604.2 1498.5,584.5 1498.8,597 1499.1,594.7 1499.4,592.7 1499.7,579.9 1500,592 1500.3,589.6 1500.6,599.9 1500.9,595.8 1501.2,593.9 1501.5,601.6 1501.8,591.7 1502.1,586.3 1502.4,588.1 1502.7,593.2 1503,590.7 1503.3,586.5 1503.6,586.8 1503.9,590.9 1504.2,597.8 1504.5,595.7 1504.8,580.8 1505.1,597.9 1505.4,596 1505.7,595.3 1506,591.8 1506.3,586.5 1506.6,593.1 1506.9,577.2 1507.2,586.1 1507.5,588.6 1507.8,583.3 1508.1,598.5 1508.4,596.7 1508.7,603.5 1509,600.6 1509.3,605.7 1509.6,596.1 1509.9,592.8 1510.2,592.4 1510.5,586.2 1510.8,598.3 1511.1,590.3 1511.4,590.7 1511.7,589.5 1512,589.8 1512.3,585.8 1512.6,581.5 1512.9,588.2 1513.2,592.1 1513.5,586.7 1513.8,584.9 1514.1,590.4 1514.4,586.2 1514.7,582.4 1515,588.4 1515.3,582 1515.6,581.9 1515.9,584.7 1516.2,587.3 1516.5,578.9 1516.8,576.3 1517.1,581.6 1517.4,577.9 1517.7,587.3 1518,581.8 1518.3,591 1518.6,593.3 1518.9,589.8 1519.2,589 1519.5,587.3 1519.8,586.7 1520.1,585.2 1520.4,589.9 1520.7,591 1521,581.8 1521.3,590.8 1521.6,589 1521.9,594.5 1522.2,578.9 1522.5,575.5 1522.8,586.3 1523.1,582.7 1523.4,580.9 1523.7,585.3 1524,582.3 1524.3,583.3 1524.6,580.9 1524.9,587.9 1525.2,586.8 1525.5,585.7 1525.8,588.6 1526.1,583.7 1526.4,584.2 1526.7,596 1527,597.3 1527.3,595.5 1527.6,601 1527.9,596.8 1528.2,603.9 1528.5,601.6 1528.8,591.2 1529.1,597.9 1529.4,590.2 1529.7,594.2 1530,597.9 1530.3,594.4 1530.6,595.1 1530.9,589.2 1531.2,591.9 1531.5,600.4 1531.8,597.3 1532.1,601.7 1532.4,590.3 1532.7,594.2 1533,592.1 1533.3,583 1533.6,581.9 1533.9,588.4 1534.2,588 1534.5,598.4 1534.8,590.3 1535.1,590.5 1535.4,593.5 1535.7,595.7 1536,599.2 1536.3,599.2 1536.6,592.6 1536.9,588.3 1537.2,575.1 1537.5,583.1 1537.8,583.7 1538.1,578.2 1538.4,565.9 1538.7,584.5 1539,578.4 1539.3,583.7 1539.6,582.4 1539.9,581.8 1540.2,581 1540.5,583.3 1540.8,588.8 1541.1,568 1541.4,583.5 1541.7,589.1 1542,577.6 1542.3,590.6 1542.6,579.7 1542.9,584.1 1543.2,585.2 1543.5,581.3 1543.8,581.4 1544.1,575.4 1544.4,581 1544.7,576.6 1545,575.9 1545.3,578 1545.6,575.7 1545.9,572.3 1546.2,567.1 1546.5,573.2 1546.8,572 1547.1,570.7 1547.4,586.6 1547.7,583.2 1548,592.8 1548.3,576.9 1548.6,565.6 1548.9,584.7 1549.2,578.9 1549.5,579.8 1549.8,587.9 1550.1,585.8 1550.4,571.9 1550.7,589 1551,564.6 1551.3,577.4 1551.6,573.6 1551.9,572.4 1552.2,566.6 1552.5,563 1552.8,561.5 1553.1,563.2 1553.4,556.8 1553.7,563.3 1554,562.6 1554.3,569.4 1554.6,568.5 1554.9,583.2 1555.2,572.7 1555.5,579.2 1555.8,581.8 1556.1,583.4 1556.4,589.5 1556.7,583.1 1557,583.8 1557.3,590.2 1557.6,589.4 1557.9,588.4 1558.2,587 1558.5,586.1 1558.8,574.7 1559.1,586.8 1559.4,576.5 1559.7,570 1560,574.4 1560.3,559.3 1560.6,569.6 1560.9,571.6 1561.2,571.9 1561.5,563.2 1561.8,579.1 1562.1,573.3 1562.4,582.7 1562.7,570.9 1563,573 1563.3,568.7 1563.6,575 1563.9,575.3 1564.2,574.5 1564.5,590.3 1564.8,580.5 1565.1,584.4 1565.4,574.6 1565.7,587.1 1566,580.5 1566.3,583.7 1566.6,586.6 1566.9,584.1 1567.2,588.2 1567.5,589.6 1567.8,583.8 1567.9,579.7"/>
<g stroke="#3a3a3a" stroke-width="2.4" stroke-linejoin="round" fill="none">
<rect x="165.8" y="53.8" width="684.6" height="361.8"/>
<path d="M279.8 53.8v7.5M279.8 415.6v-7.5M393.8 53.8v7.5M393.8 415.6v-7.5M508 53.8v7.5M508 415.6v-7.5M621.8 53.8v7.5M621.8 415.6v-7.5M736.5 53.8v7.5M736.5 415.6v-7.5M165.8 112.8h7.5M850.4 112.8h-7.5M165.8 174.5h7.5M850.4 174.5h-7.5M165.8 235.9h7.5M850.4 235.9h-7.5M165.8 295.1h7.5M850.4 295.1h-7.5M165.8 356.7h7.5M850.4 356.7h-7.5"/>
</g>
<g stroke="#3a3a3a" stroke-width="2.4" stroke-linejoin="round" fill="none">
<rect x="887.8" y="53.9" width="678" height="361.7"/>
<path d="M999.7 53.9v7.5M999.7 415.6v-7.5M1114.3 53.9v7.5M1114.3 415.6v-7.5M1228.1 53.9v7.5M1228.1 415.6v-7.5M1340.8 53.9v7.5M1340.8 415.6v-7.5M1454.2 53.9v7.5M1454.2 415.6v-7.5M887.8 112.8h7.5M1565.8 112.8h-7.5M887.8 174.4h7.5M1565.8 174.4h-7.5M887.8 236h7.5M1565.8 236h-7.5M887.8 295h7.5M1565.8 295h-7.5M887.8 356.3h7.5M1565.8 356.3h-7.5"/>
</g>
<g stroke="#3a3a3a" stroke-width="2.4" stroke-linejoin="round" fill="none">
<rect x="165.8" y="455.4" width="684.6" height="359.7"/>
<path d="M280.2 455.4v7.5M280.2 815.1v-7.5M394 455.4v7.5M394 815.1v-7.5M507.9 455.4v7.5M507.9 815.1v-7.5M622.2 455.4v7.5M622.2 815.1v-7.5M736.6 455.4v7.5M736.6 815.1v-7.5M165.8 499.2h7.5M850.4 499.2h-7.5M165.8 545h7.5M850.4 545h-7.5M165.8 589.4h7.5M850.4 589.4h-7.5M165.8 634.8h7.5M850.4 634.8h-7.5M165.8 681h7.5M850.4 681h-7.5M165.8 724.7h7.5M850.4 724.7h-7.5M165.8 771.5h7.5M850.4 771.5h-7.5"/>
</g>
<g stroke="#3a3a3a" stroke-width="2.4" stroke-linejoin="round" fill="none">
<rect x="888" y="453.3" width="679.9" height="361.9"/>
<path d="M1000.5 453.3v7.5M1000.5 815.2v-7.5M1114 453.3v7.5M1114 815.2v-7.5M1227.8 453.3v7.5M1227.8 815.2v-7.5M1342.2 453.3v7.5M1342.2 815.2v-7.5M1456.4 453.3v7.5M1456.4 815.2v-7.5M888 497h7.5M1567.9 497h-7.5M888 543.2h7.5M1567.9 543.2h-7.5M888 589.2h7.5M1567.9 589.2h-7.5M888 634.4h7.5M1567.9 634.4h-7.5M888 679.4h7.5M1567.9 679.4h-7.5M888 724.7h7.5M1567.9 724.7h-7.5M888 771.6h7.5M1567.9 771.6h-7.5"/>
</g>
<text x="148.9" y="68" font-size="37" fill="#262626" text-anchor="end">0.15</text>
<text x="148" y="129.6" font-size="37" fill="#262626" text-anchor="end">0.10</text>
<text x="148.5" y="188.4" font-size="37" fill="#262626" text-anchor="end">0.05</text>
<text x="147.8" y="250.3" font-size="37" fill="#262626" text-anchor="end">0</text>
<text x="150.7" y="311.9" font-size="37" fill="#262626" text-anchor="end">-0.05</text>
<text x="150.7" y="371.3" font-size="37" fill="#262626" text-anchor="end">-0.10</text>
<text x="150.8" y="431.9" font-size="37" fill="#262626" text-anchor="end">-0.15</text>
<text x="146.9" y="470.3" font-size="37" fill="#262626" text-anchor="end">0.04</text>
<text x="147.7" y="515.3" font-size="37" fill="#262626" text-anchor="end">0.03</text>
<text x="148.8" y="559.9" font-size="37" fill="#262626" text-anchor="end">0.02</text>
<text x="148.2" y="605.8" font-size="37" fill="#262626" text-anchor="end">0.01</text>
<text x="148.7" y="649.2" font-size="37" fill="#262626" text-anchor="end">0</text>
<text x="150.3" y="695.6" font-size="37" fill="#262626" text-anchor="end">-0.01</text>
<text x="150.5" y="741.8" font-size="37" fill="#262626" text-anchor="end">-0.02</text>
<text x="149.7" y="785.8" font-size="37" fill="#262626" text-anchor="end">-0.03</text>
<text x="149.7" y="831.2" font-size="37" fill="#262626" text-anchor="end">-0.04</text>
<text x="163.6" y="871.3" font-size="37" fill="#262626" text-anchor="middle">0</text>
<text x="277.6" y="871.3" font-size="37" fill="#262626" text-anchor="middle">4</text>
<text x="392.2" y="871.3" font-size="37" fill="#262626" text-anchor="middle">8</text>
<text x="509.8" y="871.3" font-size="37" fill="#262626" text-anchor="middle">12</text>
<text x="624.8" y="871.3" font-size="37" fill="#262626" text-anchor="middle">16</text>
<text x="737.1" y="871.3" font-size="37" fill="#262626" text-anchor="middle">20</text>
<text x="851" y="871.3" font-size="37" fill="#262626" text-anchor="middle">24</text>
<text x="886" y="871.3" font-size="37" fill="#262626" text-anchor="middle">0</text>
<text x="1000" y="871.3" font-size="37" fill="#262626" text-anchor="middle">4</text>
<text x="1114.2" y="871.3" font-size="37" fill="#262626" text-anchor="middle">8</text>
<text x="1230.2" y="871.3" font-size="37" fill="#262626" text-anchor="middle">12</text>
<text x="1342.1" y="871.3" font-size="37" fill="#262626" text-anchor="middle">16</text>
<text x="1455.6" y="871.3" font-size="37" fill="#262626" text-anchor="middle">20</text>
<text x="1569" y="871.3" font-size="37" fill="#262626" text-anchor="middle">24</text>
<text x="873.3" y="913" font-size="37" fill="#000" text-anchor="middle">Time (h)</text>
<text x="506.7" y="111.3" font-size="37" fill="#262626" text-anchor="middle">G01</text>
<text x="1224.1" y="111.3" font-size="37" fill="#262626" text-anchor="middle">G31</text>
<text x="503" y="497.8" font-size="37" fill="#262626" text-anchor="middle">G11</text>
<text x="1224.3" y="495.8" font-size="37" fill="#262626" text-anchor="middle">G18</text>
<text x="804.6" y="32.9" font-size="37" fill="#000" text-anchor="start">EM</text>
<text x="999.5" y="32.5" font-size="37" fill="#000" text-anchor="start">RM</text>
<text transform="translate(42.2,415.4) rotate(-90)" font-size="36.7" fill="#000" text-anchor="middle">Time-varying part of satellite IFCB (m)</text>
<line x1="687.5" y1="18.5" x2="798.5" y2="18.5" stroke="#2f77a5" stroke-width="2.2"/>
<line x1="882.5" y1="18.7" x2="993" y2="18.7" stroke="#c96a45" stroke-width="2.2"/>
</svg>
</body></html>
